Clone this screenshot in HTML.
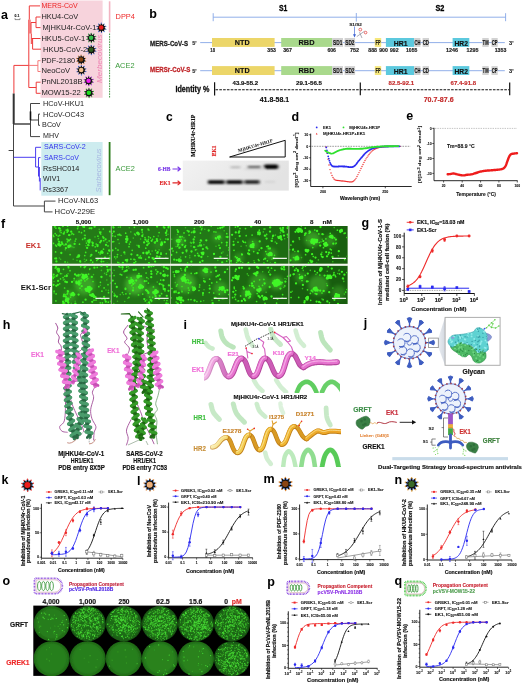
<!DOCTYPE html>
<html><head><meta charset="utf-8"><title>Figure</title>
<style>html,body{margin:0;padding:0;background:#fff}svg{display:block}text{font-family:"Liberation Sans",sans-serif}</style>
</head><body>
<svg width="523" height="685" viewBox="0 0 523 685" fill="none">
<rect width="523" height="685" fill="#fff"/>
<g fill="#000">
<g><rect x="40.5" y="0.5" width="62.1" height="97.3" fill="#f7d3dc"/>
<rect x="41.3" y="142" width="61.3" height="53.7" fill="#cdecef"/>
<text x="1" y="19.2" font-size="12.5" font-weight="700">a</text>
<text x="14.6" y="17.2" font-size="3.4" font-weight="700" stroke="#000" stroke-width="0.08">0.1</text>
<path d="M15 18.2v1.4h5v-1.4" stroke="#222" stroke-width="0.5" fill="none"/>
<text x="41.4" y="8.25" font-size="7.4" fill="#ee2222" textLength="36.3" lengthAdjust="spacingAndGlyphs">MERS-CoV</text>
<text x="41.4" y="19.45" font-size="7.4" fill="#222" textLength="36.8" lengthAdjust="spacingAndGlyphs">HKU4-CoV</text>
<text x="42.6" y="30.25" font-size="7.4" fill="#222" textLength="53.9" lengthAdjust="spacingAndGlyphs">MjHKU4r-CoV-1</text>
<text x="41.4" y="41.05" font-size="7.4" fill="#222" textLength="43.8" lengthAdjust="spacingAndGlyphs">HKU5-CoV-1</text>
<text x="43.1" y="51.85" font-size="7.4" fill="#222" textLength="44.1" lengthAdjust="spacingAndGlyphs">HKU5-CoV-2</text>
<text x="41.4" y="62.65" font-size="7.4" fill="#222" textLength="33.8" lengthAdjust="spacingAndGlyphs">PDF-2180</text>
<text x="41.4" y="73.35" font-size="7.4" fill="#222" textLength="28.8" lengthAdjust="spacingAndGlyphs">NeoCoV</text>
<text x="41.4" y="84.15" font-size="7.4" fill="#222" textLength="41.3" lengthAdjust="spacingAndGlyphs">PnNL2018B</text>
<text x="41.4" y="95.05" font-size="7.4" fill="#222" textLength="39.3" lengthAdjust="spacingAndGlyphs">MOW15-22</text>
<text x="43.1" y="106.25" font-size="7.4" fill="#222" textLength="40.9" lengthAdjust="spacingAndGlyphs">HCoV-HKU1</text>
<text x="43.1" y="116.65" font-size="7.4" fill="#222" textLength="40.9" lengthAdjust="spacingAndGlyphs">HCoV-OC43</text>
<text x="42.1" y="127.25" font-size="7.4" fill="#222" textLength="18.8" lengthAdjust="spacingAndGlyphs">BCoV</text>
<text x="43.1" y="138.25" font-size="7.4" fill="#222" textLength="15.8" lengthAdjust="spacingAndGlyphs">MHV</text>
<text x="43.9" y="149.05" font-size="7.4" fill="#3333ee" textLength="41.8" lengthAdjust="spacingAndGlyphs">SARS-CoV-2</text>
<text x="43.9" y="159.85" font-size="7.4" fill="#3333ee" textLength="35" lengthAdjust="spacingAndGlyphs">SARS-CoV</text>
<text x="43.1" y="170.65" font-size="7.4" fill="#222" textLength="36.3" lengthAdjust="spacingAndGlyphs">RsSHC014</text>
<text x="43.1" y="181.45" font-size="7.4" fill="#222" textLength="17.1" lengthAdjust="spacingAndGlyphs">WIV1</text>
<text x="43.1" y="192.15" font-size="7.4" fill="#222" textLength="25.1" lengthAdjust="spacingAndGlyphs">Rs3367</text>
<text x="58.1" y="203.25" font-size="7.4" fill="#222" textLength="40.1" lengthAdjust="spacingAndGlyphs">HCoV-NL63</text>
<text x="54.6" y="213.85" font-size="7.4" fill="#222" textLength="40.6" lengthAdjust="spacingAndGlyphs">HCoV-229E</text>
<path d="M40 5.9H29.3V19.6M28.8 19.6V87.5H36.2M36.2 82.2V93.3M36.2 82.2H40.5M36.2 93.3H40.5M40.5 17H36V27.6H40.5M36 22.5H31V33.5M30 19.6V33.5M31.3 33.5V44M31.5 38.5H40.5M32.6 38.5V49.2H41M13.9 93.5V65.4H28.8" stroke="#ee3a3a" stroke-width="1" fill="none"/>
<path d="M28.8 65.4H37.9M37.9 60.7V71.5M37.9 60.7H40.5M37.9 71.5H40.5" stroke="#f47a7a" stroke-width="1" fill="none"/>
<path d="M13.7 93.5V124" stroke="#333" stroke-width="2" fill="none"/>
<path d="M13.5 124V206H44.4M44.4 201.1V211.9M44.4 201.1H55.5M44.4 211.9H52.5M8.6 150.5H13.5" stroke="#444" stroke-width="1" fill="none"/>
<path d="M13.6 124H30.5" stroke="#444" stroke-width="1.5" fill="none"/>
<path d="M30.5 103.5V136.6M30.5 103.5H40M30.5 136.6H40M30.5 120H38.5M38.5 114.1V125.3M38.5 114.1H40M38.5 125.3H40" stroke="#444" stroke-width="1" fill="none"/>
<path d="M30.5 111.4V120.2" stroke="#111" stroke-width="1.6" fill="none"/>
<path d="M13.6 157.3H35.6M35.6 147.3V167M35.6 147.3H41M35.6 167H38.5M38.5 157.6V176.5M38.5 157.6H40.5M39.4 167V181.5M40.2 178V190.4" stroke="#4a3cf0" stroke-width="1" fill="none"/>
<path d="M103.31 28.39L105.51 29.07M102.6 29.4L103.98 31.24M101.43 29.8L101.46 32.1M100.25 29.43L98.92 31.31M99.51 28.44L97.33 29.19M99.49 27.21L97.29 26.53M100.2 26.2L98.82 24.36M101.37 25.8L101.34 23.5M102.55 26.17L103.88 24.29M103.29 27.16L105.47 26.41" stroke="#111" stroke-width="1.22" fill="none"/><path d="M105.9 29.2h.01M104.2 31.6h.01M101.5 32.5h.01M98.7 31.6h.01M97.0 29.3h.01M96.9 26.4h.01M98.6 24.0h.01M101.3 23.1h.01M104.1 24.0h.01M105.8 26.3h.01" stroke="#2a5fd0" stroke-width="1.13" stroke-linecap="round" fill="none"/><circle cx="101.4" cy="27.8" r="3.25" fill="#111"/><circle cx="101.2" cy="27.6" r="2.25" fill="#ee1c1c"/>
<path d="M93.21 38.49L95.41 39.17M92.5 39.5L93.88 41.34M91.33 39.9L91.36 42.2M90.15 39.53L88.82 41.41M89.41 38.54L87.23 39.29M89.39 37.31L87.19 36.63M90.1 36.3L88.72 34.46M91.27 35.9L91.24 33.6M92.45 36.27L93.78 34.39M93.19 37.26L95.37 36.51" stroke="#111" stroke-width="1.22" fill="none"/><path d="M95.8 39.3h.01M94.1 41.7h.01M91.4 42.6h.01M88.6 41.7h.01M86.9 39.4h.01M86.8 36.5h.01M88.5 34.1h.01M91.2 33.2h.01M94.0 34.1h.01M95.7 36.4h.01" stroke="#2a9a40" stroke-width="1.13" stroke-linecap="round" fill="none"/><circle cx="91.3" cy="37.9" r="3.25" fill="#111"/><circle cx="91.1" cy="37.7" r="2.25" fill="#35c24a"/>
<path d="M93.21 50.49L95.41 51.17M92.5 51.5L93.88 53.34M91.33 51.9L91.36 54.2M90.15 51.53L88.82 53.41M89.41 50.54L87.23 51.29M89.39 49.31L87.19 48.63M90.1 48.3L88.72 46.46M91.27 47.9L91.24 45.6M92.45 48.27L93.78 46.39M93.19 49.26L95.37 48.51" stroke="#111" stroke-width="1.22" fill="none"/><path d="M95.8 51.3h.01M94.1 53.7h.01M91.4 54.6h.01M88.6 53.7h.01M86.9 51.4h.01M86.8 48.5h.01M88.5 46.1h.01M91.2 45.2h.01M94.0 46.1h.01M95.7 48.4h.01" stroke="#2a5fd0" stroke-width="1.13" stroke-linecap="round" fill="none"/><circle cx="91.3" cy="49.9" r="3.25" fill="#111"/><circle cx="91.1" cy="49.7" r="2.25" fill="#2d5a1e"/>
<path d="M83.11 60.39L85.31 61.07M82.4 61.4L83.78 63.24M81.23 61.8L81.26 64.1M80.05 61.43L78.72 63.31M79.31 60.44L77.13 61.19M79.29 59.21L77.09 58.53M80 58.2L78.62 56.36M81.17 57.8L81.14 55.5M82.35 58.17L83.68 56.29M83.09 59.16L85.27 58.41" stroke="#111" stroke-width="1.22" fill="none"/><path d="M85.7 61.2h.01M84.0 63.6h.01M81.3 64.5h.01M78.5 63.6h.01M76.8 61.3h.01M76.7 58.4h.01M78.4 56.0h.01M81.1 55.1h.01M83.9 56.0h.01M85.6 58.3h.01" stroke="#d08030" stroke-width="1.13" stroke-linecap="round" fill="none"/><circle cx="81.2" cy="59.8" r="3.25" fill="#111"/><circle cx="81" cy="59.6" r="2.25" fill="#8a4513"/>
<path d="M83.31 70.79L85.51 71.47M82.6 71.8L83.98 73.64M81.43 72.2L81.46 74.5M80.25 71.83L78.92 73.71M79.51 70.84L77.33 71.59M79.49 69.61L77.29 68.93M80.2 68.6L78.82 66.76M81.37 68.2L81.34 65.9M82.55 68.57L83.88 66.69M83.29 69.56L85.47 68.81" stroke="#111" stroke-width="1.22" fill="none"/><path d="M85.9 71.6h.01M84.2 74.0h.01M81.5 74.9h.01M78.7 74.0h.01M77.0 71.7h.01M76.9 68.8h.01M78.6 66.4h.01M81.3 65.5h.01M84.1 66.4h.01M85.8 68.7h.01" stroke="#2a5fd0" stroke-width="1.13" stroke-linecap="round" fill="none"/><circle cx="81.4" cy="70.2" r="3.25" fill="#111"/><circle cx="81.2" cy="70" r="2.25" fill="#f2bf8a"/>
<path d="M90.61 81.49L92.81 82.17M89.9 82.5L91.28 84.34M88.73 82.9L88.76 85.2M87.55 82.53L86.22 84.41M86.81 81.54L84.63 82.29M86.79 80.31L84.59 79.63M87.5 79.3L86.12 77.46M88.67 78.9L88.64 76.6M89.85 79.27L91.18 77.39M90.59 80.26L92.77 79.51" stroke="#111" stroke-width="1.22" fill="none"/><path d="M93.2 82.3h.01M91.5 84.7h.01M88.8 85.6h.01M86.0 84.7h.01M84.3 82.4h.01M84.2 79.5h.01M85.9 77.1h.01M88.6 76.2h.01M91.4 77.1h.01M93.1 79.4h.01" stroke="#a020e0" stroke-width="1.13" stroke-linecap="round" fill="none"/><circle cx="88.7" cy="80.9" r="3.25" fill="#111"/><circle cx="88.5" cy="80.7" r="2.25" fill="#f020f0"/>
<path d="M90.91 93.49L93.11 94.17M90.2 94.5L91.58 96.34M89.03 94.9L89.06 97.2M87.85 94.53L86.52 96.41M87.11 93.54L84.93 94.29M87.09 92.31L84.89 91.63M87.8 91.3L86.42 89.46M88.97 90.9L88.94 88.6M90.15 91.27L91.48 89.39M90.89 92.26L93.07 91.51" stroke="#111" stroke-width="1.22" fill="none"/><path d="M93.5 94.3h.01M91.8 96.7h.01M89.1 97.6h.01M86.3 96.7h.01M84.6 94.4h.01M84.5 91.5h.01M86.2 89.1h.01M88.9 88.2h.01M91.7 89.1h.01M93.4 91.4h.01" stroke="#30b030" stroke-width="1.13" stroke-linecap="round" fill="none"/><circle cx="89" cy="92.9" r="3.25" fill="#111"/><circle cx="88.8" cy="92.7" r="2.25" fill="#22e022"/>
<text font-size="8.08" font-style="italic" fill="#ee86b4" transform="translate(102.49 83) rotate(-90)">Merbecovirus</text>
<text font-size="7.57" font-style="italic" fill="#a9b9e2" transform="translate(100.51 192.5) rotate(-90)">Sarbecovirus</text>
<path d="M109.6 1.3V32.4" stroke="#f2b4c2" stroke-width="1.6" fill="none"/>
<path d="M109.6 33.5V98" stroke="#2e8b2e" stroke-width="0.9" fill="none" stroke-dasharray="1.6 1"/>
<path d="M109.6 142V195.2" stroke="#2a7a1a" stroke-width="1.8" fill="none"/>
<text x="115.6" y="19.05" font-size="7.4" fill="#ee2a2a">DPP4</text>
<text x="115.2" y="68.05" font-size="7.4" fill="#3a9a3a">ACE2</text>
<text x="115.6" y="170.55" font-size="7.4" fill="#3a9a3a">ACE2</text></g>
<g><text x="149.3" y="18.1" font-size="12.5" font-weight="700">b</text>
<path d="M213.2 17.2H505.6M213.2 13.2V21.2M505.6 13.2V21.2M356.3 13V21.6" stroke="#86a6e6" stroke-width="0.9" fill="none"/>
<text x="279" y="11.33" font-size="9.3" font-weight="700" textLength="8.4" lengthAdjust="spacingAndGlyphs" stroke="#000" stroke-width="0.3">S1</text>
<text x="435.4" y="11.33" font-size="9.3" font-weight="700" textLength="9" lengthAdjust="spacingAndGlyphs" stroke="#000" stroke-width="0.3">S2</text>
<text x="349.2" y="25.5" font-size="4.2" font-weight="700" fill="#222" stroke="#222" stroke-width="0.08" textLength="12.8" lengthAdjust="spacingAndGlyphs">S1/S2</text>
<path d="M354.5 26.5V35" stroke="#4a6fd8" stroke-width="0.7" fill="none"/>
<path d="M353 34.2L354.5 37.6L356 34.2Z" stroke="none" stroke-width="0" fill="#3a5fd0"/>
<path d="M356.8 36.6L364.5 31.2M359.5 32.2L362 38" stroke="#8a8a9a" stroke-width="0.7" fill="none"/>
<circle cx="360.3" cy="29.6" r="1.4" fill="none" stroke="#e03030" stroke-width="0.7"/><circle cx="365.6" cy="32.6" r="1.3" fill="none" stroke="#e03030" stroke-width="0.7"/>
<path d="M200.2 42.6 H504.8" stroke="#86a6e6" stroke-width="0.9" fill="none"/>
<rect x="212" y="38" width="62.6" height="8.9" fill="#ecd669"/>
<rect x="281.2" y="38" width="50.9" height="8.9" fill="#a9d98c"/>
<rect x="332.1" y="38" width="10.9" height="8.9" fill="#d2d2d2"/>
<rect x="344.6" y="38" width="10.5" height="8.9" fill="#d2d2d2"/>
<rect x="374.8" y="38" width="6.4" height="8.9" fill="#f6e77c"/>
<rect x="385.9" y="38" width="28.3" height="8.9" fill="#5cc9de"/>
<rect x="414.2" y="38" width="6.2" height="8.9" fill="#d2d2d2"/>
<rect x="422.6" y="38" width="6.4" height="8.9" fill="#d2d2d2"/>
<rect x="452.6" y="38" width="16.7" height="8.9" fill="#5cc9de"/>
<rect x="482.3" y="38" width="6.4" height="8.9" fill="#d2d2d2"/>
<rect x="491.5" y="38" width="6.2" height="8.9" fill="#d2d2d2"/>
<text x="234.8" y="45.28" font-size="7.2" font-weight="700" fill="#111" stroke="#111" stroke-width="0.15" textLength="14.8" lengthAdjust="spacingAndGlyphs">NTD</text>
<text x="298.5" y="45.35" font-size="7.4" font-weight="700" fill="#111" stroke="#111" stroke-width="0.15" textLength="16" lengthAdjust="spacingAndGlyphs">RBD</text>
<text x="333" y="44.87" font-size="6.9" font-weight="700" fill="#111" stroke="#111" stroke-width="0.15" textLength="9.3" lengthAdjust="spacingAndGlyphs">SD1</text>
<text x="345.3" y="44.87" font-size="6.9" font-weight="700" fill="#111" stroke="#111" stroke-width="0.15" textLength="9.2" lengthAdjust="spacingAndGlyphs">SD2</text>
<text x="375.6" y="44.97" font-size="6.9" font-weight="700" fill="#111" stroke="#111" stroke-width="0.15" textLength="5" lengthAdjust="spacingAndGlyphs">FP</text>
<text x="393.7" y="45.59" font-size="7.8" font-weight="700" fill="#111" textLength="13.8" lengthAdjust="spacingAndGlyphs" stroke="#111" stroke-width="0.2">HR1</text>
<text x="414.5" y="44.97" font-size="6.9" font-weight="700" fill="#111" stroke="#111" stroke-width="0.15" textLength="5.9" lengthAdjust="spacingAndGlyphs">CH</text>
<text x="422.7" y="44.97" font-size="6.9" font-weight="700" fill="#111" stroke="#111" stroke-width="0.15" textLength="6.2" lengthAdjust="spacingAndGlyphs">CD</text>
<text x="454.5" y="45.59" font-size="7.8" font-weight="700" fill="#111" textLength="13.5" lengthAdjust="spacingAndGlyphs" stroke="#111" stroke-width="0.2">HR2</text>
<text x="482.6" y="44.97" font-size="6.9" font-weight="700" fill="#111" stroke="#111" stroke-width="0.15" textLength="6" lengthAdjust="spacingAndGlyphs">TM</text>
<text x="491.8" y="44.97" font-size="6.9" font-weight="700" fill="#111" stroke="#111" stroke-width="0.15" textLength="5.8" lengthAdjust="spacingAndGlyphs">CP</text>
<text x="150.1" y="45.79" font-size="7.8" font-weight="700" fill="#222" textLength="37.9" lengthAdjust="spacingAndGlyphs" stroke="#222" stroke-width="0.3">MERS-CoV-S</text>
<text x="192.2" y="44.92" font-size="4.8" font-weight="700" fill="#222" stroke="#222" stroke-width="0.08" textLength="4.4" lengthAdjust="spacingAndGlyphs">5'</text>
<text x="509" y="45.12" font-size="4.8" font-weight="700" fill="#222" stroke="#222" stroke-width="0.08" textLength="4.5" lengthAdjust="spacingAndGlyphs">3'</text>
<path d="M200.2 70.7 H504.8" stroke="#86a6e6" stroke-width="0.9" fill="none"/>
<rect x="212" y="66.1" width="62.6" height="8.9" fill="#ecd669"/>
<rect x="281.2" y="66.1" width="50.9" height="8.9" fill="#a9d98c"/>
<rect x="332.1" y="66.1" width="10.9" height="8.9" fill="#d2d2d2"/>
<rect x="344.6" y="66.1" width="10.5" height="8.9" fill="#d2d2d2"/>
<rect x="374.8" y="66.1" width="6.4" height="8.9" fill="#f6e77c"/>
<rect x="385.9" y="66.1" width="28.3" height="8.9" fill="#5cc9de"/>
<rect x="414.2" y="66.1" width="6.2" height="8.9" fill="#d2d2d2"/>
<rect x="422.6" y="66.1" width="6.4" height="8.9" fill="#d2d2d2"/>
<rect x="452.6" y="66.1" width="16.7" height="8.9" fill="#5cc9de"/>
<rect x="482.3" y="66.1" width="6.4" height="8.9" fill="#d2d2d2"/>
<rect x="491.5" y="66.1" width="6.2" height="8.9" fill="#d2d2d2"/>
<text x="234.8" y="73.38" font-size="7.2" font-weight="700" fill="#111" stroke="#111" stroke-width="0.15" textLength="14.8" lengthAdjust="spacingAndGlyphs">NTD</text>
<text x="298.5" y="73.45" font-size="7.4" font-weight="700" fill="#111" stroke="#111" stroke-width="0.15" textLength="16" lengthAdjust="spacingAndGlyphs">RBD</text>
<text x="333" y="72.97" font-size="6.9" font-weight="700" fill="#111" stroke="#111" stroke-width="0.15" textLength="9.3" lengthAdjust="spacingAndGlyphs">SD1</text>
<text x="345.3" y="72.97" font-size="6.9" font-weight="700" fill="#111" stroke="#111" stroke-width="0.15" textLength="9.2" lengthAdjust="spacingAndGlyphs">SD2</text>
<text x="375.6" y="73.07" font-size="6.9" font-weight="700" fill="#111" stroke="#111" stroke-width="0.15" textLength="5" lengthAdjust="spacingAndGlyphs">FP</text>
<text x="393.7" y="73.69" font-size="7.8" font-weight="700" fill="#111" textLength="13.8" lengthAdjust="spacingAndGlyphs" stroke="#111" stroke-width="0.2">HR1</text>
<text x="414.5" y="73.07" font-size="6.9" font-weight="700" fill="#111" stroke="#111" stroke-width="0.15" textLength="5.9" lengthAdjust="spacingAndGlyphs">CH</text>
<text x="422.7" y="73.07" font-size="6.9" font-weight="700" fill="#111" stroke="#111" stroke-width="0.15" textLength="6.2" lengthAdjust="spacingAndGlyphs">CD</text>
<text x="454.5" y="73.69" font-size="7.8" font-weight="700" fill="#111" textLength="13.5" lengthAdjust="spacingAndGlyphs" stroke="#111" stroke-width="0.2">HR2</text>
<text x="482.6" y="73.07" font-size="6.9" font-weight="700" fill="#111" stroke="#111" stroke-width="0.15" textLength="6" lengthAdjust="spacingAndGlyphs">TM</text>
<text x="491.8" y="73.07" font-size="6.9" font-weight="700" fill="#111" stroke="#111" stroke-width="0.15" textLength="5.8" lengthAdjust="spacingAndGlyphs">CP</text>
<text x="150.1" y="72.09" font-size="7.8" font-weight="700" fill="#c0262a" textLength="40.2" lengthAdjust="spacingAndGlyphs" stroke="#c0262a" stroke-width="0.3">MERSr-CoV-S</text>
<text x="192.2" y="73.02" font-size="4.8" font-weight="700" fill="#222" stroke="#222" stroke-width="0.08" textLength="4.4" lengthAdjust="spacingAndGlyphs">5'</text>
<text x="509" y="73.22" font-size="4.8" font-weight="700" fill="#222" stroke="#222" stroke-width="0.08" textLength="4.5" lengthAdjust="spacingAndGlyphs">3'</text>
<text x="210.3" y="52.39" font-size="5" font-weight="700" fill="#222" stroke="#222" stroke-width="0.15" textLength="4.7" lengthAdjust="spacingAndGlyphs">18</text>
<text x="267.3" y="52.39" font-size="5" font-weight="700" fill="#222" stroke="#222" stroke-width="0.15" textLength="8.7" lengthAdjust="spacingAndGlyphs">353</text>
<text x="283.2" y="52.39" font-size="5" font-weight="700" fill="#222" stroke="#222" stroke-width="0.15" textLength="8.8" lengthAdjust="spacingAndGlyphs">367</text>
<text x="327.4" y="52.39" font-size="5" font-weight="700" fill="#222" stroke="#222" stroke-width="0.15" textLength="8.6" lengthAdjust="spacingAndGlyphs">606</text>
<text x="350" y="52.39" font-size="5" font-weight="700" fill="#222" stroke="#222" stroke-width="0.15" textLength="9" lengthAdjust="spacingAndGlyphs">752</text>
<text x="368.3" y="52.39" font-size="5" font-weight="700" fill="#222" stroke="#222" stroke-width="0.15" textLength="8.7" lengthAdjust="spacingAndGlyphs">888</text>
<text x="379.2" y="52.39" font-size="5" font-weight="700" fill="#222" stroke="#222" stroke-width="0.15" textLength="8.6" lengthAdjust="spacingAndGlyphs">900</text>
<text x="390" y="52.39" font-size="5" font-weight="700" fill="#222" stroke="#222" stroke-width="0.15" textLength="8.5" lengthAdjust="spacingAndGlyphs">992</text>
<text x="406" y="52.39" font-size="5" font-weight="700" fill="#222" stroke="#222" stroke-width="0.15" textLength="11.3" lengthAdjust="spacingAndGlyphs">1055</text>
<text x="446" y="52.39" font-size="5" font-weight="700" fill="#222" stroke="#222" stroke-width="0.15" textLength="12" lengthAdjust="spacingAndGlyphs">1246</text>
<text x="466.6" y="52.39" font-size="5" font-weight="700" fill="#222" stroke="#222" stroke-width="0.15" textLength="11.9" lengthAdjust="spacingAndGlyphs">1295</text>
<text x="494.7" y="52.39" font-size="5" font-weight="700" fill="#222" stroke="#222" stroke-width="0.15" textLength="11.6" lengthAdjust="spacingAndGlyphs">1353</text>
<text x="175.4" y="91.94" font-size="8.2" font-weight="700" fill="#111" textLength="34" lengthAdjust="spacingAndGlyphs" stroke="#111" stroke-width="0.3">Identity %</text>
<path d="M214.6 82.3V95.5M360.3 82.4V95.2M509.7 82.4V95.2" stroke="#111" stroke-width="1.2" fill="none"/>
<path d="M215.5 89.8H509" stroke="#111" stroke-width="1.1" fill="none" stroke-dasharray="2.6 1.2"/>
<text x="232.5" y="84.92" font-size="6.2" font-weight="700" fill="#111" stroke="#111" stroke-width="0.15" textLength="25.7" lengthAdjust="spacingAndGlyphs">43.9-55.2</text>
<text x="296" y="84.92" font-size="6.2" font-weight="700" fill="#111" stroke="#111" stroke-width="0.15" textLength="26" lengthAdjust="spacingAndGlyphs">29.1-56.5</text>
<text x="388.5" y="85.32" font-size="6.2" font-weight="700" fill="#c42a2a" stroke="#c42a2a" stroke-width="0.15" textLength="25.7" lengthAdjust="spacingAndGlyphs">82.5-92.1</text>
<text x="450.6" y="85.32" font-size="6.2" font-weight="700" fill="#c42a2a" stroke="#c42a2a" stroke-width="0.15" textLength="25.4" lengthAdjust="spacingAndGlyphs">67.4-91.8</text>
<text x="259.7" y="102.01" font-size="7.3" font-weight="700" fill="#111" stroke="#111" stroke-width="0.15" textLength="29.5" lengthAdjust="spacingAndGlyphs">41.8-58.1</text>
<text x="423.7" y="102.01" font-size="7.3" font-weight="700" fill="#c42a2a" stroke="#c42a2a" stroke-width="0.15" textLength="29.9" lengthAdjust="spacingAndGlyphs">70.7-87.6</text></g>
<g><defs><filter id="bl" x="-20%" y="-100%" width="140%" height="300%"><feGaussianBlur stdDeviation="1.4 0.9"/></filter></defs>
<text x="166" y="120.7" font-size="12" font-weight="700">c</text>
<text font-size="5.6" font-weight="700" style="font-family:Liberation Serif,serif" fill="#111" stroke="#111" stroke-width="0.15" textLength="42" lengthAdjust="spacingAndGlyphs" transform="translate(194.9 156.7) rotate(-90)">MjHKU4r-HR1P</text>
<text font-size="5.6" font-weight="700" style="font-family:Liberation Serif,serif" fill="#e02a2a" stroke="#e02a2a" stroke-width="0.15" textLength="10.7" lengthAdjust="spacingAndGlyphs" transform="translate(215.8 156.2) rotate(-90)">EK1</text>
<path d="M229.6 157H285.2V140.3Z" stroke="#111" stroke-width="1" fill="#fff"/>
<text font-size="4.8" font-weight="700" style="font-family:Liberation Serif,serif" fill="#111" transform="translate(238.5 152.2) rotate(-16.5)" textLength="36" lengthAdjust="spacingAndGlyphs">MjHKU4r-HR1P</text>
<defs><linearGradient id="gg" x1="0" y1="0" x2="1" y2="0.3"><stop offset="0" stop-color="#f2f2f2"/><stop offset="1" stop-color="#e3e3e3"/></linearGradient></defs>
<rect x="182.8" y="160.6" width="106" height="30" fill="url(#gg)"/>
<g filter="url(#bl)">
<rect x="208" y="180.3" width="16.5" height="3.6" fill="#050505"/>
<rect x="226.5" y="180.3" width="16" height="3.6" fill="#050505"/>
<rect x="244.5" y="180.4" width="15" height="3.3" fill="#0a0a0a"/>
<rect x="265" y="181" width="10" height="1.6" fill="#cfcfcf"/>
<rect x="230.5" y="166.5" width="10" height="1.6" fill="#a8a8a8"/>
<rect x="247.7" y="166" width="13" height="2.2" fill="#4a4a4a"/>
<rect x="263.8" y="164.4" width="14.6" height="4.6" fill="#060606" rx="2"/>
<rect x="244" y="168.5" width="20" height="1.2" fill="#cfcfcf"/>
</g>
<text x="158" y="171.08" font-size="5.8" font-weight="700" style="font-family:Liberation Serif,serif" fill="#7a38e8" stroke="#7a38e8" stroke-width="0.15" textLength="12.5" lengthAdjust="spacingAndGlyphs">6-HB</text>
<path d="M172.5 169H180M177.6 166.8L180.4 169L177.6 171.2" stroke="#7a38e8" stroke-width="1.1" fill="none"/>
<text x="159.4" y="184.98" font-size="5.8" font-weight="700" style="font-family:Liberation Serif,serif" fill="#e0282a" stroke="#e0282a" stroke-width="0.15" textLength="11.1" lengthAdjust="spacingAndGlyphs">EK1</text>
<path d="M172.5 182.9H180M177.6 180.7L180.4 182.9L177.6 185.1" stroke="#e0282a" stroke-width="1.1" fill="none"/></g>
<g><text x="291.6" y="120.6" font-size="12.5" font-weight="700">d</text>
<circle cx="316.7" cy="127.4" r="0.9" fill="#2a2af0"/>
<text x="322.9" y="128.9" font-size="4.2" font-weight="700" fill="#111" stroke="#111" stroke-width="0.08" textLength="8.1" lengthAdjust="spacingAndGlyphs">EK1</text>
<circle cx="343.5" cy="127.4" r="0.9" fill="#2ee02e"/>
<text x="349.2" y="128.9" font-size="4.2" font-weight="700" fill="#111" stroke="#111" stroke-width="0.08" textLength="31" lengthAdjust="spacingAndGlyphs">MjHKU4r-HR1P</text>
<path d="M316.7 132.8l.9 1.6h-1.8z" stroke="none" stroke-width="0" fill="#ee2222"/>
<text x="322.9" y="135.3" font-size="4.2" font-weight="700" fill="#111" stroke="#111" stroke-width="0.08" textLength="42.4" lengthAdjust="spacingAndGlyphs">MjHKU4r-HR1P+EK1</text>
<path d="M310.7 133.6V186.5H411.7" stroke="#111" stroke-width="0.9" fill="none"/>
<path d="M309 134.8H310.7M309 146.3H310.7M309 157.8H310.7M309 169.2H310.7M309 180.7H310.7M322.9 186.5V188.3M385.3 186.5V188.3" stroke="#111" stroke-width="0.7" fill="none"/>
<text x="308.3" y="136.09" font-size="3.6" font-weight="700" text-anchor="end" fill="#111" stroke="#111" stroke-width="0.08">10</text>
<text x="308.3" y="147.59" font-size="3.6" font-weight="700" text-anchor="end" fill="#111" stroke="#111" stroke-width="0.08">0</text>
<text x="308.3" y="159.09" font-size="3.6" font-weight="700" text-anchor="end" fill="#111" stroke="#111" stroke-width="0.08">-10</text>
<text x="308.3" y="170.49" font-size="3.6" font-weight="700" text-anchor="end" fill="#111" stroke="#111" stroke-width="0.08">-20</text>
<text x="308.3" y="181.99" font-size="3.6" font-weight="700" text-anchor="end" fill="#111" stroke="#111" stroke-width="0.08">-30</text>
<text x="322.9" y="193" font-size="3.6" font-weight="700" text-anchor="middle" fill="#111" stroke="#111" stroke-width="0.08">200</text>
<text x="385.3" y="193" font-size="3.6" font-weight="700" text-anchor="middle" fill="#111" stroke="#111" stroke-width="0.08">250</text>
<path d="M311.5 146.3H410.5" stroke="#555" stroke-width="0.6" fill="none" stroke-dasharray="1.6 1"/>
<text font-size="4.3" font-weight="700" fill="#111" stroke="#111" stroke-width="0.08" textLength="55.1" lengthAdjust="spacingAndGlyphs" transform="translate(297.74 187.6) rotate(-90)">[θ]10<tspan font-size="2.6" dy="-1.4">-3</tspan><tspan dy="1.4"> deg cm</tspan><tspan font-size="2.6" dy="-1.4">2</tspan><tspan dy="1.4"> dmol</tspan><tspan font-size="2.6" dy="-1.4">-1</tspan><tspan dy="1.4">]</tspan></text>
<text x="340" y="200.39" font-size="5" font-weight="700" fill="#111" stroke="#111" stroke-width="0.15" textLength="40.2" lengthAdjust="spacingAndGlyphs">Wavelength (nm)</text>
<path d="M326.0 147.0h.01M327.0 153.0h.01M328.0 159.2h.01M329.0 165.0h.01M330.0 169.6h.01M331.0 173.0h.01M332.0 175.5h.01M333.0 177.5h.01M334.0 179.0h.01M335.0 179.8h.01M336.0 180.2h.01M337.0 180.4h.01M338.0 180.5h.01M339.0 180.6h.01M340.0 180.7h.01M341.0 180.9h.01M342.0 181.0h.01M343.0 181.0h.01M344.0 181.1h.01M345.0 181.2h.01M346.0 181.4h.01M347.0 181.6h.01M348.0 181.7h.01M349.0 181.8h.01M350.0 181.9h.01M351.0 181.9h.01M352.0 181.8h.01M353.0 181.5h.01M354.0 180.7h.01M355.0 179.7h.01M356.0 178.3h.01M357.0 176.5h.01M358.0 174.6h.01M359.0 172.6h.01M360.0 170.6h.01M361.0 168.5h.01M362.0 166.5h.01M363.0 164.5h.01M364.0 162.4h.01M365.0 160.5h.01M366.0 158.8h.01M367.0 157.3h.01M368.0 155.9h.01M369.0 154.5h.01M370.0 153.2h.01M371.0 152.1h.01M372.0 151.1h.01M373.0 150.3h.01M374.0 149.6h.01M375.0 149.0h.01M376.0 148.6h.01M377.0 148.2h.01M378.0 147.9h.01M379.0 147.6h.01M380.0 147.4h.01M381.0 147.2h.01M382.0 147.1h.01M383.0 146.9h.01M384.0 146.8h.01M385.0 146.7h.01M386.0 146.6h.01M387.0 146.5h.01M388.0 146.5h.01M389.0 146.4h.01M390.0 146.4h.01M391.0 146.4h.01M392.0 146.4h.01M393.0 146.3h.01M394.0 146.3h.01M395.0 146.3h.01M396.0 146.3h.01M397.0 146.3h.01M398.0 146.3h.01M399.0 146.3h.01M400.0 146.3h.01" stroke="#ee2222" stroke-width="1.3" stroke-linecap="round" fill="none"/>
<path d="M326.3 147.4h.01M326.9 150.3h.01M327.5 153.2h.01M328.2 156.3h.01M328.8 158.6h.01M329.4 160.7h.01M330.0 162.6h.01M330.6 164.0h.01M331.3 165.0h.01M331.9 165.7h.01M332.5 166.1h.01M333.1 166.4h.01M333.7 166.5h.01M334.4 166.6h.01M335.0 166.7h.01M335.6 166.7h.01M336.2 166.7h.01M336.8 166.6h.01M337.5 166.6h.01M338.1 166.5h.01M338.7 166.5h.01M339.3 166.4h.01M339.9 166.4h.01M340.6 166.4h.01M341.2 166.4h.01M341.8 166.4h.01M342.4 166.4h.01M343.0 166.5h.01M343.7 166.5h.01M344.3 166.5h.01M344.9 166.5h.01M345.5 166.6h.01M346.1 166.6h.01M346.8 166.7h.01M347.4 166.8h.01M348.0 166.9h.01M348.6 167.0h.01M349.2 167.1h.01M349.9 167.2h.01M350.5 167.2h.01M351.1 167.2h.01M351.7 167.2h.01M352.3 167.0h.01M353.0 166.8h.01M353.6 166.5h.01M354.2 166.1h.01M354.8 165.7h.01M355.4 165.1h.01M356.1 164.3h.01M356.7 163.5h.01M357.3 162.7h.01M357.9 161.8h.01M358.5 161.0h.01M359.2 160.3h.01M359.8 159.6h.01M360.4 158.8h.01M361.0 158.1h.01M361.6 157.4h.01M362.3 156.7h.01M362.9 155.9h.01M363.5 155.2h.01M364.1 154.5h.01M364.7 153.8h.01M365.4 153.1h.01M366.0 152.6h.01M366.6 152.1h.01M367.2 151.6h.01M367.8 151.1h.01M368.5 150.7h.01M369.1 150.2h.01M369.7 149.9h.01M370.3 149.5h.01M370.9 149.2h.01M371.6 148.9h.01M372.2 148.6h.01M372.8 148.4h.01M373.4 148.2h.01M374.0 148.0h.01M374.7 147.8h.01M375.3 147.7h.01M375.9 147.5h.01M376.5 147.4h.01M377.1 147.3h.01M377.8 147.2h.01M378.4 147.1h.01M379.0 147.0h.01M379.6 147.0h.01M380.2 146.9h.01M380.9 146.8h.01M381.5 146.8h.01M382.1 146.7h.01M382.7 146.7h.01M383.3 146.7h.01M384.0 146.6h.01M384.6 146.6h.01M385.2 146.6h.01M385.8 146.5h.01M386.4 146.5h.01M387.1 146.5h.01M387.7 146.5h.01M388.3 146.5h.01M388.9 146.4h.01M389.5 146.4h.01M390.2 146.4h.01M390.8 146.4h.01M391.4 146.4h.01M392.0 146.4h.01M392.6 146.4h.01M393.3 146.3h.01M393.9 146.3h.01M394.5 146.3h.01M395.1 146.3h.01M395.7 146.3h.01M396.4 146.3h.01M397.0 146.3h.01M397.6 146.3h.01M398.2 146.3h.01M398.8 146.3h.01M399.5 146.3h.01" stroke="#2a2af0" stroke-width="1.8" stroke-linecap="round" fill="none"/>
<path d="M325.2 150.6h.01M325.8 151.0h.01M326.4 151.5h.01M327.1 151.9h.01M327.7 152.2h.01M328.3 152.5h.01M328.9 152.8h.01M329.5 153.1h.01M330.2 153.3h.01M330.8 153.5h.01M331.4 153.6h.01M332.0 153.6h.01M332.6 153.4h.01M333.3 153.2h.01M333.9 152.9h.01M334.5 152.6h.01M335.1 152.3h.01M335.7 152.0h.01M336.4 151.6h.01M337.0 151.3h.01M337.6 151.0h.01M338.2 150.7h.01M338.8 150.5h.01M339.5 150.3h.01M340.1 150.1h.01M340.7 149.9h.01M341.3 149.8h.01M341.9 149.6h.01M342.6 149.5h.01M343.2 149.3h.01M343.8 149.2h.01M344.4 149.1h.01M345.0 149.0h.01M345.7 148.9h.01M346.3 148.9h.01M346.9 148.8h.01M347.5 148.8h.01M348.1 148.8h.01M348.8 148.8h.01M349.4 148.8h.01M350.0 148.8h.01M350.6 148.8h.01M351.2 148.8h.01M351.9 148.9h.01M352.5 148.9h.01M353.1 148.9h.01M353.7 148.9h.01M354.3 148.9h.01M355.0 148.9h.01M355.6 148.9h.01M356.2 148.9h.01M356.8 148.9h.01M357.4 148.9h.01M358.1 148.9h.01M358.7 148.9h.01M359.3 148.9h.01M359.9 148.8h.01M360.5 148.8h.01M361.2 148.8h.01M361.8 148.7h.01M362.4 148.7h.01M363.0 148.6h.01M363.6 148.5h.01M364.3 148.4h.01M364.9 148.4h.01M365.5 148.3h.01M366.1 148.2h.01M366.7 148.1h.01M367.4 148.0h.01M368.0 147.9h.01M368.6 147.8h.01M369.2 147.7h.01M369.8 147.6h.01M370.5 147.5h.01M371.1 147.4h.01M371.7 147.3h.01M372.3 147.2h.01M372.9 147.2h.01M373.6 147.1h.01M374.2 147.0h.01M374.8 147.0h.01M375.4 146.9h.01M376.0 146.9h.01M376.7 146.8h.01M377.3 146.8h.01M377.9 146.7h.01M378.5 146.7h.01M379.1 146.6h.01M379.8 146.6h.01M380.4 146.5h.01M381.0 146.5h.01M381.6 146.5h.01M382.2 146.4h.01M382.9 146.4h.01M383.5 146.4h.01M384.1 146.3h.01M384.7 146.3h.01M385.3 146.3h.01M386.0 146.3h.01M386.6 146.3h.01M387.2 146.2h.01M387.8 146.2h.01M388.4 146.2h.01M389.1 146.2h.01M389.7 146.2h.01M390.3 146.2h.01M390.9 146.2h.01M391.5 146.2h.01M392.2 146.2h.01M392.8 146.2h.01M393.4 146.2h.01M394.0 146.1h.01M394.6 146.1h.01M395.3 146.1h.01M395.9 146.1h.01M396.5 146.1h.01M397.1 146.1h.01M397.7 146.1h.01M398.4 146.1h.01" stroke="#2ee02e" stroke-width="1.9" stroke-linecap="round" fill="none"/></g>
<g><text x="406.2" y="120.4" font-size="12.5" font-weight="700">e</text>
<path d="M434 127.8V180.7H517.6" stroke="#111" stroke-width="0.9" fill="none"/>
<path d="M432.3 128.4H434M432.3 143.5H434M432.3 158.5H434M432.3 173.4H434M443.6 180.7V182.5M462.2 180.7V182.5M480.6 180.7V182.5M498.9 180.7V182.5M517.3 180.7V182.5" stroke="#111" stroke-width="0.7" fill="none"/>
<text x="431.6" y="129.62" font-size="3.4" font-weight="700" text-anchor="end" fill="#111" stroke="#111" stroke-width="0.08">0</text>
<text x="431.6" y="144.72" font-size="3.4" font-weight="700" text-anchor="end" fill="#111" stroke="#111" stroke-width="0.08">-10</text>
<text x="431.6" y="159.72" font-size="3.4" font-weight="700" text-anchor="end" fill="#111" stroke="#111" stroke-width="0.08">-20</text>
<text x="431.6" y="174.62" font-size="3.4" font-weight="700" text-anchor="end" fill="#111" stroke="#111" stroke-width="0.08">-30</text>
<text x="443.6" y="187.2" font-size="3.4" font-weight="700" text-anchor="middle" fill="#111" stroke="#111" stroke-width="0.08">20</text>
<text x="462.2" y="187.2" font-size="3.4" font-weight="700" text-anchor="middle" fill="#111" stroke="#111" stroke-width="0.08">40</text>
<text x="480.6" y="187.2" font-size="3.4" font-weight="700" text-anchor="middle" fill="#111" stroke="#111" stroke-width="0.08">60</text>
<text x="498.9" y="187.2" font-size="3.4" font-weight="700" text-anchor="middle" fill="#111" stroke="#111" stroke-width="0.08">80</text>
<text x="517.3" y="187.2" font-size="3.4" font-weight="700" text-anchor="middle" fill="#111" stroke="#111" stroke-width="0.08">100</text>
<path d="M435 128.4H517" stroke="#888" stroke-width="0.5" fill="none" stroke-dasharray="1.4 1"/>
<text font-size="4.2" font-weight="700" fill="#111" stroke="#111" stroke-width="0.08" textLength="57.3" lengthAdjust="spacingAndGlyphs" transform="translate(421.2 183) rotate(-90)">[θ]10<tspan font-size="2.6" dy="-1.4">-3</tspan><tspan dy="1.4"> deg cm</tspan><tspan font-size="2.6" dy="-1.4">2</tspan><tspan dy="1.4"> dmol</tspan><tspan font-size="2.6" dy="-1.4">-1</tspan><tspan dy="1.4">]</tspan></text>
<text x="456.2" y="195.72" font-size="4.8" font-weight="700" fill="#111" stroke="#111" stroke-width="0.08" textLength="39.8" lengthAdjust="spacingAndGlyphs">Temperature (°C)</text>
<text x="447" y="147.95" font-size="4.6" font-weight="700" fill="#111" stroke="#111" stroke-width="0.08" textLength="27.6" lengthAdjust="spacingAndGlyphs">Tm=88.9 °C</text>
<path d="M447.7 174.3L448 174.27L448.42 174.23L448.91 174.18L449.45 174.13L449.99 174.07L450.5 174L450.98 173.91L451.47 173.8L451.96 173.68L452.46 173.58L452.97 173.51L453.5 173.5L454.06 173.56L454.65 173.67L455.25 173.82L455.85 173.99L456.44 174.16L457 174.3L457.52 174.43L458.01 174.55L458.48 174.68L458.96 174.79L459.46 174.9L460 175L460.59 175.1L461.23 175.19L461.89 175.28L462.55 175.35L463.19 175.39L463.8 175.4L464.35 175.36L464.85 175.27L465.34 175.16L465.84 175.03L466.38 174.91L467 174.8L467.71 174.72L468.5 174.66L469.34 174.59L470.19 174.52L471.02 174.43L471.8 174.3L472.53 174.13L473.21 173.93L473.89 173.71L474.56 173.48L475.26 173.24L476 173L476.79 172.75L477.61 172.49L478.45 172.22L479.3 171.96L480.16 171.71L481 171.5L481.84 171.32L482.7 171.16L483.56 171.03L484.41 170.9L485.22 170.8L486 170.7L486.72 170.62L487.38 170.57L488.01 170.52L488.64 170.49L489.3 170.45L490 170.4L490.76 170.34L491.56 170.27L492.39 170.21L493.21 170.14L494.03 170.07L494.8 170L495.55 169.94L496.29 169.87L497.01 169.81L497.71 169.75L498.38 169.68L499 169.6L499.58 169.52L500.13 169.43L500.64 169.34L501.12 169.24L501.57 169.13L502 169L502.39 168.87L502.75 168.75L503.07 168.62L503.39 168.46L503.69 168.26L504 168L504.31 167.69L504.62 167.34L504.93 166.96L505.22 166.52L505.51 166.04L505.8 165.5L506.08 164.89L506.35 164.2L506.61 163.46L506.87 162.69L507.14 161.93L507.4 161.2L507.66 160.48L507.93 159.73L508.19 158.99L508.45 158.28L508.72 157.61L509 157L509.28 156.45L509.57 155.94L509.86 155.48L510.16 155.07L510.47 154.7L510.8 154.4L511.12 154.17L511.44 154.02L511.76 153.92L512.12 153.85L512.52 153.78L513 153.7L513.61 153.6L514.35 153.5L515.14 153.41L515.9 153.32L516.54 153.25L517 153.2" stroke="#ee1c1c" stroke-width="2.4" fill="none" stroke-linecap="round" stroke-linejoin="round"/></g>
<g><defs><filter id="fbl" x="-50%" y="-50%" width="200%" height="200%"><feGaussianBlur stdDeviation="2.2"/></filter><radialGradient id="fv" cx="50%" cy="50%" r="75%"><stop offset="0.55" stop-color="#000" stop-opacity="0"/><stop offset="1" stop-color="#000" stop-opacity="0.35"/></radialGradient></defs>
<text x="0.9" y="227.8" font-size="12.5" font-weight="700">f</text>
<text x="83.5" y="224.42" font-size="6.2" font-weight="700" text-anchor="middle" fill="#111" stroke="#111" stroke-width="0.15">5,000</text>
<text x="140.6" y="224.42" font-size="6.2" font-weight="700" text-anchor="middle" fill="#111" stroke="#111" stroke-width="0.15">1,000</text>
<text x="199.2" y="224.42" font-size="6.2" font-weight="700" text-anchor="middle" fill="#111" stroke="#111" stroke-width="0.15">200</text>
<text x="257.7" y="224.42" font-size="6.2" font-weight="700" text-anchor="middle" fill="#111" stroke="#111" stroke-width="0.15">40</text>
<text x="311.8" y="224.42" font-size="6.2" font-weight="700" text-anchor="middle" fill="#111" stroke="#111" stroke-width="0.15">8</text>
<text x="322.6" y="224.42" font-size="6.2" font-weight="700" fill="#111" stroke="#111" stroke-width="0.15" textLength="9.4" lengthAdjust="spacingAndGlyphs">nM</text>
<text x="25.7" y="247.59" font-size="7.8" font-weight="700" fill="#c8302a" textLength="15.1" lengthAdjust="spacingAndGlyphs">EK1</text>
<text x="20.7" y="289.52" font-size="7.6" font-weight="700" fill="#111" textLength="30.3" lengthAdjust="spacingAndGlyphs">EK1-Scr</text>
<rect x="52.2" y="226" width="295.8" height="78" fill="#86ab78"/>
<rect x="52.2" y="263.7" width="295.8" height="2.1" fill="#f2f6ee"/>
<clipPath id="fc0"><rect x="52.2" y="226" width="58.65" height="37.7"/></clipPath>
<g clip-path="url(#fc0)">
<rect x="52.2" y="226" width="58.65" height="37.7" fill="#247a17"/>
<circle cx="69.8" cy="244.85" r="5" fill="#5fe040" opacity="0.18" filter="url(#fbl)"/>
<path d="M65.3 249.7h.01M86.0 241.0h.01M85.9 245.8h.01M95.0 236.9h.01M90.2 263.4h.01M84.4 259.3h.01M73.2 259.3h.01M73.9 247.4h.01M91.9 228.0h.01M59.4 258.0h.01M71.5 234.4h.01M110.0 258.1h.01M107.2 263.2h.01M98.5 238.5h.01M59.7 231.7h.01M99.5 231.5h.01M107.0 242.4h.01M85.0 261.6h.01M91.5 255.6h.01M60.6 259.3h.01M80.8 263.3h.01M110.0 255.7h.01M77.0 260.4h.01M67.4 231.6h.01M99.2 229.2h.01M72.1 246.9h.01M67.6 262.3h.01M84.3 235.2h.01M89.9 227.7h.01" stroke="#36be20" stroke-width="1.6" stroke-linecap="round" fill="none"/>
<path d="M56.4 246.2h.01M55.6 245.1h.01M77.6 228.6h.01M77.1 257.2h.01M54.9 258.4h.01M60.7 230.4h.01M55.9 228.2h.01M92.1 242.1h.01M86.5 243.1h.01M98.8 252.4h.01M61.1 244.4h.01M53.5 243.4h.01M59.8 235.3h.01M103.3 229.0h.01M102.9 236.5h.01M61.1 232.6h.01M67.6 226.2h.01M75.2 241.0h.01M89.4 228.3h.01M64.4 232.1h.01M55.3 226.0h.01M58.2 239.7h.01M103.5 249.2h.01M67.0 239.1h.01M79.5 244.2h.01M58.2 238.9h.01M100.8 232.1h.01M108.0 245.9h.01M67.5 239.8h.01M100.2 253.9h.01M82.6 239.4h.01M53.8 236.5h.01M92.8 262.1h.01M73.6 234.3h.01M90.5 256.1h.01M96.2 244.0h.01M109.2 240.9h.01M107.7 253.3h.01M109.7 250.8h.01M84.4 230.9h.01M100.7 234.0h.01M67.4 241.8h.01M86.4 260.1h.01M82.9 226.7h.01M84.8 255.6h.01M85.1 235.4h.01M96.8 260.4h.01M103.6 261.5h.01M60.2 230.6h.01M56.5 235.1h.01M65.1 261.9h.01M72.1 233.4h.01M78.0 226.7h.01M88.8 245.3h.01M58.3 236.0h.01M97.9 236.2h.01M85.7 252.4h.01M55.6 251.9h.01M66.2 230.1h.01M55.2 233.6h.01M70.1 254.6h.01M81.5 232.7h.01M53.3 235.4h.01M95.2 246.8h.01M80.0 261.2h.01M92.5 263.0h.01M75.9 239.1h.01M67.2 232.2h.01M68.7 235.1h.01M79.1 231.9h.01M70.4 239.4h.01M64.0 245.0h.01M67.7 229.4h.01M54.6 226.8h.01M103.8 240.7h.01" stroke="#3aec1f" stroke-width="1.7" stroke-linecap="round" fill="none"/>
<path d="M71.2 231.7h.01M100.1 232.8h.01M89.7 240.0h.01M59.1 241.8h.01M91.4 254.8h.01M103.5 237.8h.01M87.1 247.9h.01M101.5 261.6h.01M91.2 228.3h.01M68.9 240.5h.01M59.1 228.2h.01M65.9 244.3h.01M92.7 245.4h.01M97.9 259.0h.01M84.1 227.0h.01M109.6 258.5h.01M97.5 246.1h.01M63.7 233.7h.01M105.0 257.7h.01M90.9 260.3h.01M109.1 250.5h.01M69.4 235.1h.01M105.6 239.3h.01M106.0 244.9h.01M62.9 226.1h.01M62.3 243.9h.01M84.8 238.3h.01M97.5 245.1h.01M88.1 245.1h.01M92.8 243.1h.01M80.2 261.5h.01M61.3 253.0h.01M61.7 242.3h.01M94.6 226.7h.01M56.4 261.4h.01M56.1 258.5h.01M67.9 230.9h.01M100.2 242.3h.01M101.2 240.8h.01M101.0 252.6h.01M59.8 228.7h.01M101.5 258.8h.01M74.6 243.9h.01M65.9 248.1h.01M96.2 250.8h.01M110.0 231.6h.01" stroke="#3cf422" stroke-width="2.3" stroke-linecap="round" fill="none"/>
<path d="M89.2 241.4h.01M88.5 241.0h.01M89.0 242.2h.01M68.7 246.7h.01M70.1 246.0h.01M68.8 246.3h.01M101.7 251.8h.01M102.1 252.4h.01M102.3 252.6h.01M60.0 245.3h.01M58.6 244.6h.01M58.7 244.4h.01M78.6 256.2h.01M78.8 255.6h.01" stroke="#40f626" stroke-width="2.9" stroke-linecap="round" fill="none"/>
<path d="M95.45 258.35H109.45" stroke="#eef2ea" stroke-width="1.15" fill="none"/>
</g>
<clipPath id="fc5"><rect x="52.2" y="265.8" width="58.65" height="38.2"/></clipPath>
<g clip-path="url(#fc5)">
<rect x="52.2" y="265.8" width="58.65" height="38.2" fill="#247917"/>
<circle cx="84.46" cy="284.9" r="10" fill="#5fe040" opacity="0.4" filter="url(#fbl)"/>
<circle cx="69.8" cy="296.36" r="6" fill="#5fe040" opacity="0.3" filter="url(#fbl)"/>
<path d="M64.2 294.1h.01M104.6 273.4h.01M68.0 273.8h.01M100.3 285.2h.01M93.5 274.6h.01M101.4 270.4h.01M74.0 280.8h.01M101.2 276.7h.01M63.3 280.1h.01M69.0 267.7h.01M69.7 294.0h.01M61.7 273.7h.01M81.4 274.2h.01M81.7 289.9h.01M75.6 282.8h.01M54.1 292.9h.01M75.2 301.2h.01M108.4 290.4h.01M81.8 273.6h.01M108.2 270.5h.01M64.4 279.4h.01M80.0 280.0h.01M63.5 279.7h.01M54.0 281.5h.01M106.0 290.0h.01M106.6 272.8h.01M71.3 303.2h.01M100.2 297.9h.01M106.8 280.0h.01" stroke="#36be20" stroke-width="1.6" stroke-linecap="round" fill="none"/>
<path d="M56.1 293.9h.01M89.9 268.8h.01M67.1 294.2h.01M85.5 266.3h.01M79.5 283.6h.01M100.3 302.8h.01M64.6 288.0h.01M82.9 302.2h.01M80.7 266.7h.01M81.0 283.0h.01M60.5 278.9h.01M94.0 300.2h.01M86.8 279.6h.01M68.3 267.6h.01M59.7 283.8h.01M67.5 290.9h.01M84.9 280.9h.01M110.6 283.0h.01M63.5 269.3h.01M57.5 274.9h.01M74.3 278.7h.01M68.5 302.8h.01M64.9 276.2h.01M102.0 299.1h.01M80.0 288.2h.01M102.4 302.9h.01M70.0 270.7h.01M89.5 292.5h.01M80.1 274.8h.01M108.5 292.7h.01M106.5 274.5h.01M70.5 297.1h.01M65.2 294.8h.01M108.0 284.7h.01M107.8 271.4h.01M64.7 303.0h.01M55.2 268.1h.01M110.7 301.4h.01M54.1 291.2h.01M74.1 278.5h.01M52.4 276.5h.01M100.4 282.3h.01M97.2 267.4h.01M55.9 300.9h.01M96.0 300.1h.01M67.6 293.2h.01M108.3 302.2h.01M87.8 278.3h.01M73.4 295.7h.01M63.8 294.6h.01M110.1 275.9h.01M78.4 274.7h.01M101.9 291.2h.01M74.1 294.0h.01M66.7 275.2h.01M104.1 287.9h.01M54.6 277.0h.01M88.6 274.1h.01M60.5 273.6h.01M87.4 290.7h.01M63.1 277.7h.01M98.8 286.7h.01M89.7 269.3h.01M93.0 281.5h.01" stroke="#3aec1f" stroke-width="1.7" stroke-linecap="round" fill="none"/>
<path d="M81.7 286.2h.01M56.6 275.9h.01M81.2 280.4h.01M92.3 295.1h.01M68.0 291.5h.01M91.8 276.9h.01M107.1 266.5h.01M101.5 265.9h.01M66.8 276.0h.01M104.1 296.8h.01M105.8 301.7h.01M94.4 267.7h.01M78.6 294.6h.01M85.6 299.7h.01M76.4 281.6h.01M58.6 271.7h.01M92.2 301.8h.01M90.2 295.0h.01M84.5 267.3h.01M65.8 300.9h.01M56.3 285.8h.01M75.0 274.3h.01M52.8 277.3h.01M53.5 284.8h.01M76.8 275.6h.01M72.0 281.9h.01M63.8 296.2h.01M65.3 281.7h.01M104.9 299.6h.01M63.1 301.6h.01M68.2 302.4h.01M68.4 265.9h.01M53.6 274.7h.01M66.9 282.2h.01M95.5 297.2h.01M56.0 267.1h.01M57.9 284.8h.01M88.6 291.6h.01M101.5 277.0h.01M75.4 303.7h.01M65.8 296.7h.01M110.3 269.7h.01M63.3 303.0h.01M78.5 275.7h.01M107.7 269.8h.01M52.9 278.3h.01M58.1 280.9h.01" stroke="#3cf422" stroke-width="2.3" stroke-linecap="round" fill="none"/>
<path d="M83.7 278.2h.01M83.9 277.5h.01M83.8 277.1h.01M86.0 275.1h.01M84.1 276.8h.01M84.4 276.1h.01M86.6 276.6h.01M82.7 277.2h.01M82.7 277.4h.01M84.1 276.6h.01M85.8 276.6h.01M83.1 275.2h.01M85.7 277.1h.01M87.5 290.3h.01M89.1 290.0h.01M85.9 289.2h.01M89.7 290.2h.01M89.5 287.3h.01M88.7 289.8h.01M91.2 288.7h.01M88.4 289.5h.01M89.6 289.1h.01M90.1 288.7h.01M88.8 289.1h.01M88.7 289.0h.01M86.5 290.6h.01M88.8 289.1h.01M88.8 290.4h.01M87.4 289.4h.01M89.1 289.9h.01M88.1 287.4h.01M90.2 289.8h.01M88.6 289.4h.01M88.7 289.2h.01M71.8 293.9h.01M72.3 294.1h.01M71.7 294.9h.01M71.5 294.9h.01M71.9 294.7h.01M74.0 294.6h.01M72.2 294.5h.01M72.9 293.1h.01M72.4 294.5h.01M72.5 294.5h.01M67.5 300.7h.01M67.6 300.6h.01M66.8 300.2h.01M66.7 300.1h.01M66.7 298.9h.01M66.7 300.2h.01M66.1 300.2h.01M67.1 300.1h.01M68.2 298.9h.01M66.7 298.8h.01M79.2 284.3h.01M76.9 283.1h.01M78.9 282.9h.01M79.0 281.7h.01M79.2 283.2h.01M78.6 282.8h.01M79.0 282.7h.01M78.7 282.8h.01M91.7 295.6h.01M93.4 295.9h.01M92.7 295.6h.01M93.6 295.7h.01M94.1 296.7h.01M92.6 294.5h.01M58.6 270.4h.01M58.6 270.0h.01M57.7 269.3h.01M58.6 269.2h.01" stroke="#40f626" stroke-width="2.9" stroke-linecap="round" fill="none"/>
<path d="M95.45 298.35H109.45" stroke="#eef2ea" stroke-width="1.15" fill="none"/>
</g>
<clipPath id="fc1"><rect x="111.85" y="226" width="58.15" height="37.7"/></clipPath>
<g clip-path="url(#fc1)">
<rect x="111.85" y="226" width="58.15" height="37.7" fill="#237617"/>
<circle cx="158.37" cy="244.85" r="5" fill="#5fe040" opacity="0.15" filter="url(#fbl)"/>
<path d="M158.2 236.0h.01M137.0 245.3h.01M117.4 250.1h.01M129.3 227.8h.01M168.0 234.2h.01M152.1 251.1h.01M148.1 228.9h.01M159.4 256.9h.01M115.7 258.7h.01M118.4 227.3h.01M159.1 249.9h.01M133.3 238.1h.01M143.1 234.2h.01M140.6 239.1h.01M130.8 231.9h.01M119.2 243.4h.01M121.2 255.5h.01M124.9 254.0h.01M142.5 234.3h.01M160.3 239.4h.01" stroke="#36be20" stroke-width="1.6" stroke-linecap="round" fill="none"/>
<path d="M145.6 259.3h.01M169.6 249.7h.01M114.7 256.9h.01M150.4 237.8h.01M113.1 226.1h.01M118.0 239.5h.01M145.8 248.2h.01M148.1 243.9h.01M166.3 235.2h.01M157.3 241.2h.01M132.2 250.3h.01M166.3 253.7h.01M135.5 235.0h.01M166.6 231.4h.01M159.1 232.6h.01M157.4 253.0h.01M155.0 243.1h.01M118.0 234.8h.01M161.0 252.8h.01M112.7 235.8h.01M130.9 259.2h.01M145.0 237.6h.01M120.3 227.0h.01M165.9 239.0h.01M115.7 248.3h.01M166.8 230.0h.01M148.6 236.8h.01M117.5 254.6h.01M130.4 242.0h.01M113.7 241.6h.01M117.1 256.9h.01M140.4 256.0h.01M127.0 261.6h.01M118.2 250.0h.01M148.4 239.4h.01M134.8 259.6h.01M163.5 226.9h.01M133.9 259.3h.01M155.6 250.4h.01M150.4 254.0h.01M125.7 233.2h.01M152.7 257.8h.01M120.9 235.3h.01M142.2 232.1h.01M117.8 262.3h.01M154.5 242.4h.01M148.9 230.0h.01M134.4 227.3h.01M148.6 243.5h.01M155.4 241.9h.01M149.2 243.1h.01M148.4 229.7h.01M135.7 261.7h.01M119.0 263.1h.01M115.1 236.3h.01M112.6 241.8h.01M152.5 239.3h.01M134.6 234.0h.01M139.1 247.2h.01M129.0 246.7h.01M127.4 240.2h.01M136.6 233.0h.01M153.8 236.6h.01M129.4 244.1h.01M148.9 250.9h.01M165.9 258.2h.01" stroke="#3aec1f" stroke-width="1.7" stroke-linecap="round" fill="none"/>
<path d="M145.4 239.6h.01M137.6 232.7h.01M149.0 263.1h.01M113.8 231.6h.01M119.5 234.6h.01M112.5 250.3h.01M164.4 227.7h.01M157.1 226.5h.01M147.2 245.1h.01M161.0 254.1h.01M131.4 254.3h.01M144.1 242.4h.01M142.3 236.0h.01M155.1 261.6h.01M125.8 260.2h.01M139.2 257.7h.01M161.7 242.5h.01M113.5 227.6h.01M148.7 252.3h.01M126.8 236.7h.01M141.1 258.1h.01M156.8 239.1h.01M111.9 233.6h.01M168.7 226.2h.01M124.3 252.4h.01M157.7 252.3h.01M127.2 260.0h.01M138.7 246.0h.01M137.4 255.2h.01M122.9 262.8h.01M134.2 263.1h.01M157.8 252.1h.01M147.0 241.3h.01M164.7 242.2h.01M153.8 259.2h.01M152.6 258.1h.01M157.3 252.9h.01M126.4 242.0h.01M148.0 241.4h.01M165.9 232.9h.01M157.1 240.7h.01M168.5 227.4h.01M142.0 229.8h.01M143.3 253.0h.01M149.0 257.3h.01M151.6 240.8h.01M157.0 256.5h.01M167.9 239.3h.01M159.5 256.8h.01" stroke="#3cf422" stroke-width="2.3" stroke-linecap="round" fill="none"/>
<path d="M161.8 244.0h.01M161.3 244.7h.01M161.7 244.3h.01M126.4 239.2h.01M127.1 239.0h.01M126.4 239.3h.01M146.9 253.3h.01M146.8 252.9h.01M138.5 234.1h.01M138.1 233.4h.01" stroke="#40f626" stroke-width="2.9" stroke-linecap="round" fill="none"/>
<path d="M154.6 258.35H168.6" stroke="#eef2ea" stroke-width="1.15" fill="none"/>
</g>
<clipPath id="fc6"><rect x="111.85" y="265.8" width="58.15" height="38.2"/></clipPath>
<g clip-path="url(#fc6)">
<rect x="111.85" y="265.8" width="58.15" height="38.2" fill="#227417"/>
<circle cx="135.11" cy="284.9" r="10" fill="#5fe040" opacity="0.5" filter="url(#fbl)"/>
<circle cx="152.56" cy="292.54" r="7" fill="#5fe040" opacity="0.35" filter="url(#fbl)"/>
<path d="M162.0 266.1h.01M148.2 278.7h.01M136.4 287.0h.01M114.2 293.4h.01M112.2 273.1h.01M114.1 270.3h.01M168.0 269.2h.01M166.1 275.5h.01M128.9 268.1h.01M147.1 303.1h.01M146.8 300.0h.01M136.4 288.2h.01M163.5 267.4h.01M127.8 298.3h.01M123.5 294.5h.01M125.4 287.9h.01M120.5 267.5h.01M113.8 303.6h.01M157.2 282.1h.01M156.5 297.1h.01M164.3 300.4h.01M120.3 294.6h.01M123.2 267.2h.01M124.7 301.5h.01M117.5 301.3h.01" stroke="#36be20" stroke-width="1.6" stroke-linecap="round" fill="none"/>
<path d="M142.7 294.1h.01M163.2 287.0h.01M115.2 283.6h.01M160.7 280.1h.01M151.5 301.4h.01M156.7 273.8h.01M128.9 297.4h.01M131.1 277.9h.01M143.6 267.7h.01M138.5 294.9h.01M165.0 290.8h.01M126.9 277.3h.01M145.3 300.9h.01M124.2 271.6h.01M112.1 291.9h.01M125.9 293.8h.01M161.6 293.7h.01M153.6 266.2h.01M149.7 297.0h.01M129.9 293.7h.01M161.9 284.4h.01M133.2 287.8h.01M152.7 297.4h.01M146.8 277.6h.01M128.3 265.9h.01M151.7 300.7h.01M138.9 273.7h.01M146.1 273.0h.01M122.4 292.6h.01M131.9 285.6h.01M140.1 287.5h.01M126.6 267.2h.01M122.4 269.0h.01M166.9 300.6h.01M146.6 281.0h.01M134.7 282.9h.01M168.0 303.7h.01M114.1 275.6h.01M149.5 303.4h.01M155.9 269.8h.01M121.7 274.9h.01M163.5 271.1h.01M148.4 283.1h.01M120.2 274.3h.01M153.4 286.9h.01" stroke="#3aec1f" stroke-width="1.7" stroke-linecap="round" fill="none"/>
<path d="M163.7 289.0h.01M150.7 299.9h.01M160.6 273.3h.01M125.5 271.1h.01M140.4 284.8h.01M139.1 287.3h.01M167.7 268.7h.01M148.8 266.9h.01M168.9 285.3h.01M164.0 267.1h.01M133.1 283.9h.01M141.1 276.2h.01M168.5 290.8h.01M146.0 290.1h.01M147.2 290.9h.01M164.8 289.2h.01M148.3 292.4h.01M151.4 273.9h.01M122.4 267.2h.01M159.7 295.8h.01M130.4 282.3h.01M166.2 267.9h.01M112.7 280.6h.01M166.4 303.3h.01M135.8 269.7h.01M119.3 266.5h.01M114.8 295.4h.01M148.4 292.9h.01M151.2 271.3h.01M133.0 290.4h.01M136.2 280.5h.01M166.8 295.8h.01M163.5 280.2h.01M159.1 298.9h.01M116.8 287.0h.01M125.5 289.0h.01M155.5 296.0h.01M116.9 296.6h.01M163.3 285.7h.01M144.7 281.2h.01M133.6 269.9h.01M157.6 271.8h.01M144.3 299.1h.01M167.6 275.6h.01M149.1 302.3h.01M114.6 295.8h.01M151.2 277.2h.01M126.8 270.5h.01M151.3 266.3h.01M159.7 284.0h.01" stroke="#3cf422" stroke-width="2.3" stroke-linecap="round" fill="none"/>
<path d="M130.9 280.7h.01M130.1 281.2h.01M130.2 282.8h.01M130.2 281.4h.01M129.7 281.1h.01M130.7 280.9h.01M130.6 281.1h.01M131.8 280.3h.01M130.7 282.0h.01M130.3 281.6h.01M130.7 281.8h.01M133.0 281.0h.01M130.7 281.0h.01M129.9 282.8h.01M132.2 281.6h.01M154.8 293.6h.01M157.4 291.9h.01M155.3 292.0h.01M157.4 291.8h.01M155.0 291.7h.01M153.5 292.5h.01M155.7 292.8h.01M155.7 292.0h.01M155.7 290.4h.01M155.5 291.9h.01M156.7 292.4h.01M154.8 291.8h.01M155.9 292.9h.01M140.5 285.6h.01M140.6 286.7h.01M142.2 287.3h.01M139.7 287.4h.01M142.4 287.2h.01M140.1 287.9h.01M141.6 286.2h.01M142.7 286.9h.01M139.2 287.0h.01M164.2 275.6h.01M164.5 275.0h.01M164.5 275.7h.01M164.2 275.3h.01M163.5 275.3h.01M137.8 277.2h.01M137.7 276.2h.01M138.4 276.9h.01M137.9 276.8h.01M138.0 277.2h.01M139.1 276.3h.01" stroke="#40f626" stroke-width="2.9" stroke-linecap="round" fill="none"/>
<path d="M154.6 298.35H168.6" stroke="#eef2ea" stroke-width="1.15" fill="none"/>
</g>
<clipPath id="fc2"><rect x="171" y="226" width="58.15" height="37.7"/></clipPath>
<g clip-path="url(#fc2)">
<rect x="171" y="226" width="58.15" height="37.7" fill="#227817"/>
<circle cx="179.72" cy="241.08" r="5" fill="#5fe040" opacity="0.35" filter="url(#fbl)"/>
<circle cx="217.52" cy="237.31" r="5" fill="#5fe040" opacity="0.3" filter="url(#fbl)"/>
<path d="M202.2 226.8h.01M179.0 248.3h.01M180.6 257.1h.01M193.6 241.9h.01M201.6 240.9h.01M190.5 242.4h.01M217.8 260.4h.01M227.4 255.3h.01M207.8 256.5h.01M176.1 246.6h.01M171.7 239.3h.01M177.4 234.5h.01M224.2 230.8h.01M195.3 255.5h.01M189.7 255.7h.01M204.8 229.3h.01M189.8 257.8h.01M203.9 244.7h.01M216.0 246.3h.01M196.6 249.5h.01M191.0 246.0h.01M180.9 238.0h.01M223.0 252.0h.01M185.5 227.7h.01M220.7 237.9h.01M226.8 244.7h.01M183.9 237.7h.01" stroke="#36be20" stroke-width="1.6" stroke-linecap="round" fill="none"/>
<path d="M184.0 232.9h.01M185.6 256.8h.01M176.6 252.4h.01M201.4 252.5h.01M221.6 253.0h.01M187.3 230.6h.01M216.2 238.8h.01M226.7 261.2h.01M195.5 249.9h.01M201.9 228.6h.01M200.4 226.8h.01M186.5 251.6h.01M185.6 245.6h.01M226.3 236.8h.01M226.6 245.4h.01M198.1 246.1h.01M178.2 231.0h.01M194.6 236.9h.01M189.1 235.1h.01M187.6 263.2h.01M215.9 232.0h.01M221.7 242.6h.01M214.0 231.8h.01M197.6 253.3h.01M193.7 246.9h.01M200.0 242.7h.01M226.8 233.7h.01M223.9 226.4h.01M201.5 229.7h.01M219.0 245.3h.01M228.6 259.5h.01M200.4 233.1h.01M207.6 248.7h.01M228.8 250.0h.01M194.9 255.7h.01M211.2 226.1h.01M229.0 247.7h.01M177.2 229.8h.01M217.9 228.3h.01M191.6 232.4h.01M191.3 243.0h.01M199.2 255.9h.01M181.1 239.5h.01M177.7 246.1h.01M194.4 228.5h.01M219.0 239.2h.01M182.1 236.7h.01M173.0 251.0h.01" stroke="#3aec1f" stroke-width="1.7" stroke-linecap="round" fill="none"/>
<path d="M199.8 245.4h.01M172.0 248.6h.01M178.2 244.6h.01M179.6 247.6h.01M220.3 228.0h.01M222.4 227.3h.01M202.5 260.8h.01M208.7 230.5h.01M206.5 247.5h.01M182.7 252.8h.01M202.9 249.1h.01M200.8 240.4h.01M184.9 247.0h.01M193.6 242.6h.01M191.5 251.5h.01M220.4 257.0h.01M214.0 254.0h.01M198.6 255.6h.01M171.3 254.9h.01M200.0 262.3h.01M206.3 240.3h.01M188.7 231.5h.01M201.1 245.5h.01M193.7 239.5h.01M191.4 261.7h.01M194.3 247.2h.01M222.2 262.4h.01M180.1 236.9h.01M220.0 248.1h.01M182.4 244.8h.01M186.5 250.4h.01M178.1 231.9h.01M201.4 257.0h.01M215.8 238.2h.01M176.8 260.1h.01M174.2 259.6h.01M226.8 242.6h.01M218.4 237.4h.01M185.1 240.7h.01M227.5 237.0h.01" stroke="#3cf422" stroke-width="2.3" stroke-linecap="round" fill="none"/>
<path d="M179.3 241.2h.01M179.0 240.5h.01M178.7 240.2h.01M177.1 240.8h.01M178.7 240.1h.01M177.8 241.2h.01M177.3 241.3h.01M179.0 241.7h.01M218.3 237.3h.01M218.5 237.4h.01M218.6 237.0h.01M219.5 236.8h.01M218.4 237.6h.01M218.4 237.1h.01M203.1 253.0h.01M202.2 253.1h.01M202.8 254.0h.01M202.3 253.6h.01M179.3 259.8h.01M179.6 260.0h.01M180.3 260.9h.01M179.3 260.7h.01M180.4 260.4h.01M193.9 232.0h.01M194.2 231.7h.01M194.2 231.9h.01" stroke="#40f626" stroke-width="2.9" stroke-linecap="round" fill="none"/>
<path d="M213.75 258.35H227.75" stroke="#eef2ea" stroke-width="1.15" fill="none"/>
</g>
<clipPath id="fc7"><rect x="171" y="265.8" width="58.15" height="38.2"/></clipPath>
<g clip-path="url(#fc7)">
<rect x="171" y="265.8" width="58.15" height="38.2" fill="#207115"/>
<circle cx="185.54" cy="282.99" r="10" fill="#5fe040" opacity="0.45" filter="url(#fbl)"/>
<circle cx="220.43" cy="288.72" r="7" fill="#5fe040" opacity="0.35" filter="url(#fbl)"/>
<circle cx="205.89" cy="271.53" r="6" fill="#5fe040" opacity="0.3" filter="url(#fbl)"/>
<path d="M181.6 270.2h.01M191.3 265.8h.01M203.8 278.5h.01M181.8 290.2h.01M204.0 289.8h.01M212.0 300.4h.01M171.2 297.9h.01M189.8 283.4h.01M223.8 298.9h.01M226.9 289.5h.01M188.3 287.6h.01M175.3 282.6h.01M222.7 289.5h.01M203.7 300.8h.01" stroke="#36be20" stroke-width="1.6" stroke-linecap="round" fill="none"/>
<path d="M178.3 293.2h.01M222.3 298.7h.01M209.6 279.2h.01M209.3 292.5h.01M213.7 293.0h.01M173.3 272.0h.01M188.6 280.3h.01M189.1 290.2h.01M216.2 276.7h.01M220.7 289.0h.01M176.0 292.3h.01M214.5 297.5h.01M176.2 302.0h.01M174.2 292.5h.01M200.8 301.3h.01M185.5 268.1h.01M194.9 273.5h.01M196.9 301.5h.01M188.4 299.6h.01M202.9 294.9h.01M215.6 297.6h.01M187.8 279.6h.01M174.5 276.5h.01M211.8 282.9h.01M189.9 283.7h.01M180.8 268.5h.01M228.7 294.5h.01M177.3 284.5h.01M182.0 286.5h.01M225.4 290.7h.01M185.3 271.1h.01M216.0 297.9h.01M219.3 294.2h.01M181.7 297.3h.01M192.4 286.9h.01M219.3 274.9h.01M199.7 284.9h.01M188.4 288.0h.01M211.0 272.1h.01M227.4 269.2h.01M216.8 282.1h.01M209.5 285.5h.01M219.0 300.3h.01M191.2 273.3h.01M199.0 290.5h.01M191.0 299.6h.01M182.0 291.7h.01M176.0 291.0h.01M203.8 280.9h.01M177.5 298.7h.01M176.5 286.1h.01M199.5 287.0h.01M205.2 268.9h.01M176.9 297.5h.01M174.3 274.8h.01M171.9 288.5h.01M188.4 292.8h.01" stroke="#3aec1f" stroke-width="1.7" stroke-linecap="round" fill="none"/>
<path d="M194.5 300.5h.01M187.1 266.9h.01M220.2 279.3h.01M219.8 287.6h.01M185.8 282.4h.01M185.2 270.0h.01M183.2 300.7h.01M225.1 292.2h.01M219.3 289.8h.01M215.3 267.5h.01M217.9 275.8h.01M227.4 290.2h.01M178.9 292.8h.01M184.8 275.0h.01M209.8 288.7h.01M212.7 303.2h.01M224.5 290.4h.01M224.9 272.2h.01M196.6 273.1h.01M190.7 282.6h.01M188.2 282.7h.01M174.5 291.6h.01M204.8 281.7h.01M181.5 299.8h.01M204.3 270.1h.01M203.0 293.1h.01M177.7 303.6h.01M181.0 302.5h.01M216.1 271.0h.01" stroke="#3cf422" stroke-width="2.3" stroke-linecap="round" fill="none"/>
<path d="M184.7 280.5h.01M182.7 280.5h.01M182.9 277.7h.01M184.5 279.7h.01M183.6 277.3h.01M183.8 279.1h.01M183.6 279.0h.01M181.9 278.7h.01M185.6 280.4h.01M183.5 278.7h.01M184.2 280.0h.01M184.6 278.2h.01M183.8 279.2h.01M185.3 280.2h.01M184.3 280.2h.01M205.5 271.7h.01M205.6 270.6h.01M206.8 269.7h.01M205.2 269.0h.01M205.9 270.4h.01M205.7 270.6h.01M203.8 270.4h.01M205.9 270.3h.01M206.7 271.8h.01M205.5 269.7h.01M205.5 270.4h.01M206.4 269.8h.01M206.9 269.6h.01M180.4 298.5h.01M180.1 299.8h.01M179.6 298.2h.01M180.1 298.8h.01M178.5 298.5h.01M179.1 298.7h.01M181.0 298.3h.01M179.7 298.3h.01M177.6 298.7h.01M180.0 298.3h.01M179.4 297.8h.01M179.6 299.2h.01M222.1 289.6h.01M220.3 288.5h.01M222.2 288.7h.01M220.8 288.3h.01M223.2 287.8h.01M221.3 288.0h.01M221.8 289.1h.01M222.7 287.4h.01M223.4 288.3h.01M193.8 289.7h.01M194.2 288.0h.01M193.9 288.4h.01M193.6 288.5h.01M194.8 288.9h.01M193.5 289.9h.01M176.2 271.6h.01M176.8 271.8h.01M176.7 271.7h.01M178.3 271.6h.01M176.1 271.7h.01M176.4 271.4h.01" stroke="#40f626" stroke-width="2.9" stroke-linecap="round" fill="none"/>
<path d="M213.75 298.35H227.75" stroke="#eef2ea" stroke-width="1.15" fill="none"/>
</g>
<clipPath id="fc3"><rect x="230.15" y="226" width="58.15" height="37.7"/></clipPath>
<g clip-path="url(#fc3)">
<rect x="230.15" y="226" width="58.15" height="37.7" fill="#1d6c12"/>
<circle cx="253.41" cy="244.85" r="6" fill="#5fe040" opacity="0.3" filter="url(#fbl)"/>
<circle cx="270.85" cy="254.28" r="6" fill="#5fe040" opacity="0.35" filter="url(#fbl)"/>
<circle cx="238.87" cy="258.05" r="5" fill="#5fe040" opacity="0.3" filter="url(#fbl)"/>
<path d="M284.7 238.8h.01M275.2 242.1h.01M234.1 244.3h.01M241.6 253.7h.01M265.1 229.0h.01M241.1 246.2h.01M246.3 245.7h.01M275.4 235.1h.01M254.0 260.7h.01M263.3 231.9h.01M280.4 232.9h.01M235.4 238.8h.01M271.8 259.2h.01M242.7 262.5h.01M270.3 263.0h.01M265.8 236.0h.01" stroke="#36be20" stroke-width="1.6" stroke-linecap="round" fill="none"/>
<path d="M240.0 228.5h.01M264.1 229.0h.01M263.9 263.2h.01M246.2 235.7h.01M242.8 241.1h.01M281.1 238.9h.01M267.4 260.8h.01M253.7 251.6h.01M233.5 241.6h.01M272.3 238.4h.01M235.4 256.7h.01M268.4 248.7h.01M274.5 255.3h.01M268.3 255.2h.01M235.4 227.1h.01M240.7 261.4h.01M283.7 232.1h.01M259.2 250.0h.01M276.7 243.3h.01M234.0 250.3h.01M266.6 234.4h.01M245.4 242.4h.01M247.5 263.5h.01M278.0 236.7h.01M258.4 259.6h.01M263.8 259.3h.01M288.0 237.2h.01M236.6 262.7h.01M243.6 242.2h.01M231.3 263.4h.01M238.0 242.2h.01M259.3 230.2h.01M259.0 260.6h.01M272.7 236.3h.01M245.5 228.6h.01M271.9 241.1h.01M254.5 262.7h.01M252.6 241.5h.01M252.1 235.1h.01M248.5 262.6h.01M264.6 263.5h.01M266.8 254.0h.01M265.8 251.5h.01M266.7 246.5h.01M257.9 234.3h.01" stroke="#3aec1f" stroke-width="1.7" stroke-linecap="round" fill="none"/>
<path d="M248.1 253.4h.01M239.7 236.1h.01M265.2 258.6h.01M249.2 254.2h.01M266.6 238.6h.01M264.9 235.7h.01M230.9 260.9h.01M287.6 228.1h.01M239.2 231.4h.01M261.5 248.2h.01M273.2 235.7h.01M275.1 262.8h.01M237.8 226.3h.01M287.7 234.6h.01M233.6 244.9h.01M238.8 232.7h.01M282.7 230.1h.01M280.4 228.3h.01M242.0 254.6h.01M280.7 236.1h.01M269.9 248.5h.01M281.5 239.6h.01M283.2 231.7h.01M235.8 232.4h.01M232.1 234.8h.01M270.2 227.4h.01M281.2 230.5h.01M270.0 231.6h.01M259.7 241.4h.01M251.2 226.4h.01M268.1 246.5h.01M288.2 226.2h.01M284.0 235.6h.01M236.9 257.8h.01M283.0 227.9h.01M249.0 250.4h.01M273.5 258.2h.01M271.6 240.8h.01M257.7 253.2h.01" stroke="#3cf422" stroke-width="2.3" stroke-linecap="round" fill="none"/>
<path d="M253.3 245.2h.01M251.1 245.5h.01M252.5 245.2h.01M253.1 246.9h.01M250.9 245.9h.01M253.2 244.2h.01M252.3 245.5h.01M250.9 246.6h.01M252.4 245.4h.01M252.6 246.0h.01M252.9 246.0h.01M252.6 244.7h.01M270.7 253.9h.01M269.0 255.1h.01M270.5 253.1h.01M269.0 254.1h.01M270.9 253.6h.01M270.5 253.3h.01M270.3 253.8h.01M270.3 254.4h.01M270.8 253.9h.01M271.3 254.9h.01M271.3 254.0h.01M270.7 253.4h.01M270.6 254.3h.01M259.3 233.5h.01M258.4 232.8h.01M259.4 234.0h.01M259.5 232.9h.01M238.8 260.0h.01M238.3 260.1h.01M238.8 259.5h.01M238.0 260.4h.01M239.1 259.5h.01M238.1 260.4h.01M279.8 237.2h.01M280.5 237.2h.01M279.0 237.8h.01" stroke="#40f626" stroke-width="2.9" stroke-linecap="round" fill="none"/>
<path d="M272.9 258.35H286.9" stroke="#eef2ea" stroke-width="1.15" fill="none"/>
</g>
<clipPath id="fc8"><rect x="230.15" y="265.8" width="58.15" height="38.2"/></clipPath>
<g clip-path="url(#fc8)">
<rect x="230.15" y="265.8" width="58.15" height="38.2" fill="#1c6911"/>
<circle cx="259.22" cy="282.99" r="10" fill="#5fe040" opacity="0.35" filter="url(#fbl)"/>
<circle cx="276.67" cy="282.99" r="7" fill="#5fe040" opacity="0.45" filter="url(#fbl)"/>
<circle cx="247.59" cy="293.3" r="6" fill="#5fe040" opacity="0.35" filter="url(#fbl)"/>
<path d="M254.5 288.1h.01M248.4 275.5h.01M233.1 277.4h.01M264.1 279.8h.01M267.3 267.7h.01M283.8 287.2h.01M247.3 273.9h.01M262.7 271.7h.01M269.6 270.2h.01M237.3 301.1h.01M286.4 279.0h.01M284.9 278.5h.01M281.9 266.4h.01M266.1 292.2h.01M283.7 266.2h.01" stroke="#36be20" stroke-width="1.6" stroke-linecap="round" fill="none"/>
<path d="M282.6 294.7h.01M273.2 281.1h.01M274.9 270.3h.01M234.6 297.0h.01M277.6 299.1h.01M249.6 285.6h.01M287.6 276.3h.01M262.5 285.3h.01M276.8 298.5h.01M253.9 287.4h.01M246.1 296.2h.01M256.6 301.5h.01M281.2 268.0h.01M234.3 288.6h.01M238.6 300.9h.01M232.6 297.7h.01M243.7 288.0h.01M249.0 297.9h.01M276.6 303.2h.01M243.1 286.6h.01M257.2 293.6h.01M284.8 285.9h.01M235.3 271.1h.01M282.1 298.1h.01M268.3 267.7h.01M240.6 295.9h.01M234.2 287.2h.01M235.8 290.5h.01M263.8 279.3h.01M268.7 272.1h.01M280.9 284.1h.01M235.6 299.4h.01M259.0 286.3h.01M259.6 279.8h.01M253.6 273.6h.01M239.1 275.9h.01M253.0 285.6h.01M271.5 268.2h.01M265.0 303.3h.01M254.1 281.4h.01" stroke="#3aec1f" stroke-width="1.7" stroke-linecap="round" fill="none"/>
<path d="M249.3 268.5h.01M252.2 285.9h.01M264.6 283.5h.01M279.0 281.6h.01M281.9 282.6h.01M259.9 297.3h.01M269.7 287.0h.01M235.3 294.6h.01M233.3 291.8h.01M258.2 267.9h.01M241.9 267.8h.01M251.9 283.5h.01M241.8 300.9h.01M233.1 277.8h.01M271.5 296.5h.01M259.1 291.5h.01M236.0 269.4h.01M285.4 281.6h.01M245.1 300.4h.01M239.2 268.0h.01M232.1 280.3h.01M250.4 294.5h.01M284.2 269.4h.01M280.4 288.6h.01M283.9 267.0h.01M256.3 275.3h.01M262.2 295.9h.01M257.0 267.1h.01M257.4 272.1h.01M244.1 299.1h.01M258.6 296.0h.01M270.2 274.6h.01M281.9 269.0h.01M243.8 288.5h.01M250.0 296.8h.01" stroke="#3cf422" stroke-width="2.3" stroke-linecap="round" fill="none"/>
<path d="M276.8 285.2h.01M276.4 282.6h.01M276.4 283.3h.01M276.9 283.6h.01M274.9 285.6h.01M279.7 282.9h.01M274.8 283.2h.01M277.3 280.3h.01M276.7 281.1h.01M277.4 284.8h.01M278.4 281.0h.01M278.9 284.2h.01M276.3 283.4h.01M279.2 282.6h.01M276.7 282.6h.01M278.3 280.5h.01M279.0 281.7h.01M278.2 280.9h.01M275.3 282.3h.01M278.0 280.9h.01M277.4 282.3h.01M278.6 282.6h.01M277.1 282.9h.01M279.6 282.5h.01M276.6 285.5h.01M276.8 283.6h.01M275.8 283.2h.01M273.2 283.1h.01M275.6 281.0h.01M274.4 284.5h.01M277.4 281.0h.01M279.6 282.1h.01M276.4 283.1h.01M274.9 280.9h.01M246.8 294.3h.01M248.6 291.9h.01M248.8 293.3h.01M247.9 293.3h.01M248.0 292.5h.01M246.7 292.7h.01M247.3 293.7h.01M246.3 294.7h.01M247.1 292.9h.01M248.2 293.6h.01M247.3 292.5h.01M246.5 291.9h.01M248.8 294.3h.01M249.6 293.7h.01M247.9 293.8h.01M237.9 277.1h.01M237.4 278.7h.01M235.7 276.3h.01M236.3 277.8h.01M238.2 277.0h.01M237.5 277.2h.01M237.3 277.0h.01M237.1 277.3h.01M238.0 278.7h.01M235.5 277.6h.01M259.2 290.0h.01M260.0 290.0h.01M259.8 288.9h.01M258.0 290.4h.01M260.2 288.9h.01M260.2 289.9h.01M257.6 290.0h.01M258.4 290.2h.01M264.6 297.9h.01M263.9 298.1h.01M265.7 297.9h.01M264.0 299.3h.01M266.4 298.7h.01M264.7 297.6h.01M255.3 273.7h.01M257.1 272.9h.01M256.3 273.4h.01M256.2 273.6h.01" stroke="#40f626" stroke-width="2.9" stroke-linecap="round" fill="none"/>
<path d="M272.9 298.35H286.9" stroke="#eef2ea" stroke-width="1.15" fill="none"/>
</g>
<clipPath id="fc4"><rect x="289.3" y="226" width="58.15" height="37.7"/></clipPath>
<g clip-path="url(#fc4)">
<rect x="289.3" y="226" width="58.15" height="37.7" fill="#19600f"/>
<circle cx="312.56" cy="239.19" r="8" fill="#5fe040" opacity="0.45" filter="url(#fbl)"/>
<circle cx="295.12" cy="258.05" r="6" fill="#5fe040" opacity="0.35" filter="url(#fbl)"/>
<circle cx="330" cy="241.08" r="6" fill="#5fe040" opacity="0.35" filter="url(#fbl)"/>
<path d="M321.0 241.9h.01M306.6 240.4h.01M312.2 240.5h.01M304.8 233.7h.01M334.2 227.6h.01M322.2 239.3h.01M307.1 250.3h.01M309.2 240.8h.01M309.6 233.0h.01M338.4 255.7h.01M318.4 259.9h.01M293.2 248.7h.01M294.8 251.5h.01M301.5 257.6h.01M323.5 234.5h.01M347.2 256.3h.01M321.9 252.4h.01M332.8 261.8h.01M301.3 226.5h.01M299.5 239.4h.01M316.7 263.3h.01M335.5 244.0h.01" stroke="#36be20" stroke-width="1.6" stroke-linecap="round" fill="none"/>
<path d="M344.7 259.6h.01M323.5 247.7h.01M305.6 254.7h.01M329.5 236.5h.01M299.2 237.8h.01M345.2 233.1h.01M344.2 233.4h.01M314.8 230.1h.01M334.6 237.9h.01M328.3 254.4h.01M306.1 249.8h.01M304.7 235.2h.01M313.3 256.5h.01M341.7 231.0h.01M312.8 247.6h.01M330.2 249.1h.01M305.2 234.0h.01M293.5 257.6h.01M289.5 249.7h.01M305.3 228.2h.01M321.6 256.4h.01M337.4 230.2h.01M325.9 238.8h.01M290.9 245.0h.01M308.5 263.2h.01M309.2 233.2h.01M319.3 242.5h.01M330.2 233.4h.01M331.3 253.1h.01M331.3 249.8h.01M347.0 237.5h.01M336.1 243.2h.01M318.8 233.9h.01" stroke="#3aec1f" stroke-width="1.7" stroke-linecap="round" fill="none"/>
<path d="M312.1 254.2h.01M327.0 256.3h.01M311.4 262.3h.01M322.7 257.1h.01M309.5 231.3h.01M340.3 232.1h.01M315.5 257.6h.01M333.3 243.7h.01M310.4 260.6h.01M321.2 254.4h.01M326.2 252.1h.01M312.2 261.5h.01M320.2 245.6h.01M293.1 241.6h.01M338.8 251.2h.01M298.1 251.3h.01M332.5 257.0h.01M340.4 230.9h.01M335.9 239.6h.01M322.4 234.2h.01M320.5 227.1h.01M293.0 249.8h.01M323.3 241.1h.01M317.1 231.0h.01M329.0 252.7h.01M305.7 233.3h.01M310.0 232.2h.01M295.5 231.8h.01M296.8 230.1h.01M290.5 260.3h.01" stroke="#3cf422" stroke-width="2.3" stroke-linecap="round" fill="none"/>
<path d="M316.8 240.2h.01M311.5 241.8h.01M311.7 242.5h.01M314.0 240.8h.01M314.4 241.1h.01M312.6 240.6h.01M316.5 241.2h.01M314.1 239.9h.01M316.6 241.7h.01M313.5 241.0h.01M312.8 242.6h.01M314.9 240.2h.01M313.3 240.7h.01M313.8 243.5h.01M313.5 241.3h.01M313.4 240.9h.01M314.2 242.2h.01M311.9 240.2h.01M313.3 239.9h.01M315.9 241.9h.01M315.2 241.5h.01M311.9 242.1h.01M313.5 240.5h.01M312.4 239.6h.01M313.3 241.1h.01M315.4 240.2h.01M314.5 241.3h.01M300.3 230.5h.01M298.3 231.5h.01M300.4 229.4h.01M299.8 230.5h.01M301.7 231.6h.01M299.8 230.5h.01M300.3 230.7h.01M300.2 230.3h.01M298.7 229.0h.01M298.4 229.2h.01M299.7 230.8h.01M301.6 230.7h.01M301.6 231.6h.01M325.2 244.5h.01M325.5 244.6h.01M325.1 244.8h.01M325.8 243.3h.01M325.4 244.8h.01M326.1 244.0h.01M325.8 244.0h.01M324.4 244.1h.01M325.4 244.7h.01M326.5 245.2h.01M325.1 245.5h.01M327.0 244.9h.01M298.0 258.3h.01M296.6 257.3h.01M297.3 258.8h.01M296.5 258.7h.01M297.9 259.1h.01M295.6 257.9h.01M297.6 258.7h.01M297.3 256.9h.01M296.9 258.4h.01M295.8 259.3h.01M307.4 251.2h.01M308.0 250.4h.01M306.9 250.5h.01M307.6 251.1h.01M306.0 250.1h.01M306.1 250.7h.01M330.3 236.7h.01M332.3 236.8h.01M331.6 236.0h.01M331.8 236.4h.01M332.4 237.5h.01M331.6 236.8h.01M331.4 237.1h.01M331.9 237.1h.01M341.5 230.3h.01M341.5 230.9h.01M341.6 230.6h.01M340.3 230.9h.01" stroke="#40f626" stroke-width="2.9" stroke-linecap="round" fill="none"/>
<path d="M332.05 258.35H346.05" stroke="#eef2ea" stroke-width="1.15" fill="none"/>
</g>
<clipPath id="fc9"><rect x="289.3" y="265.8" width="58.15" height="38.2"/></clipPath>
<g clip-path="url(#fc9)">
<rect x="289.3" y="265.8" width="58.15" height="38.2" fill="#185d0f"/>
<circle cx="318.38" cy="284.9" r="10" fill="#5fe040" opacity="0.4" filter="url(#fbl)"/>
<circle cx="338.73" cy="292.54" r="7" fill="#5fe040" opacity="0.3" filter="url(#fbl)"/>
<circle cx="300.93" cy="277.26" r="6" fill="#5fe040" opacity="0.3" filter="url(#fbl)"/>
<path d="M290.5 274.6h.01M320.2 269.8h.01M343.8 281.4h.01M301.6 276.8h.01M343.5 278.9h.01M297.7 269.5h.01M338.9 270.8h.01M326.6 283.8h.01M292.2 291.2h.01M322.0 299.0h.01M339.2 270.0h.01M310.3 270.4h.01M327.2 271.3h.01M344.3 294.1h.01M302.5 288.6h.01M332.9 288.1h.01M337.8 273.5h.01M315.9 274.4h.01M303.3 270.4h.01" stroke="#36be20" stroke-width="1.6" stroke-linecap="round" fill="none"/>
<path d="M305.2 275.3h.01M307.5 289.8h.01M320.5 302.7h.01M329.4 302.8h.01M346.9 272.5h.01M333.1 275.3h.01M290.9 292.2h.01M329.7 277.4h.01M293.2 266.4h.01M345.7 292.1h.01M334.0 272.6h.01M315.2 293.6h.01M291.1 297.5h.01M305.4 266.2h.01M323.4 291.1h.01M302.3 268.3h.01M310.4 293.4h.01M335.1 275.4h.01M319.7 270.1h.01M335.6 276.7h.01M333.8 274.4h.01M302.0 280.5h.01M303.0 266.9h.01M299.4 274.6h.01M296.2 268.4h.01M319.8 275.0h.01M339.6 273.9h.01M317.3 272.7h.01M327.3 285.5h.01M310.7 300.3h.01M294.1 274.1h.01M314.8 271.2h.01M312.7 291.7h.01M347.0 289.5h.01M308.0 281.3h.01M328.2 266.7h.01M298.7 297.4h.01M322.0 293.0h.01M323.1 299.7h.01" stroke="#3aec1f" stroke-width="1.7" stroke-linecap="round" fill="none"/>
<path d="M327.3 301.4h.01M338.0 303.8h.01M342.9 278.4h.01M334.4 299.8h.01M320.2 290.6h.01M290.1 275.7h.01M329.2 292.2h.01M304.4 302.6h.01M323.7 290.9h.01M297.6 270.1h.01M306.9 281.4h.01M339.0 296.5h.01M341.9 271.8h.01M311.6 290.7h.01M296.0 283.4h.01M294.8 270.3h.01M316.6 301.6h.01M293.5 274.3h.01M304.7 301.1h.01M331.8 268.6h.01M307.8 273.6h.01M316.6 294.1h.01M302.9 284.9h.01M344.4 274.7h.01M319.1 302.0h.01M324.6 275.6h.01M298.0 271.0h.01" stroke="#3cf422" stroke-width="2.3" stroke-linecap="round" fill="none"/>
<path d="M328.9 277.6h.01M327.9 276.8h.01M327.1 278.2h.01M327.8 275.9h.01M329.5 277.1h.01M329.7 277.0h.01M330.9 277.8h.01M328.9 277.3h.01M328.7 277.8h.01M330.9 276.9h.01M327.7 277.7h.01M330.0 276.0h.01M328.1 276.5h.01M315.9 289.8h.01M314.7 288.5h.01M316.1 287.9h.01M315.9 289.4h.01M317.4 290.3h.01M315.1 289.3h.01M315.3 289.0h.01M315.5 290.2h.01M313.9 289.3h.01M317.0 290.1h.01M314.7 288.9h.01M314.6 288.1h.01M316.6 289.5h.01M336.3 294.5h.01M336.8 295.4h.01M338.6 295.3h.01M337.1 296.3h.01M337.4 295.5h.01M335.3 296.5h.01M337.4 295.4h.01M336.9 295.0h.01M336.1 294.5h.01M337.3 295.9h.01M301.0 277.6h.01M301.2 277.3h.01M300.3 277.6h.01M301.9 277.7h.01M301.9 277.0h.01M300.1 278.1h.01M300.6 277.4h.01M300.9 277.3h.01M321.2 269.4h.01M320.3 270.5h.01M321.4 268.6h.01M320.7 269.0h.01M320.9 268.5h.01M307.2 299.2h.01M306.6 298.6h.01M307.2 297.5h.01M307.6 297.3h.01M306.5 298.1h.01M307.6 298.3h.01" stroke="#40f626" stroke-width="2.9" stroke-linecap="round" fill="none"/>
<path d="M332.05 298.35H346.05" stroke="#eef2ea" stroke-width="1.15" fill="none"/>
</g></g>
<g><text x="361.4" y="227.4" font-size="12.5" font-weight="700">g</text>
<path d="M406.7 222.3H413.7" stroke="#ee2a2a" stroke-width="0.9" fill="none"/>
<circle cx="410.2" cy="222.3" r="1.3" fill="#ee2a2a"/>
<text x="417" y="224.13" font-size="5.1" font-weight="700" fill="#111" stroke="#111" stroke-width="0.15" textLength="47.5" lengthAdjust="spacingAndGlyphs">EK1, IC<tspan font-size="3.4" dy="1">50</tspan><tspan dy="-1">=18.03 nM</tspan></text>
<path d="M406.7 229.9H413.7" stroke="#2a2af0" stroke-width="0.9" fill="none"/>
<rect x="408.9" y="228.6" width="2.6" height="2.6" fill="#2a2af0"/>
<text x="417" y="231.73" font-size="5.1" font-weight="700" fill="#111" stroke="#111" stroke-width="0.15" textLength="19.5" lengthAdjust="spacingAndGlyphs">EK1-Scr</text>
<path d="M404.2 232.7V293.5H474.6" stroke="#111" stroke-width="1" fill="none"/>
<path d="M402 290.4H404.2M402 279.52H404.2M402 268.64H404.2M402 257.76H404.2M402 246.88H404.2M402 236H404.2M404.2 293.5V296M421.75 293.5V296M439.3 293.5V296M456.85 293.5V296M474.4 293.5V296" stroke="#111" stroke-width="0.7" fill="none"/>
<text x="401.2" y="292.05" font-size="4.6" font-weight="700" text-anchor="end" fill="#111" stroke="#111" stroke-width="0.08">0</text>
<text x="401.2" y="281.17" font-size="4.6" font-weight="700" text-anchor="end" fill="#111" stroke="#111" stroke-width="0.08">20</text>
<text x="401.2" y="270.29" font-size="4.6" font-weight="700" text-anchor="end" fill="#111" stroke="#111" stroke-width="0.08">40</text>
<text x="401.2" y="259.41" font-size="4.6" font-weight="700" text-anchor="end" fill="#111" stroke="#111" stroke-width="0.08">60</text>
<text x="401.2" y="248.53" font-size="4.6" font-weight="700" text-anchor="end" fill="#111" stroke="#111" stroke-width="0.08">80</text>
<text x="401.2" y="237.65" font-size="4.6" font-weight="700" text-anchor="end" fill="#111" stroke="#111" stroke-width="0.08">100</text>
<text x="403.6" y="301.8" font-size="5.6" font-weight="700" text-anchor="middle" fill="#111" stroke="#111" stroke-width="0.15">10<tspan font-size="3.4" dy="-2">0</tspan></text>
<text x="421.15" y="301.8" font-size="5.6" font-weight="700" text-anchor="middle" fill="#111" stroke="#111" stroke-width="0.15">10<tspan font-size="3.4" dy="-2">1</tspan></text>
<text x="438.7" y="301.8" font-size="5.6" font-weight="700" text-anchor="middle" fill="#111" stroke="#111" stroke-width="0.15">10<tspan font-size="3.4" dy="-2">2</tspan></text>
<text x="456.25" y="301.8" font-size="5.6" font-weight="700" text-anchor="middle" fill="#111" stroke="#111" stroke-width="0.15">10<tspan font-size="3.4" dy="-2">3</tspan></text>
<text x="473.8" y="301.8" font-size="5.6" font-weight="700" text-anchor="middle" fill="#111" stroke="#111" stroke-width="0.15">10<tspan font-size="3.4" dy="-2">4</tspan></text>
<path d="M405 290.4H462" stroke="#444" stroke-width="0.6" fill="none" stroke-dasharray="0.8 0.9"/>
<path d="M407.71 285.81L408.59 285.51L409.46 285.16L410.34 284.76L411.22 284.3L412.1 283.78L412.97 283.18L413.85 282.5L414.73 281.73L415.61 280.86L416.49 279.89L417.36 278.8L418.24 277.6L419.12 276.28L420 274.84L420.87 273.28L421.75 271.61L422.63 269.84L423.5 267.99L424.38 266.06L425.26 264.08L426.14 262.08L427.01 260.08L427.89 258.09L428.77 256.15L429.65 254.28L430.52 252.48L431.4 250.79L432.28 249.21L433.16 247.74L434.03 246.39L434.91 245.16L435.79 244.04L436.67 243.04L437.54 242.15L438.42 241.36L439.3 240.66L440.18 240.04L441.06 239.5L441.93 239.02L442.81 238.61L443.69 238.25L444.56 237.94L445.44 237.67L446.32 237.43L447.2 237.23L448.07 237.06L448.95 236.91L449.83 236.78L450.71 236.67L451.58 236.57L452.46 236.49L453.34 236.42L454.22 236.36L455.09 236.31L455.97 236.27L456.85 236.23L457.73 236.19L458.61 236.17L459.48 236.14L460.36 236.12L461.24 236.1L462.12 236.09L462.99 236.08L463.87 236.07L464.75 236.06L465.62 236.05L466.5 236.04L467.38 236.04L468.26 236.03L469.13 236.03" stroke="#ee2a2a" stroke-width="1.1" fill="none"/>
<path d="M407.78 288.22V284.96M406.78 288.22h2M406.78 284.96h2M420.05 277.62V275.98M419.05 277.62h2M419.05 275.98h2M432.32 252.32V249.06M431.32 252.32h2M431.32 249.06h2M444.58 241.44V238.18M443.58 241.44h2M443.58 238.18h2M456.85 236.54V235.46M455.85 236.54h2M455.85 235.46h2M469.12 236.54V235.46M468.12 236.54h2M468.12 235.46h2" stroke="#ee2a2a" stroke-width="0.6" fill="none"/>
<circle cx="407.78" cy="286.59" r="1.45" fill="#ee2a2a"/>
<circle cx="420.05" cy="276.8" r="1.45" fill="#ee2a2a"/>
<circle cx="432.32" cy="250.69" r="1.45" fill="#ee2a2a"/>
<circle cx="444.58" cy="239.81" r="1.45" fill="#ee2a2a"/>
<circle cx="456.85" cy="236" r="1.45" fill="#ee2a2a"/>
<circle cx="469.12" cy="236" r="1.45" fill="#ee2a2a"/>
<path d="M407.78 288.22H469.12" stroke="#2a2af0" stroke-width="1" fill="none"/>
<path d="M407.78 290.13V288.5M406.78 290.13h2M406.78 288.5h2M420.05 287.95V285.23M419.05 287.95h2M419.05 285.23h2M432.32 288.22V286.05M431.32 288.22h2M431.32 286.05h2M444.58 290.94V286.59M443.58 290.94h2M443.58 286.59h2M456.85 288.5V286.86M455.85 288.5h2M455.85 286.86h2M469.12 292.03V290.94M468.12 292.03h2M468.12 290.94h2" stroke="#2a2af0" stroke-width="0.6" fill="none"/>
<rect x="406.43" y="287.96" width="2.7" height="2.7" fill="#2a2af0"/>
<rect x="418.7" y="285.24" width="2.7" height="2.7" fill="#2a2af0"/>
<rect x="430.97" y="285.79" width="2.7" height="2.7" fill="#2a2af0"/>
<rect x="443.23" y="287.42" width="2.7" height="2.7" fill="#2a2af0"/>
<rect x="455.5" y="286.33" width="2.7" height="2.7" fill="#2a2af0"/>
<rect x="467.77" y="290.14" width="2.7" height="2.7" fill="#2a2af0"/>
<text font-size="5.7" font-weight="700" fill="#111" stroke="#111" stroke-width="0.15" textLength="86.1" lengthAdjust="spacingAndGlyphs" transform="translate(382.44 305) rotate(-90)">Inhibition of MjHKU4r-CoV-1-S</text>
<text font-size="5.7" font-weight="700" fill="#111" stroke="#111" stroke-width="0.15" textLength="77.5" lengthAdjust="spacingAndGlyphs" transform="translate(388.84 301) rotate(-90)">mediated cell-cell fusion (%)</text>
<text x="411.3" y="311.22" font-size="6.2" font-weight="700" fill="#111" stroke="#111" stroke-width="0.15" textLength="55.1" lengthAdjust="spacingAndGlyphs">Concentration (nM)</text></g>
<g><text x="2.8" y="329" font-size="12.5" font-weight="700">h</text>
<text x="31" y="357.06" font-size="6.6" font-weight="700" fill="#f070d8" stroke="#f070d8" stroke-width="0.15" textLength="13" lengthAdjust="spacingAndGlyphs">EK1</text>
<text x="107.2" y="353.36" font-size="6.6" font-weight="700" fill="#f070d8" stroke="#f070d8" stroke-width="0.15" textLength="12.2" lengthAdjust="spacingAndGlyphs">EK1</text>
<path d="M55.7 323.3L56.04 323.94L56.55 324.85L57.1 325.91L57.56 327L57.8 328L57.71 328.91L57.38 329.81L56.96 330.71L56.65 331.6L56.6 332.5L56.93 333.39L57.53 334.28L58.22 335.16L58.84 336.07L59.2 337L59.2 337.98L58.96 339.01L58.64 340.05L58.4 341.06L58.4 342L58.74 342.86L59.3 343.67L59.95 344.45L60.56 345.22L61 346L61.24 346.86L61.38 347.79L61.44 348.69L61.47 349.46L61.5 350" stroke="#a24e98" stroke-width="1" fill="none" stroke-linecap="round" stroke-linejoin="round"/>
<path d="M84.8 331L84.14 331.46L83.15 332.09L82.08 332.86L81.15 333.71L80.6 334.6L80.52 335.53L80.76 336.53L81.18 337.61L81.64 338.76L82 340L82.36 341.4L82.82 342.95L83.22 344.55L83.43 346.07L83.3 347.4L82.65 348.57L81.59 349.66L80.37 350.63L79.25 351.42L78.5 352" stroke="#a24e98" stroke-width="1" fill="none" stroke-linecap="round" stroke-linejoin="round"/>
<path d="M68.3 387.6L68.67 389.52L69.17 392.24L69.78 395.39L70.46 398.57L71.2 401.4L72 403.85L72.89 406.18L73.84 408.43L74.81 410.62L75.8 412.8L76.84 414.98L77.95 417.15L79.06 419.26L80.1 421.29L81 423.2L81.76 425.08L82.43 426.96L83 428.69L83.46 430.15L83.8 431.2" stroke="#a24e98" stroke-width="0.9" fill="none" stroke-linecap="round" stroke-linejoin="round"/>
<path d="M64.9 388.8L65.01 391.01L65.18 394.13L65.36 397.76L65.49 401.52L65.5 405L65.43 408.36L65.31 411.87L65.11 415.29L64.79 418.38L64.3 420.9L63.49 422.71L62.37 423.97L61.21 424.89L60.23 425.69L59.7 426.6L59.67 427.65L59.98 428.69L60.54 429.66L61.24 430.52L62 431.2L62.94 431.66L64.12 431.94L65.36 432.11L66.45 432.21L67.2 432.3" stroke="#a24e98" stroke-width="0.9" fill="none" stroke-linecap="round" stroke-linejoin="round"/>
<path d="M95.3 386.5L94.84 387.27L94.15 388.36L93.4 389.64L92.76 390.96L92.4 392.2L92.44 393.26L92.78 394.24L93.22 395.27L93.56 396.48L93.6 398L93.22 399.96L92.54 402.26L91.76 404.73L91.08 407.17L90.7 409.4L90.63 411.4L90.75 413.3L91.02 415.11L91.42 416.87L91.9 418.6L92.61 420.31L93.57 422L94.58 423.62L95.42 425.17L95.9 426.6L95.91 427.86L95.58 428.95L95.07 429.99L94.56 431.07L94.2 432.3L94 433.84L93.85 435.61L93.74 437.38L93.66 438.92L93.6 440" stroke="#a24e98" stroke-width="0.9" fill="none" stroke-linecap="round" stroke-linejoin="round"/>
<path d="M83.8 431.2L77.5 439.2M89.2 437.5V443" stroke="#555" stroke-width="0.5" fill="none" stroke-dasharray="1 0.7"/>
<path d="M84.4 313.5L84.61 316.44L84.93 320.54L85.3 325.38L85.64 330.52L85.9 335.54L86 340L85.91 343.97L85.67 347.81L85.34 351.53L84.98 355.13L84.65 358.62L84.4 362L84.24 365.21L84.11 368.22L84.02 371.12L83.94 374L83.87 376.93L83.8 380L83.75 383.28L83.72 386.7L83.71 390.19L83.68 393.63L83.62 396.93L83.5 400L83.35 402.81L83.18 405.44L82.98 407.94L82.73 410.33L82.41 412.67L82 415L81.44 417.33L80.74 419.63L79.97 421.88L79.2 424.04L78.52 426.09L78 428L77.65 429.84L77.41 431.63L77.25 433.31L77.15 434.81L77.07 436.07L77 437" stroke="#347d54" stroke-width="3.7" fill="none" stroke-linecap="round" stroke-linejoin="round"/>
<path d="M87.37 315.78C87.49 317.49 81.92 317.91 82.05 319.63M87.83 321.68C87.96 323.39 82.37 323.81 82.5 325.53M88.26 327.61C88.37 329.32 82.8 329.65 82.88 331.37M88.6 333.57C88.69 335.28 83.1 335.49 83.14 337.21M88.79 339.57C88.83 341.28 83.17 341.28 83.13 343M88.6 345.72C88.5 347.44 82.93 347.02 82.77 348.73M88.13 351.7C87.98 353.41 82.39 352.89 82.22 354.59M87.55 357.61C87.39 359.33 81.82 358.86 81.7 360.57M87.13 363.4C87.05 365.11 81.45 364.86 81.38 366.57M86.88 369.27C86.82 370.98 81.23 370.82 81.18 372.53M86.71 375.16C86.67 376.88 81.07 376.75 81.03 378.47M86.58 381.06C86.55 382.78 80.95 382.72 80.94 384.43M86.52 386.95C86.51 388.67 80.92 388.64 80.9 390.35M86.48 392.89C86.47 394.61 80.86 394.53 80.83 396.25M86.34 398.89C86.28 400.61 80.68 400.35 80.58 402.07M86.02 404.88C85.91 406.59 80.36 406.13 80.18 407.84M85.47 410.98C85.23 412.68 79.72 411.82 79.42 413.51M84.38 417.08C83.98 418.75 78.62 417.19 78.06 418.82M82.54 423.02C81.96 424.63 76.66 422.82 76.12 424.45M80.78 428.45C80.33 430.11 74.93 429.02 74.7 430.72M80.03 433.76C79.91 435.48 74.34 435.07 74.21 436.78" stroke="#2a6a45" stroke-width="2.56" fill="none" stroke-linecap="round"/>
<path d="M81.61 313.7C81.7 314.94 87.28 314.54 87.37 315.78M82.05 319.63C82.15 320.87 87.73 320.44 87.83 321.68M82.5 325.53C82.6 326.77 88.17 326.37 88.26 327.61M82.88 331.37C82.95 332.61 88.54 332.32 88.6 333.57M83.14 337.21C83.16 338.45 88.76 338.32 88.79 339.57M83.13 343C83.1 344.24 88.68 344.48 88.6 345.72M82.77 348.73C82.66 349.97 88.24 350.46 88.13 351.7M82.22 354.59C82.09 355.83 87.67 356.38 87.55 357.61M81.7 360.57C81.61 361.81 87.2 362.16 87.13 363.4M81.38 366.57C81.33 367.82 86.92 368.02 86.88 369.27M81.18 372.53C81.15 373.78 86.74 373.92 86.71 375.16M81.03 378.47C81.01 379.71 86.6 379.82 86.58 381.06M80.94 384.43C80.93 385.68 86.53 385.71 86.52 386.95M80.9 390.35C80.89 391.6 86.49 391.64 86.48 392.89M80.83 396.25C80.81 397.49 86.39 397.65 86.34 398.89M80.58 402.07C80.52 403.31 86.1 403.64 86.02 404.88M80.18 407.84C80.05 409.07 85.64 409.75 85.47 410.98M79.42 413.51C79.2 414.74 84.67 415.87 84.38 417.08M78.06 418.82C77.65 420 82.95 421.84 82.54 423.02M76.12 424.45C75.72 425.63 81.11 427.25 80.78 428.45M74.7 430.72C74.54 431.96 80.11 432.52 80.03 433.76" stroke="#4a9c6c" stroke-width="3.2" fill="none" stroke-linecap="round"/>
<path d="M67.2 314.5L67.18 321.39L67.14 331.17L67.09 342.62L67.07 354.56L67.1 365.75L67.2 375L67.34 382.25L67.5 388.46L67.7 393.94L67.98 398.98L68.37 403.9L68.9 409L69.67 414.52L70.69 420.26L71.81 425.88L72.9 431.02L73.85 435.34L74.5 438.5" stroke="#347d54" stroke-width="3.7" fill="none" stroke-linecap="round" stroke-linejoin="round"/>
<path d="M64.39 316.98C64.39 318.7 69.99 318.72 69.98 320.44M64.37 322.91C64.37 324.63 69.97 324.66 69.96 326.38M64.35 328.85C64.34 330.57 69.94 330.59 69.93 332.31M64.32 334.78C64.32 336.5 69.92 336.52 69.91 338.24M64.3 340.71C64.29 342.43 69.89 342.45 69.89 344.17M64.29 346.65C64.28 348.37 69.88 348.38 69.88 350.1M64.28 352.59C64.27 354.31 69.87 354.3 69.88 356.02M64.28 358.53C64.29 360.25 69.89 360.24 69.89 361.96M64.3 364.46C64.3 366.18 69.91 366.15 69.92 367.87M64.35 370.42C64.37 372.14 69.97 372.08 69.99 373.8M64.43 376.38C64.46 378.1 70.06 377.99 70.09 379.71M64.54 382.32C64.58 384.04 70.18 383.9 70.23 385.62M64.69 388.26C64.73 389.98 70.35 389.8 70.41 391.52M64.91 394.27C65.01 395.99 70.6 395.68 70.7 397.39M65.27 400.26C65.41 401.97 70.99 401.53 71.13 403.25M65.8 406.24C65.98 407.95 71.49 407.28 71.72 408.98M66.52 412.22C66.76 413.93 72.26 413.06 72.56 414.75M67.48 418.18C67.77 419.87 73.26 418.84 73.59 420.53M68.59 424.07C68.93 425.76 74.4 424.63 74.76 426.31M69.81 429.92C70.16 431.6 75.64 430.42 76 432.1M71.06 435.73C71.43 437.41 76.89 436.25 77.24 437.93" stroke="#2a6a45" stroke-width="2.56" fill="none" stroke-linecap="round"/>
<path d="M70 314.51C70 315.75 64.4 315.74 64.39 316.98M69.98 320.44C69.98 321.69 64.38 321.67 64.37 322.91M69.96 326.38C69.95 327.62 64.35 327.6 64.35 328.85M69.93 332.31C69.93 333.56 64.33 333.53 64.32 334.78M69.91 338.24C69.91 339.49 64.31 339.47 64.3 340.71M69.89 344.17C69.89 345.42 64.29 345.41 64.29 346.65M69.88 350.1C69.88 351.35 64.28 351.34 64.28 352.59M69.88 356.02C69.88 357.27 64.28 357.28 64.28 358.53M69.89 361.96C69.9 363.2 64.3 363.22 64.3 364.46M69.92 367.87C69.94 369.11 64.34 369.17 64.35 370.42M69.99 373.8C70 375.05 64.4 375.13 64.43 376.38M70.09 379.71C70.12 380.95 64.51 381.08 64.54 382.32M70.23 385.62C70.26 386.87 64.66 387.01 64.69 388.26M70.41 391.52C70.46 392.77 64.84 393.03 64.91 394.27M70.7 397.39C70.77 398.64 65.18 399.02 65.27 400.26M71.13 403.25C71.23 404.49 65.67 405 65.8 406.24M71.72 408.98C71.9 410.21 66.35 410.99 66.52 412.22M72.56 414.75C72.77 415.98 67.26 416.95 67.48 418.18M73.59 420.53C73.84 421.75 68.35 422.85 68.59 424.07M74.76 426.31C75.02 427.53 69.55 428.7 69.81 429.92M76 432.1C76.27 433.32 70.8 434.51 71.06 435.73" stroke="#4a9c6c" stroke-width="3.2" fill="none" stroke-linecap="round"/>
<path d="M73.5 314.5L73.61 318.54L73.75 324.28L73.93 331L74.14 338L74.39 344.57L74.7 350L75.06 354.29L75.47 358L75.93 361.28L76.42 364.28L76.95 367.14L77.5 370L78.11 372.79L78.8 375.37L79.52 377.81L80.23 380.19L80.91 382.56L81.5 385L82.02 387.5L82.48 390L82.91 392.5L83.3 395L83.66 397.5L84 400L84.3 402.52L84.54 405.07L84.75 407.62L84.96 410.15L85.2 412.62L85.5 415L85.86 417.33L86.28 419.63L86.72 421.88L87.17 424.04L87.6 426.09L88 428L88.39 429.84L88.78 431.63L89.16 433.31L89.5 434.81L89.79 436.07L90 437" stroke="#347d54" stroke-width="3.7" fill="none" stroke-linecap="round" stroke-linejoin="round"/>
<path d="M76.37 316.9C76.42 318.61 70.82 318.76 70.86 320.47M76.52 322.81C76.56 324.53 70.96 324.67 71.01 326.38M76.67 328.71C76.71 330.43 71.11 330.58 71.16 332.29M76.84 334.6C76.89 336.32 71.28 336.51 71.34 338.22M77.04 340.48C77.1 342.19 71.51 342.41 71.57 344.12M77.3 346.33C77.39 348.04 71.8 348.36 71.9 350.07M77.69 352.15C77.83 353.85 72.26 354.4 72.44 356.1M78.28 357.87C78.51 359.57 72.94 360.41 73.22 362.1M79.15 363.64C79.43 365.33 73.93 366.31 74.26 367.99M80.23 369.36C80.55 371.05 75.09 372.3 75.53 373.96M81.56 374.84C82.05 376.48 76.68 378.08 77.17 379.72M83.24 380.53C83.71 382.18 78.28 383.61 78.68 385.27M84.66 386.47C85.01 388.15 79.5 389.18 79.79 390.87M85.73 392.42C85.99 394.11 80.46 394.94 80.7 396.64M86.6 398.31C86.83 400.01 81.26 400.72 81.46 402.42M87.28 404.3C87.44 406 81.85 406.5 81.99 408.21M87.78 410.17C87.94 411.88 82.37 412.49 82.58 414.19M88.47 415.87C88.74 417.56 83.21 418.54 83.54 420.22M89.51 421.54C89.86 423.22 84.37 424.37 84.73 426.04M90.72 427.32C91.07 429 85.59 430.17 85.96 431.84M91.97 433.04C92.35 434.71 86.89 435.95 87.27 437.62" stroke="#2a6a45" stroke-width="2.56" fill="none" stroke-linecap="round"/>
<path d="M70.7 314.58C70.74 315.82 76.33 315.66 76.37 316.9M70.86 320.47C70.89 321.71 76.49 321.57 76.52 322.81M71.01 326.38C71.04 327.62 76.64 327.47 76.67 328.71M71.16 332.29C71.2 333.53 76.8 333.36 76.84 334.6M71.34 338.22C71.39 339.46 76.99 339.24 77.04 340.48M71.57 344.12C71.62 345.36 77.23 345.09 77.3 346.33M71.9 350.07C71.97 351.31 77.59 350.91 77.69 352.15M72.44 356.1C72.58 357.33 78.11 356.64 78.28 357.87M73.22 362.1C73.42 363.32 78.95 362.41 79.15 363.64M74.26 367.99C74.5 369.21 79.99 368.15 80.23 369.36M75.53 373.96C75.85 375.15 81.21 373.65 81.56 374.84M77.17 379.72C77.53 380.91 82.9 379.34 83.24 380.53M78.68 385.27C78.98 386.48 84.41 385.26 84.66 386.47M79.79 390.87C80 392.1 85.54 391.19 85.73 392.42M80.7 396.64C80.88 397.87 86.43 397.08 86.6 398.31M81.46 402.42C81.61 403.65 87.16 403.06 87.28 404.3M81.99 408.21C82.09 409.44 87.66 408.94 87.78 410.17M82.58 414.19C82.73 415.42 88.28 414.65 88.47 415.87M83.54 420.22C83.78 421.43 89.26 420.33 89.51 421.54M84.73 426.04C84.99 427.26 90.46 426.11 90.72 427.32M85.96 431.84C86.22 433.05 91.69 431.83 91.97 433.04" stroke="#4a9c6c" stroke-width="3.2" fill="none" stroke-linecap="round"/>
<path d="M78.9 354L78.65 355.51L78.31 357.59L77.91 360.06L77.46 362.74L76.98 365.45L76.5 368L75.96 370.62L75.34 373.48L74.7 376.38L74.09 379.07L73.57 381.36L73.2 383" stroke="#dc66c8" stroke-width="3.11" fill="none" stroke-linecap="round" stroke-linejoin="round"/>
<path d="M80.67 356.8C80.39 358.5 76.05 357.79 75.77 359.48M79.7 362.65C79.42 364.34 75.09 363.57 74.78 365.26M78.63 368.54C78.29 370.22 73.99 369.32 73.63 370.99M77.4 374.36C77.03 376.04 72.74 375.07 72.36 376.75M76.1 380.14C75.72 381.82 71.43 380.84 71.05 382.52" stroke="#c650b4" stroke-width="2.4" fill="none" stroke-linecap="round"/>
<path d="M76.73 353.64C76.53 354.86 80.87 355.58 80.67 356.8M75.77 359.48C75.57 360.7 79.91 361.42 79.7 362.65M74.78 365.26C74.55 366.48 78.88 367.33 78.63 368.54M73.63 370.99C73.37 372.21 77.67 373.15 77.4 374.36M72.36 376.75C72.09 377.96 76.38 378.93 76.1 380.14" stroke="#ef7cdc" stroke-width="3" fill="none" stroke-linecap="round"/>
<path d="M59.7 351L59.97 352.83L60.33 355.33L60.76 358.31L61.26 361.56L61.84 364.85L62.5 368L63.32 371.27L64.34 374.89L65.42 378.56L66.47 382L67.37 384.91L68 387" stroke="#dc66c8" stroke-width="3.86" fill="none" stroke-linecap="round" stroke-linejoin="round"/>
<path d="M62.95 353.16C63.2 354.93 57.46 355.75 57.71 357.52M63.83 359.22C64.11 360.99 58.39 361.94 58.7 363.7M64.87 365.15C65.23 366.91 59.56 368.21 60 369.94M66.25 370.96C66.73 372.69 61.14 374.3 61.65 376.01M67.94 376.85C68.45 378.57 62.9 380.23 63.43 381.95M69.73 382.72C70.26 384.43 64.71 386.12 65.22 387.84" stroke="#c650b4" stroke-width="2.72" fill="none" stroke-linecap="round"/>
<path d="M56.83 351.43C57.02 352.71 62.77 351.88 62.95 353.16M57.71 357.52C57.9 358.8 63.63 357.94 63.83 359.22M58.7 363.7C58.92 364.98 64.61 363.89 64.87 365.15M60 369.94C60.32 371.2 65.9 369.72 66.25 370.96M61.65 376.01C62.01 377.26 67.57 375.61 67.94 376.85M63.43 381.95C63.8 383.18 69.35 381.48 69.73 382.72" stroke="#ef7cdc" stroke-width="3.4" fill="none" stroke-linecap="round"/>
<path d="M89.6 350.5L89.9 352.4L90.33 355.02L90.82 358.12L91.36 361.48L91.9 364.85L92.4 368L92.9 371.18L93.44 374.63L93.98 378.09L94.47 381.31L94.9 384.04L95.2 386" stroke="#dc66c8" stroke-width="3.86" fill="none" stroke-linecap="round" stroke-linejoin="round"/>
<path d="M87.14 353.44C87.41 355.16 93.14 354.24 93.41 355.95M88.09 359.36C88.36 361.07 94.09 360.16 94.36 361.87M89.03 365.27C89.3 366.99 95.03 366.08 95.3 367.79M89.96 371.18C90.23 372.9 95.96 372 96.23 373.72M90.88 377.09C91.15 378.81 96.88 377.92 97.15 379.64M91.8 383.01C92.07 384.73 97.8 383.84 98.07 385.56" stroke="#c650b4" stroke-width="2.72" fill="none" stroke-linecap="round"/>
<path d="M92.46 350.04C92.66 351.28 86.94 352.2 87.14 353.44M93.41 355.95C93.61 357.2 87.89 358.11 88.09 359.36M94.36 361.87C94.56 363.11 88.83 364.03 89.03 365.27M95.3 367.79C95.5 369.04 89.77 369.94 89.96 371.18M96.23 373.72C96.42 374.96 90.69 375.85 90.88 377.09M97.15 379.64C97.34 380.88 91.61 381.77 91.8 383.01" stroke="#ef7cdc" stroke-width="3.4" fill="none" stroke-linecap="round"/>
<path d="M85.5 329.5L84.2 333" stroke="#dc66c8" stroke-width="2.1" fill="none" stroke-linecap="round" stroke-linejoin="round"/>
<path d="M86.17 331.42C85.8 332.44 83.36 331.53 82.98 332.55" stroke="#c650b4" stroke-width="1.92" fill="none" stroke-linecap="round"/>
<path d="M84.28 329.05C84.01 329.78 86.45 330.69 86.17 331.42" stroke="#ef7cdc" stroke-width="2.4" fill="none" stroke-linecap="round"/>
<path d="M62.3 313.6L67.5 314.6M74.5 313.4L80.6 311.8L84 314.5" stroke="#2a6a45" stroke-width="1.1" fill="none" stroke-linecap="round"/>
<path d="M67.2 442.7Q71 444.5 76.4 439.2M89 443.8Q93.5 444 95.3 439.2" stroke="#b87464" stroke-width="0.8" fill="none"/>
<path d="M127.8 325.4L127.11 326.3L126.06 327.58L124.93 329.06L124.02 330.59L123.6 332L123.88 333.32L124.69 334.65L125.69 335.96L126.56 337.19L127 338.3L126.79 339.22L126.16 339.98L125.4 340.69L124.81 341.43L124.7 342.3L125.27 343.34L126.32 344.48L127.54 345.67L128.63 346.86L129.3 348L129.43 349.16L129.22 350.37L128.83 351.52L128.44 352.5L128.2 353.2" stroke="#a24e98" stroke-width="1" fill="none" stroke-linecap="round" stroke-linejoin="round"/>
<path d="M144.2 326.2L144.84 326.45L145.74 326.8L146.79 327.2L147.91 327.62L149 328L150.16 328.37L151.45 328.77L152.72 329.15L153.83 329.47L154.6 329.7" stroke="#a24e98" stroke-width="0.9" fill="none" stroke-linecap="round" stroke-linejoin="round"/>
<path d="M147.7 331.4L147.57 333L147.36 335.3L147.16 337.93L147.04 340.55L147.1 342.8L147.5 344.71L148.2 346.5L148.92 348.16L149.41 349.63L149.4 350.9L148.68 351.94L147.42 352.76L145.95 353.41L144.6 353.91L143.7 354.3" stroke="#a24e98" stroke-width="1" fill="none" stroke-linecap="round" stroke-linejoin="round"/>
<path d="M132.2 388.8L132.72 390.51L133.45 392.93L134.32 395.76L135.26 398.68L136.2 401.4L137.21 403.97L138.33 406.6L139.47 409.2L140.53 411.7L141.4 414L142.01 416.08L142.42 417.98L142.75 419.77L143.14 421.49L143.7 423.2L144.46 424.8L145.32 426.27L146.27 427.73L147.27 429.32L148.3 431.2L149.46 433.63L150.77 436.51L152.08 439.45L153.21 442.01L154 443.8" stroke="#a24e98" stroke-width="0.9" fill="none" stroke-linecap="round" stroke-linejoin="round"/>
<path d="M131 419.7L130.29 421.14L129.23 423.18L128.07 425.54L127.08 427.92L126.5 430L126.5 431.78L126.9 433.46L127.47 435.05L127.98 436.59L128.2 438.1L128.05 439.67L127.68 441.28L127.22 442.79L126.79 444.08L126.5 445" stroke="#a24e98" stroke-width="0.9" fill="none" stroke-linecap="round" stroke-linejoin="round"/>
<path d="M159.7 388L159.48 389.03L159.17 390.47L158.8 392.16L158.41 393.93L158 395.6L157.51 397.23L156.93 398.92L156.36 400.61L155.91 402.23L155.7 403.7L155.86 405.01L156.31 406.21L156.85 407.31L157.28 408.37L157.4 409.4L157.05 410.35L156.36 411.21L155.57 412.05L154.91 412.95L154.6 414L154.78 415.17L155.31 416.39L155.97 417.73L156.56 419.21L156.9 420.9L156.89 422.84L156.66 425L156.35 427.31L156.08 429.67L156 432L156.16 434.5L156.46 437.24L156.83 439.9L157.17 442.18L157.4 443.8" stroke="#6f9f6f" stroke-width="0.8" fill="none" stroke-linecap="round" stroke-linejoin="round"/>
<path d="M148.3 311L148.48 312.78L148.74 315.19L149.04 318.06L149.37 321.26L149.7 324.62L150 328L150.31 331.47L150.66 335.19L151 339.06L151.31 343.04L151.56 347.04L151.7 351L151.75 354.95L151.73 358.96L151.64 363L151.49 367.04L151.28 371.05L151 375L150.59 379.03L150.04 383.19L149.43 387.31L148.83 391.26L148.32 394.87L148 398L147.85 400.47L147.8 402.37L147.84 403.94L147.98 405.41L148.2 407.02L148.5 409L148.93 411.42L149.52 414.11L150.19 416.94L150.87 419.78L151.5 422.51L152 425L152.38 427.37L152.7 429.74L152.97 432L153.19 434.04L153.36 435.74L153.5 437" stroke="#257a1a" stroke-width="3.7" fill="none" stroke-linecap="round" stroke-linejoin="round"/>
<path d="M151.35 313.23C151.53 314.97 145.96 315.56 146.15 317.3M151.98 319.25C152.16 320.99 146.59 321.55 146.75 323.29M152.57 325.3C152.73 327.04 147.15 327.54 147.3 329.29M153.11 331.31C153.27 333.05 147.69 333.57 147.86 335.32M153.66 337.34C153.81 339.08 148.23 339.55 148.37 341.3M154.14 343.44C154.25 345.19 148.7 345.46 148.76 347.21M154.45 349.54C154.51 351.29 148.91 351.43 148.93 353.18M154.55 355.7C154.54 357.45 148.96 357.38 148.93 359.13M154.47 361.79C154.43 363.54 148.83 363.37 148.76 365.13M154.25 367.92C154.16 369.67 148.59 369.32 148.47 371.07M153.88 373.99C153.75 375.74 148.16 375.26 147.98 377.01M153.26 380.18C153.03 381.92 147.52 381.14 147.26 382.87M152.42 386.21C152.16 387.94 146.62 387.11 146.36 388.84M151.53 392.15C151.29 393.89 145.68 393.21 145.5 394.95M150.81 398.06C150.63 399.8 145.07 399.44 145.03 401.19M150.64 403.72C150.69 405.47 145.21 405.97 145.47 407.7M151.4 409.3C151.71 411.02 146.22 412.11 146.59 413.82M152.62 415.05C153.02 416.76 147.58 418.06 147.99 419.76M154.01 420.95C154.41 422.66 148.96 423.73 149.24 425.46M155.18 427.14C155.41 428.88 149.87 429.58 150.07 431.32M155.91 433.22C156.1 434.96 150.52 435.57 150.72 437.31" stroke="#1f6614" stroke-width="2.56" fill="none" stroke-linecap="round"/>
<path d="M145.51 311.29C145.65 312.55 151.21 311.97 151.35 313.23M146.15 317.3C146.28 318.56 151.85 317.99 151.98 319.25M146.75 323.29C146.88 324.56 152.46 324.03 152.57 325.3M147.3 329.29C147.42 330.55 152.99 330.04 153.11 331.31M147.86 335.32C147.97 336.58 153.55 336.07 153.66 337.34M148.37 341.3C148.47 342.56 154.06 342.17 154.14 343.44M148.76 347.21C148.81 348.48 154.4 348.27 154.45 349.54M148.93 353.18C148.94 354.45 154.55 354.43 154.55 355.7M148.93 359.13C148.9 360.4 154.5 360.52 154.47 361.79M148.76 365.13C148.71 366.39 154.32 366.65 154.25 367.92M148.47 371.07C148.38 372.34 153.97 372.73 153.88 373.99M147.98 377.01C147.86 378.27 153.43 378.92 153.26 380.18M147.26 382.87C147.07 384.13 152.61 384.95 152.42 386.21M146.36 388.84C146.17 390.09 151.7 390.9 151.53 392.15M145.5 394.95C145.37 396.22 150.94 396.79 150.81 398.06M145.03 401.19C144.99 402.46 150.6 402.45 150.64 403.72M145.47 407.7C145.66 408.95 151.17 408.05 151.4 409.3M146.59 413.82C146.86 415.06 152.33 413.82 152.62 415.05M147.99 419.76C148.28 421 153.73 419.72 154.01 420.95M149.24 425.46C149.44 426.71 155.01 425.88 155.18 427.14M150.07 431.32C150.22 432.58 155.78 431.96 155.91 433.22" stroke="#359a28" stroke-width="3.2" fill="none" stroke-linecap="round"/>
<path d="M132.2 317.6L132.45 319.96L132.8 323.21L133.21 327.07L133.65 331.24L134.09 335.45L134.5 339.4L134.95 343.14L135.47 346.9L135.99 350.7L136.44 354.53L136.73 358.4L136.8 362.3L136.54 366.27L135.99 370.32L135.29 374.4L134.57 378.48L133.96 382.53L133.6 386.5L133.48 390.39L133.48 394.23L133.6 398.03L133.82 401.81L134.12 405.6L134.5 409.4L135.01 413.4L135.67 417.63L136.41 421.85L137.18 425.85L137.9 429.41L138.5 432.3L139.01 434.46L139.48 436.04L139.9 437.18L140.27 438L140.57 438.63L140.8 439.2" stroke="#257a1a" stroke-width="3.7" fill="none" stroke-linecap="round" stroke-linejoin="round"/>
<path d="M129.69 320.46C129.88 322.23 135.45 321.64 135.63 323.41M130.34 326.57C130.53 328.34 136.09 327.75 136.28 329.52M130.98 332.68C131.17 334.45 136.74 333.87 136.92 335.64M131.62 338.79C131.81 340.56 137.38 339.93 137.6 341.7M132.38 344.98C132.62 346.74 138.17 345.98 138.41 347.74M133.22 351.06C133.46 352.83 138.98 352.13 139.19 353.9M133.82 357C133.96 358.78 139.54 358.52 139.57 360.3M133.96 362.74C133.85 364.52 139.52 365.09 139.28 366.86M133.39 368.66C133.15 370.43 138.67 371.28 138.36 373.03M132.41 374.62C132.1 376.37 137.58 377.27 137.32 379.03M131.4 380.75C131.13 382.51 136.71 383.18 136.55 384.96M130.78 387.19C130.72 388.97 136.28 389.05 136.28 390.83M130.68 393.42C130.68 395.2 136.31 395.11 136.37 396.89M130.89 399.72C131 401.5 136.57 401.11 136.71 402.89M131.35 405.96C131.52 407.73 137.09 407.18 137.27 408.96M132.03 412.14C132.25 413.91 137.8 413.13 138.07 414.89M132.95 418.35C133.26 420.11 138.78 419.14 139.09 420.89M134.06 424.44C134.39 426.19 139.88 425.11 140.24 426.86M135.27 430.51C135.63 432.26 141.08 431.04 141.49 432.78M136.75 436.71C137.26 438.41 142.72 436.49 143.39 438.14" stroke="#1f6614" stroke-width="2.56" fill="none" stroke-linecap="round"/>
<path d="M134.98 317.3C135.12 318.59 129.55 319.18 129.69 320.46M135.63 323.41C135.77 324.7 130.2 325.29 130.34 326.57M136.28 329.52C136.42 330.81 130.85 331.39 130.98 332.68M136.92 335.64C137.06 336.92 131.49 337.5 131.62 338.79M137.6 341.7C137.75 342.98 132.2 343.7 132.38 344.98M138.41 347.74C138.59 349.02 133.04 349.78 133.22 351.06M139.19 353.9C139.34 355.18 133.72 355.72 133.82 357M139.57 360.3C139.59 361.59 134.05 361.46 133.96 362.74M139.28 366.86C139.11 368.14 133.56 367.39 133.39 368.66M138.36 373.03C138.14 374.31 132.63 373.34 132.41 374.62M137.32 379.03C137.12 380.3 131.59 379.47 131.4 380.75M136.55 384.96C136.43 386.24 130.82 385.9 130.78 387.19M136.28 390.83C136.28 392.12 130.68 392.13 130.68 393.42M136.37 396.89C136.41 398.18 130.82 398.43 130.89 399.72M136.71 402.89C136.82 404.17 131.22 404.68 131.35 405.96M137.27 408.96C137.4 410.24 131.86 410.86 132.03 412.14M138.07 414.89C138.27 416.16 132.73 417.08 132.95 418.35M139.09 420.89C139.31 422.16 133.81 423.17 134.06 424.44M140.24 426.86C140.49 428.12 135 429.25 135.27 430.51M141.49 432.78C141.79 434.03 136.39 435.47 136.75 436.71" stroke="#359a28" stroke-width="3.2" fill="none" stroke-linecap="round"/>
<path d="M140.8 318.5L140.64 320.31L140.4 322.83L140.12 325.81L139.85 329L139.63 332.15L139.5 335L139.47 337.47L139.5 339.74L139.57 341.97L139.69 344.31L139.84 346.94L140 350L140.16 353.68L140.33 357.89L140.53 362.38L140.78 366.89L141.09 371.18L141.5 375L142.07 378.49L142.8 381.89L143.59 385.06L144.37 387.89L145.04 390.24L145.5 392" stroke="#257a1a" stroke-width="3.7" fill="none" stroke-linecap="round" stroke-linejoin="round"/>
<path d="M143.35 321.35C143.18 323.13 137.61 322.61 137.44 324.39M142.79 327.47C142.64 329.25 137.05 328.82 136.93 330.61M142.37 333.52C142.29 335.3 136.7 335.14 136.67 336.93M142.29 339.53C142.32 341.32 136.75 341.49 136.84 343.28M142.57 345.58C142.67 347.36 137.07 347.67 137.17 349.46M142.88 351.77C142.96 353.56 137.37 353.8 137.44 355.59M143.14 357.94C143.22 359.73 137.62 359.98 137.7 361.77M143.43 364.08C143.53 365.87 137.92 366.23 138.05 368.02M143.83 370.19C143.96 371.98 138.42 372.48 138.61 374.26M144.51 376.08C144.8 377.85 139.29 378.88 139.66 380.64M145.69 381.9C146.12 383.63 140.69 385.06 141.16 386.79M147.25 387.78C147.74 389.51 142.34 390.98 142.79 392.72" stroke="#1f6614" stroke-width="2.56" fill="none" stroke-linecap="round"/>
<path d="M138.01 318.25C137.9 319.54 143.47 320.06 143.35 321.35M137.44 324.39C137.32 325.68 142.9 326.18 142.79 327.47M136.93 330.61C136.84 331.9 142.43 332.22 142.37 333.52M136.67 336.93C136.66 338.23 142.28 338.23 142.29 339.53M136.84 343.28C136.9 344.58 142.5 344.28 142.57 345.58M137.17 349.46C137.24 350.75 142.82 350.48 142.88 351.77M137.44 355.59C137.49 356.89 143.08 356.65 143.14 357.94M137.7 361.77C137.76 363.06 143.36 362.79 143.43 364.08M138.05 368.02C138.15 369.31 143.73 368.9 143.83 370.19M138.61 374.26C138.74 375.55 144.3 374.8 144.51 376.08M139.66 380.64C139.94 381.9 145.37 380.64 145.69 381.9M141.16 386.79C141.51 388.04 146.9 386.54 147.25 387.78" stroke="#359a28" stroke-width="3.2" fill="none" stroke-linecap="round"/>
<path d="M144.5 419L144.34 419.99L144.11 421.37L143.84 423L143.56 424.74L143.27 426.45L143 428L142.73 429.48L142.44 431.04L142.16 432.56L141.89 433.96L141.66 435.14L141.5 436" stroke="#257a1a" stroke-width="3.19" fill="none" stroke-linecap="round" stroke-linejoin="round"/>
<path d="M146.38 421.76C146.11 423.4 141.57 422.66 141.3 424.3M145.43 427.45C145.14 429.1 140.62 428.29 140.31 429.93M144.39 433.15C144.07 434.79 139.55 433.93 139.24 435.57" stroke="#1f6614" stroke-width="2.4" fill="none" stroke-linecap="round"/>
<path d="M142.23 418.63C142.03 419.82 146.57 420.56 146.38 421.76M141.3 424.3C141.1 425.49 145.63 426.26 145.43 427.45M140.31 429.93C140.09 431.11 144.61 431.97 144.39 433.15" stroke="#359a28" stroke-width="3" fill="none" stroke-linecap="round"/>
<path d="M144 356L143.74 357.76L143.38 360.2L142.96 363.09L142.49 366.19L141.99 369.23L141.5 372L140.96 374.67L140.34 377.48L139.69 380.25L139.09 382.8L138.57 384.94L138.2 386.5" stroke="#dc66c8" stroke-width="3.11" fill="none" stroke-linecap="round" stroke-linejoin="round"/>
<path d="M145.79 358.9C145.54 360.68 141.18 360.04 140.92 361.83M144.88 365.06C144.61 366.84 140.26 366.16 139.97 367.94M143.87 371.24C143.55 373.02 139.22 372.19 138.86 373.96M142.6 377.42C142.21 379.18 137.92 378.19 137.5 379.95M141.18 383.51C140.75 385.26 136.47 384.24 136.06 385.99" stroke="#c650b4" stroke-width="2.4" fill="none" stroke-linecap="round"/>
<path d="M141.82 355.67C141.63 356.97 145.98 357.61 145.79 358.9M140.92 361.83C140.73 363.12 145.08 363.77 144.88 365.06M139.97 367.94C139.77 369.22 144.1 369.96 143.87 371.24M138.86 373.96C138.6 375.24 142.89 376.15 142.6 377.42M137.5 379.95C137.2 381.21 141.48 382.24 141.18 383.51" stroke="#ef7cdc" stroke-width="3" fill="none" stroke-linecap="round"/>
<path d="M126.5 355.5L126.74 357.29L127.06 359.77L127.44 362.7L127.87 365.87L128.33 369.04L128.8 372L129.34 374.98L129.98 378.2L130.64 381.43L131.28 384.43L131.82 386.97L132.2 388.8" stroke="#dc66c8" stroke-width="3.86" fill="none" stroke-linecap="round" stroke-linejoin="round"/>
<path d="M129.75 357.95C130 359.89 124.24 360.63 124.5 362.58M130.63 364.63C130.89 366.57 125.15 367.37 125.44 369.32M131.62 371.25C131.93 373.18 126.23 374.2 126.61 376.12M132.85 377.76C133.24 379.68 127.56 380.87 127.97 382.78M134.23 384.36C134.64 386.28 128.96 387.47 129.36 389.39" stroke="#c650b4" stroke-width="2.72" fill="none" stroke-linecap="round"/>
<path d="M123.63 355.88C123.81 357.29 129.56 356.54 129.75 357.95M124.5 362.58C124.68 363.99 130.43 363.22 130.63 364.63M125.44 369.32C125.64 370.72 131.39 369.84 131.62 371.25M126.61 376.12C126.89 377.51 132.56 376.37 132.85 377.76M127.97 382.78C128.26 384.17 133.93 382.97 134.23 384.36" stroke="#ef7cdc" stroke-width="3.4" fill="none" stroke-linecap="round"/>
<path d="M154 352.6L154.33 354.49L154.79 357.1L155.33 360.2L155.91 363.54L156.48 366.89L157 370L157.5 373.13L158.02 376.5L158.54 379.89L159.01 383.03L159.41 385.68L159.7 387.6" stroke="#dc66c8" stroke-width="3.86" fill="none" stroke-linecap="round" stroke-linejoin="round"/>
<path d="M151.57 355.55C151.87 357.24 157.58 356.23 157.88 357.92M152.59 361.36C152.88 363.05 158.6 362.07 158.89 363.76M153.59 367.18C153.88 368.87 159.61 367.92 159.88 369.62M154.54 372.98C154.81 374.67 160.53 373.77 160.8 375.47M155.44 378.8C155.7 380.5 161.43 379.63 161.69 381.32M156.32 384.64C156.58 386.34 162.31 385.47 162.57 387.17" stroke="#c650b4" stroke-width="2.72" fill="none" stroke-linecap="round"/>
<path d="M156.86 352.1C157.07 353.32 151.36 354.32 151.57 355.55M157.88 357.92C158.09 359.14 152.38 360.14 152.59 361.36M158.89 363.76C159.1 364.98 153.38 365.96 153.59 367.18M159.88 369.62C160.07 370.84 154.34 371.76 154.54 372.98M160.8 375.47C160.99 376.69 155.25 377.58 155.44 378.8M161.69 381.32C161.87 382.55 156.14 383.41 156.32 384.64" stroke="#ef7cdc" stroke-width="3.4" fill="none" stroke-linecap="round"/>
<path d="M121.3 314L129.3 313.6L132 317.5M138.5 311.9L143.1 317M147.1 308.4L149 312" stroke="#1f6614" stroke-width="1.1" fill="none" stroke-linecap="round"/>
<path d="M139 440L128 445M146 441L148 445" stroke="#5a7a5a" stroke-width="0.5" fill="none"/>
<text x="58.2" y="455.56" font-size="6.3" font-weight="700" fill="#111" stroke="#111" stroke-width="0.15" textLength="46" lengthAdjust="spacingAndGlyphs">MjHKU4r-CoV-1</text>
<text x="70.8" y="462.56" font-size="6.3" font-weight="700" fill="#111" stroke="#111" stroke-width="0.15" textLength="22.7" lengthAdjust="spacingAndGlyphs">HR1/EK1</text>
<text x="58.2" y="469.76" font-size="6.3" font-weight="700" fill="#111" stroke="#111" stroke-width="0.15" textLength="46.6" lengthAdjust="spacingAndGlyphs">PDB entry 8X5P</text>
<text x="126.2" y="455.56" font-size="6.3" font-weight="700" fill="#111" stroke="#111" stroke-width="0.15" textLength="36.4" lengthAdjust="spacingAndGlyphs">SARS-CoV-2</text>
<text x="133.3" y="462.56" font-size="6.3" font-weight="700" fill="#111" stroke="#111" stroke-width="0.15" textLength="22.7" lengthAdjust="spacingAndGlyphs">HR1/EK1</text>
<text x="122.4" y="469.76" font-size="6.3" font-weight="700" fill="#111" stroke="#111" stroke-width="0.15" textLength="44.7" lengthAdjust="spacingAndGlyphs">PDB entry 7C53</text></g>
<g><defs><linearGradient id="yg" gradientUnits="userSpaceOnUse" x1="210" y1="0" x2="340" y2="0"><stop offset="0" stop-color="#f7e58a"/><stop offset="0.35" stop-color="#f2c23a"/><stop offset="1" stop-color="#eda324"/></linearGradient><linearGradient id="wf1" gradientUnits="userSpaceOnUse" x1="204" y1="0" x2="234" y2="0"><stop offset="0" stop-color="#fff" stop-opacity="0.5"/><stop offset="1" stop-color="#fff" stop-opacity="0"/></linearGradient><linearGradient id="wf2" gradientUnits="userSpaceOnUse" x1="204" y1="0" x2="230" y2="0"><stop offset="0" stop-color="#fff" stop-opacity="0.45"/><stop offset="1" stop-color="#fff" stop-opacity="0"/></linearGradient><clipPath id="ic1"><rect x="204" y="327" width="136" height="66"/></clipPath><clipPath id="ic2"><rect x="204" y="401" width="137" height="66"/></clipPath></defs>
<text x="183.6" y="328.6" font-size="12.5" font-weight="700">i</text>
<text x="231" y="325.62" font-size="6.2" font-weight="700" fill="#111" stroke="#111" stroke-width="0.15" textLength="72.7" lengthAdjust="spacingAndGlyphs">MjHKU4r-CoV-1 HR1/EK1</text>
<text x="233.6" y="399.32" font-size="6.2" font-weight="700" fill="#111" stroke="#111" stroke-width="0.15" textLength="73.7" lengthAdjust="spacingAndGlyphs">MjHKU4r-CoV-1 HR1/HR2</text>
<text x="191.8" y="344.29" font-size="6.4" font-weight="700" fill="#3fbf3f" stroke="#3fbf3f" stroke-width="0.15" textLength="12.7" lengthAdjust="spacingAndGlyphs">HR1</text>
<text x="191.8" y="372.29" font-size="6.4" font-weight="700" fill="#f070d8" stroke="#f070d8" stroke-width="0.15" textLength="12.7" lengthAdjust="spacingAndGlyphs">EK1</text>
<text x="193.6" y="420.09" font-size="6.4" font-weight="700" fill="#3fbf3f" stroke="#3fbf3f" stroke-width="0.15" textLength="12.2" lengthAdjust="spacingAndGlyphs">HR1</text>
<text x="193.6" y="450.59" font-size="6.4" font-weight="700" fill="#c8903a" stroke="#c8903a" stroke-width="0.15" textLength="12.2" lengthAdjust="spacingAndGlyphs">HR2</text>
<g clip-path="url(#ic1)">
<path d="M205.5 343L205.72 343.28L206.02 343.66L206.36 344.12L206.75 344.62L207.17 345.14L207.61 345.64L208.06 346.11L208.5 346.5L208.98 346.84L209.52 347.17L210.1 347.48L210.69 347.77L211.25 348.03L211.76 348.26L212.18 348.45L212.5 348.6" stroke="#8fd48f" stroke-width="4.6" fill="none" stroke-linecap="round" opacity="0.45"/>
<path d="M220.8 331L220.91 331.55L221.04 332.29L221.19 333.17L221.37 334.14L221.58 335.16L221.84 336.17L222.14 337.13L222.5 338L222.92 338.8L223.39 339.59L223.9 340.37L224.46 341.12L225.06 341.85L225.68 342.55L226.33 343.2L227 343.8L227.74 344.36L228.6 344.9L229.51 345.4L230.43 345.86L231.32 346.28L232.13 346.65L232.8 346.95L233.3 347.2" stroke="#8fd48f" stroke-width="5" fill="none" stroke-linecap="round" opacity="0.6"/>
<path d="M245.7 329.5L245.86 330.16L246.06 331.04L246.29 332.1L246.56 333.26L246.86 334.49L247.2 335.72L247.58 336.91L248 338L248.5 339.06L249.12 340.18L249.79 341.32L250.49 342.43L251.18 343.48L251.8 344.41L252.32 345.2L252.7 345.8" stroke="#8fd48f" stroke-width="4.6" fill="none" stroke-linecap="round" opacity="0.4"/>
<path d="M270.7 329L270.89 329.62L271.11 330.45L271.36 331.44L271.67 332.54L272.03 333.69L272.45 334.85L272.93 335.97L273.5 337L274.21 338L275.1 339.07L276.09 340.14L277.12 341.2L278.14 342.19L279.06 343.08L279.84 343.83L280.4 344.4" stroke="#8fd48f" stroke-width="5" fill="none" stroke-linecap="round" opacity="0.5"/>
<path d="M295.6 330.5L295.81 331.17L296.06 332.07L296.36 333.14L296.71 334.32L297.09 335.56L297.52 336.8L297.99 337.96L298.5 339L299.1 339.98L299.82 340.98L300.61 341.97L301.43 342.93L302.23 343.82L302.95 344.62L303.56 345.29L304 345.8" stroke="#8fd48f" stroke-width="4.6" fill="none" stroke-linecap="round" opacity="0.4"/>
<path d="M320.6 332.5L320.75 333.15L320.92 334.02L321.11 335.04L321.34 336.19L321.64 337.4L322 338.64L322.45 339.86L323 341L323.73 342.16L324.65 343.43L325.7 344.73L326.8 346.03L327.88 347.26L328.87 348.37L329.7 349.3L330.3 350" stroke="#8fd48f" stroke-width="5" fill="none" stroke-linecap="round" opacity="0.6"/>
<path d="M254 380.4L254.26 380.84L254.6 381.42L254.99 382.12L255.44 382.89L255.93 383.7L256.44 384.51L256.97 385.29L257.5 386L258.08 386.69L258.74 387.41L259.45 388.14L260.17 388.85L260.86 389.52L261.49 390.12L262.01 390.62L262.4 391" stroke="#8fd48f" stroke-width="4.6" fill="none" stroke-linecap="round" opacity="0.4"/>
<path d="M276.2 380L276.52 380.51L276.94 381.19L277.44 382.01L278.01 382.91L278.61 383.85L279.24 384.79L279.88 385.69L280.5 386.5L281.17 387.27L281.92 388.07L282.72 388.88L283.52 389.66L284.29 390.38L284.98 391.04L285.57 391.58L286 392" stroke="#8fd48f" stroke-width="4.6" fill="none" stroke-linecap="round" opacity="0.4"/>
<path d="M297 392L297.25 391.43L297.57 390.65L297.94 389.72L298.36 388.7L298.84 387.65L299.35 386.65L299.91 385.74L300.5 385L301.15 384.37L301.87 383.78L302.64 383.24L303.46 382.76L304.29 382.36L305.11 382.06L305.93 381.87L306.7 381.8L307.46 381.87L308.22 382.06L308.99 382.36L309.74 382.76L310.48 383.24L311.19 383.78L311.87 384.37L312.5 385L313.11 385.74L313.7 386.65L314.27 387.65L314.81 388.7L315.31 389.72L315.74 390.65L316.11 391.43L316.4 392" stroke="#4fc84f" stroke-width="4.6" fill="none" stroke-linecap="round" opacity="0.9"/>
<path d="M322 392L322.3 391.43L322.68 390.65L323.13 389.72L323.64 388.7L324.2 387.65L324.79 386.65L325.39 385.74L326 385L326.63 384.37L327.3 383.78L328.01 383.24L328.74 382.76L329.48 382.36L330.23 382.06L330.97 381.87L331.7 381.8L332.43 381.87L333.17 382.08L333.92 382.41L334.67 382.83L335.42 383.31L336.14 383.85L336.84 384.42L337.5 385L338.16 385.66L338.82 386.44L339.48 387.31L340.11 388.2L340.7 389.07L341.22 389.86L341.66 390.52L342 391" stroke="#4fc84f" stroke-width="4.6" fill="none" stroke-linecap="round" opacity="0.85"/>
<path d="M216.6 358.9C222.55 358.9 222.55 376.6 228.5 376.6M241.6 358.5C247.55 358.5 247.55 376.4 253.5 376.4M265.2 358.3C271.85 358.3 271.85 376 278.5 376M291.5 353.6C297.5 353.6 297.5 367.4 303.5 367.4" stroke="#b4469c" stroke-width="5.22" fill="none" stroke-linecap="round" stroke-linejoin="round"/>
<path d="M216.6 358.9C222.55 358.9 222.55 376.6 228.5 376.6M241.6 358.5C247.55 358.5 247.55 376.4 253.5 376.4M265.2 358.3C271.85 358.3 271.85 376 278.5 376M291.5 353.6C297.5 353.6 297.5 367.4 303.5 367.4" stroke="#cc5cb6" stroke-width="3.6" fill="none" stroke-linecap="round" stroke-linejoin="round" transform="translate(0 -0.3)"/>
<path d="M203 378C209.8 378 209.8 358.9 216.6 358.9M228.5 376.6C235.05 376.6 235.05 358.5 241.6 358.5M253.5 376.4C259.35 376.4 259.35 358.3 265.2 358.3M278.5 376C285 376 285 353.6 291.5 353.6M303.5 367.4L303.98 367.08L304.65 366.64L305.44 366.11L306.3 365.56L307.17 365.04L308 364.6L308.78 364.23L309.56 363.89L310.34 363.58L311.17 363.29L312.05 363.03L313 362.8L314.04 362.59L315.15 362.41L316.31 362.25L317.52 362.13L318.75 362.04L320 362L321.26 362.03L322.56 362.13L323.88 362.27L325.22 362.42L326.6 362.54L328 362.6L329.55 362.59L331.26 362.53L333 362.44L334.63 362.34L336.01 362.26L337 362.2" stroke="#b4469c" stroke-width="5.8" fill="none" stroke-linecap="round" stroke-linejoin="round"/>
<path d="M203 378C209.8 378 209.8 358.9 216.6 358.9M228.5 376.6C235.05 376.6 235.05 358.5 241.6 358.5M253.5 376.4C259.35 376.4 259.35 358.3 265.2 358.3M278.5 376C285 376 285 353.6 291.5 353.6M303.5 367.4L303.98 367.08L304.65 366.64L305.44 366.11L306.3 365.56L307.17 365.04L308 364.6L308.78 364.23L309.56 363.89L310.34 363.58L311.17 363.29L312.05 363.03L313 362.8L314.04 362.59L315.15 362.41L316.31 362.25L317.52 362.13L318.75 362.04L320 362L321.26 362.03L322.56 362.13L323.88 362.27L325.22 362.42L326.6 362.54L328 362.6L329.55 362.59L331.26 362.53L333 362.44L334.63 362.34L336.01 362.26L337 362.2" stroke="#e673cf" stroke-width="4.29" fill="none" stroke-linecap="round" stroke-linejoin="round" transform="translate(-0.15 -0.4)"/>
<path d="M203 378C209.8 378 209.8 358.9 216.6 358.9M228.5 376.6C235.05 376.6 235.05 358.5 241.6 358.5M253.5 376.4C259.35 376.4 259.35 358.3 265.2 358.3M278.5 376C285 376 285 353.6 291.5 353.6M303.5 367.4L303.98 367.08L304.65 366.64L305.44 366.11L306.3 365.56L307.17 365.04L308 364.6L308.78 364.23L309.56 363.89L310.34 363.58L311.17 363.29L312.05 363.03L313 362.8L314.04 362.59L315.15 362.41L316.31 362.25L317.52 362.13L318.75 362.04L320 362L321.26 362.03L322.56 362.13L323.88 362.27L325.22 362.42L326.6 362.54L328 362.6L329.55 362.59L331.26 362.53L333 362.44L334.63 362.34L336.01 362.26L337 362.2" stroke="#f9bdec" stroke-width="1.16" fill="none" stroke-linecap="round" stroke-linejoin="round" transform="translate(-0.5 -1)" opacity="0.75"/>
<rect x="204" y="352" width="30" height="40" fill="url(#wf1)"/>
<path d="M247.8 358L246.9 351.5L246.2 348.3M246.9 351.5L251.6 353.4" stroke="#d660c0" stroke-width="1.1" fill="none" stroke-linecap="round"/>
<path d="M265.4 356L264.6 349L262.6 346L263.8 342.2L259.2 338.9" stroke="#d660c0" stroke-width="1.1" fill="none" stroke-linecap="round" stroke-linejoin="round"/>
<path d="M293.4 352.5L291.5 347L287.5 342L283 337.5L275.2 332.8M287.5 342L290.5 341L286.4 336.5L283 337.5" stroke="#d660c0" stroke-width="1.1" fill="none" stroke-linecap="round" stroke-linejoin="round"/>
<path d="M246.2 348.1h.01M252.0 353.5h.01M274.6 332.4h.01" stroke="#ee2a2a" stroke-width="1.7" stroke-linecap="round" fill="none"/>
<path d="M258.9 338.7h.01" stroke="#2a3ae0" stroke-width="1.7" stroke-linecap="round" fill="none"/>
<path d="M245 346.3L257.3 338.7M260.5 337.6L273 331.6" stroke="#111" stroke-width="0.8" fill="none" stroke-dasharray="1.6 1"/>
<text x="267.6" y="339.9" font-size="2.9" fill="#222">3.3Å</text>
<text x="252.6" y="348.4" font-size="2.9" fill="#222">3.1Å</text>
</g>
<text x="227.4" y="356.45" font-size="6" font-weight="700" fill="#f070d8" stroke="#f070d8" stroke-width="0.15" textLength="11.6" lengthAdjust="spacingAndGlyphs">E21</text>
<text x="272.8" y="355.05" font-size="6" font-weight="700" fill="#f070d8" stroke="#f070d8" stroke-width="0.15" textLength="11.6" lengthAdjust="spacingAndGlyphs">K18</text>
<text x="304.4" y="360.45" font-size="6" font-weight="700" fill="#f070d8" stroke="#f070d8" stroke-width="0.15" textLength="11.6" lengthAdjust="spacingAndGlyphs">Y14</text>
<g clip-path="url(#ic2)">
<path d="M211 404.5L211.17 405.12L211.37 405.96L211.6 406.96L211.88 408.07L212.2 409.23L212.58 410.39L213.01 411.5L213.5 412.5L214.12 413.46L214.87 414.46L215.72 415.47L216.61 416.45L217.47 417.37L218.26 418.19L218.92 418.88L219.4 419.4" stroke="#8fd48f" stroke-width="5" fill="none" stroke-linecap="round" opacity="0.5"/>
<path d="M233.3 404L233.51 404.74L233.76 405.73L234.06 406.9L234.41 408.21L234.82 409.58L235.29 410.96L235.85 412.29L236.5 413.5L237.32 414.69L238.33 415.94L239.47 417.2L240.65 418.44L241.81 419.61L242.87 420.66L243.76 421.53L244.4 422.2" stroke="#8fd48f" stroke-width="5" fill="none" stroke-linecap="round" opacity="0.55"/>
<path d="M256.8 404L256.99 404.55L257.21 405.29L257.48 406.17L257.79 407.15L258.15 408.17L258.55 409.18L259 410.14L259.5 411L260.11 411.81L260.85 412.63L261.67 413.45L262.52 414.24L263.35 414.97L264.11 415.63L264.74 416.18L265.2 416.6" stroke="#8fd48f" stroke-width="4.6" fill="none" stroke-linecap="round" opacity="0.45"/>
<path d="M280.4 403.5L280.45 403.89L280.52 404.41L280.59 405.03L280.67 405.72L280.78 406.44L280.9 407.17L281.04 407.86L281.2 408.5L281.41 409.12L281.66 409.77L281.95 410.42L282.25 411.06L282.54 411.66L282.81 412.2L283.04 412.66L283.2 413" stroke="#8fd48f" stroke-width="4.4" fill="none" stroke-linecap="round" opacity="0.3"/>
<path d="M326.1 408L326.15 408.79L326.21 409.87L326.27 411.15L326.34 412.56L326.45 414.03L326.59 415.48L326.77 416.83L327 418L327.32 419.07L327.73 420.12L328.21 421.15L328.71 422.12L329.2 423.02L329.65 423.81L330.03 424.48L330.3 425" stroke="#8fd48f" stroke-width="4.8" fill="none" stroke-linecap="round" opacity="0.5"/>
<path d="M265.2 452.7L265.33 453.15L265.48 453.75L265.66 454.47L265.87 455.27L266.11 456.11L266.37 456.95L266.67 457.76L267 458.5L267.4 459.22L267.88 459.98L268.41 460.76L268.96 461.51L269.5 462.22L269.99 462.86L270.4 463.39L270.7 463.8" stroke="#8fd48f" stroke-width="4.6" fill="none" stroke-linecap="round" opacity="0.4"/>
<path d="M283.2 467L283.31 466.15L283.43 464.99L283.58 463.6L283.76 462.07L283.96 460.51L284.2 459L284.48 457.63L284.8 456.5L285.17 455.53L285.6 454.58L286.08 453.7L286.58 452.92L287.11 452.26L287.64 451.74L288.18 451.42L288.7 451.3L289.23 451.42L289.79 451.74L290.36 452.26L290.93 452.92L291.49 453.7L292.04 454.58L292.54 455.53L293 456.5L293.42 457.63L293.83 459L294.21 460.51L294.57 462.07L294.89 463.6L295.17 464.99L295.41 466.15L295.6 467" stroke="#8fdc8f" stroke-width="4.4" fill="none" stroke-linecap="round" opacity="0.6"/>
<path d="M301.2 467L301.36 466.07L301.56 464.8L301.79 463.27L302.06 461.6L302.37 459.89L302.71 458.23L303.09 456.73L303.5 455.5L303.96 454.44L304.49 453.42L305.05 452.48L305.65 451.63L306.27 450.92L306.89 450.37L307.5 450.02L308.1 449.9L308.7 450.02L309.33 450.37L309.97 450.92L310.6 451.63L311.22 452.48L311.8 453.42L312.33 454.44L312.8 455.5L313.21 456.73L313.58 458.23L313.9 459.89L314.19 461.6L314.45 463.27L314.66 464.8L314.85 466.07L315 467" stroke="#74d474" stroke-width="4.6" fill="none" stroke-linecap="round" opacity="0.8"/>
<path d="M322 467L322.22 466.07L322.49 464.8L322.8 463.27L323.17 461.6L323.57 459.89L324.02 458.23L324.49 456.73L325 455.5L325.55 454.44L326.16 453.42L326.82 452.48L327.51 451.63L328.21 450.92L328.92 450.37L329.62 450.02L330.3 449.9L330.98 450.02L331.68 450.37L332.39 450.92L333.09 451.63L333.78 452.48L334.44 453.42L335.05 454.44L335.6 455.5L336.11 456.73L336.58 458.23L337.03 459.89L337.43 461.6L337.8 463.27L338.11 464.8L338.38 466.07L338.6 467" stroke="#4fc84f" stroke-width="4.8" fill="none" stroke-linecap="round" opacity="0.95"/>
<path d="M226.3 437.6C231.85 437.6 231.85 452.8 237.4 452.8M249.3 434.9C254.45 434.9 254.45 450.1 259.6 450.1M270.7 429.3C276.25 429.3 276.25 444.5 281.8 444.5M294.3 426.6C300.5 426.6 300.5 438.9 306.7 438.9" stroke="#c07f18" stroke-width="4.5" fill="none" stroke-linecap="round" stroke-linejoin="round"/>
<path d="M226.3 437.6C231.85 437.6 231.85 452.8 237.4 452.8M249.3 434.9C254.45 434.9 254.45 450.1 259.6 450.1M270.7 429.3C276.25 429.3 276.25 444.5 281.8 444.5M294.3 426.6C300.5 426.6 300.5 438.9 306.7 438.9" stroke="#d89a24" stroke-width="3.1" fill="none" stroke-linecap="round" stroke-linejoin="round" transform="translate(0 -0.3)"/>
<path d="M212.5 447.2C219.4 447.2 219.4 437.6 226.3 437.6M237.4 452.8C243.35 452.8 243.35 434.9 249.3 434.9M259.6 450.1C265.15 450.1 265.15 429.3 270.7 429.3M281.8 444.5C288.05 444.5 288.05 426.6 294.3 426.6M306.7 438.9L307.27 438.41L308.06 437.73L308.99 436.92L310 436.06L311.03 435.23L312 434.5L312.93 433.81L313.88 433.08L314.84 432.37L315.82 431.76L316.8 431.28L317.8 431L318.8 431.01L319.81 431.27L320.83 431.67L321.86 432.1L322.92 432.45L324 432.6L325.05 432.51L326.05 432.27L327.07 431.95L328.19 431.61L329.48 431.34L331 431.2L332.97 431.22L335.37 431.33L337.94 431.51L340.41 431.71L342.52 431.89L344 432" stroke="#c07f18" stroke-width="5" fill="none" stroke-linecap="round" stroke-linejoin="round"/>
<path d="M212.5 447.2C219.4 447.2 219.4 437.6 226.3 437.6M237.4 452.8C243.35 452.8 243.35 434.9 249.3 434.9M259.6 450.1C265.15 450.1 265.15 429.3 270.7 429.3M281.8 444.5C288.05 444.5 288.05 426.6 294.3 426.6M306.7 438.9L307.27 438.41L308.06 437.73L308.99 436.92L310 436.06L311.03 435.23L312 434.5L312.93 433.81L313.88 433.08L314.84 432.37L315.82 431.76L316.8 431.28L317.8 431L318.8 431.01L319.81 431.27L320.83 431.67L321.86 432.1L322.92 432.45L324 432.6L325.05 432.51L326.05 432.27L327.07 431.95L328.19 431.61L329.48 431.34L331 431.2L332.97 431.22L335.37 431.33L337.94 431.51L340.41 431.71L342.52 431.89L344 432" stroke="url(#yg)" stroke-width="3.7" fill="none" stroke-linecap="round" stroke-linejoin="round" transform="translate(-0.15 -0.4)"/>
<path d="M212.5 447.2C219.4 447.2 219.4 437.6 226.3 437.6M237.4 452.8C243.35 452.8 243.35 434.9 249.3 434.9M259.6 450.1C265.15 450.1 265.15 429.3 270.7 429.3M281.8 444.5C288.05 444.5 288.05 426.6 294.3 426.6M306.7 438.9L307.27 438.41L308.06 437.73L308.99 436.92L310 436.06L311.03 435.23L312 434.5L312.93 433.81L313.88 433.08L314.84 432.37L315.82 431.76L316.8 431.28L317.8 431L318.8 431.01L319.81 431.27L320.83 431.67L321.86 432.1L322.92 432.45L324 432.6L325.05 432.51L326.05 432.27L327.07 431.95L328.19 431.61L329.48 431.34L331 431.2L332.97 431.22L335.37 431.33L337.94 431.51L340.41 431.71L342.52 431.89L344 432" stroke="#fbe9a8" stroke-width="1" fill="none" stroke-linecap="round" stroke-linejoin="round" transform="translate(-0.5 -1)" opacity="0.75"/>
<rect x="207" y="425" width="23" height="36" fill="url(#wf2)"/>
<path d="M249.4 436.5L250 431L247.8 429.4M250 431L254.1 428.5" stroke="#e0a030" stroke-width="1.1" fill="none" stroke-linecap="round"/>
<path d="M271.6 429L273 424.5L272.2 420.8M273 424.5L276.5 422" stroke="#e0a030" stroke-width="1.1" fill="none" stroke-linecap="round"/>
<path d="M296.7 427.5L299.5 424L301.5 421.5M299.5 424L299 426" stroke="#e0a030" stroke-width="1.1" fill="none" stroke-linecap="round"/>
<path d="M247.6 429.2h.01M254.3 428.4h.01M301.6 421.3h.01M299.2 425.6h.01" stroke="#ee2a2a" stroke-width="1.6" stroke-linecap="round" fill="none"/>
</g>
<text x="222.6" y="433.15" font-size="6" font-weight="700" fill="#c8842e" stroke="#c8842e" stroke-width="0.15" textLength="18.9" lengthAdjust="spacingAndGlyphs">E1278</text>
<text x="269" y="418.95" font-size="6" font-weight="700" fill="#c8842e" stroke="#c8842e" stroke-width="0.15" textLength="15.1" lengthAdjust="spacingAndGlyphs">I1275</text>
<text x="295.8" y="415.85" font-size="6" font-weight="700" fill="#c8842e" stroke="#c8842e" stroke-width="0.15" textLength="18.3" lengthAdjust="spacingAndGlyphs">D1271</text></g>
<g><text x="363.8" y="327" font-size="12.5" font-weight="700">j</text>
<path d="M425.5 342.6L430.42 342.6M423.36 350.6L427.62 353.06M417.5 356.46L419.96 360.72M409.5 358.6L409.5 363.52M401.5 356.46L399.04 360.72M395.64 350.6L391.38 353.06M393.5 342.6L388.58 342.6M395.64 334.6L391.38 332.14M401.5 328.74L399.04 324.48M409.5 326.6L409.5 321.68M417.5 328.74L419.96 324.48M423.36 334.6L427.62 332.14" stroke="#3d5cc0" stroke-width="1.3" fill="none"/>
<path d="M428.62 342.6L433.7 344.9L434.6 342.6L433.7 340.3ZM426.05 352.16L429.31 356.69L431.24 355.15L431.61 352.71ZM419.06 359.15L419.61 364.71L422.05 364.34L423.59 362.41ZM409.5 361.72L407.2 366.8L409.5 367.7L411.8 366.8ZM399.94 359.15L395.41 362.41L396.95 364.34L399.39 364.71ZM392.95 352.16L387.39 352.71L387.76 355.15L389.69 356.69ZM390.38 342.6L385.3 340.3L384.4 342.6L385.3 344.9ZM392.95 333.04L389.69 328.51L387.76 330.05L387.39 332.49ZM399.94 326.05L399.39 320.49L396.95 320.86L395.41 322.79ZM409.5 323.48L411.8 318.4L409.5 317.5L407.2 318.4ZM419.06 326.05L423.59 322.79L422.05 320.86L419.61 320.49ZM426.05 333.04L431.61 332.49L431.24 330.05L429.31 328.51Z" stroke="#3d5cc0" stroke-width="1" fill="#3d5cc0" stroke-linejoin="round"/>
<circle cx="409.5" cy="342.6" r="16" fill="#edf2fb" stroke="#6f86d0" stroke-width="1.1"/>
<circle cx="409.5" cy="342.6" r="16.3" fill="none" stroke="#a03a44" stroke-width="1.5" stroke-dasharray="1.5 2.7"/>
<path d="M413.14 344.96a4 4 0 1 1 1.2 6q3.6 2.4 5.6 -0.8M407.28 350.4a4 4 0 1 1 1.2 6q3.6 2.4 5.6 -0.8M399.63 348.04a4 4 0 1 1 1.2 6q3.6 2.4 5.6 -0.8M397.86 340.24a4 4 0 1 1 1.2 6q3.6 2.4 5.6 -0.8M403.72 334.8a4 4 0 1 1 1.2 6q3.6 2.4 5.6 -0.8M411.36 337.16a4 4 0 1 1 1.2 6q3.6 2.4 5.6 -0.8M406.94 342.6a2.56 2.56 0 1 0 5.12 0" stroke="#3d5cc0" stroke-width="0.8" fill="none" stroke-linecap="round" stroke-dasharray="2.2 0.5"/>
<defs><linearGradient id="zg" x1="0" y1="0" x2="1" y2="0"><stop offset="0" stop-color="#e9edf2"/><stop offset="1" stop-color="#d3d8e0"/></linearGradient></defs>
<path d="M438.4 338.1L445 317.4V365.3L438.4 347.6Z" stroke="none" stroke-width="0" fill="url(#zg)"/>
<rect x="428.6" y="338.1" width="9.7" height="9.5" fill="none" stroke="#8a8a8a" stroke-width="0.8"/>
<rect x="445.1" y="317.4" width="55" height="47.9" fill="#fff" stroke="#adadad" stroke-width="1"/>
<path d="M450.7 346.4L451.13 345.65L451.94 344.94L452.96 344.3L454 343.8L455 343.47L456.05 343.28L457.25 343.14L458.7 343L460.55 342.71L462.72 342.36L464.9 342.18L466.8 342.4L468.29 343.25L469.53 344.54L470.71 345.91L472 347L473.44 347.7L474.94 348.2L476.47 348.6L478 349L479.64 349.32L481.36 349.54L482.95 349.84L484.2 350.4L485.02 351.33L485.55 352.51L485.85 353.78L486 355L486.05 356.16L485.96 357.32L485.63 358.45L485 359.5L483.94 360.56L482.53 361.63L480.98 362.51L479.5 363L478.05 363.02L476.54 362.69L475.14 362.12L474 361.4L473.23 360.45L472.73 359.26L472.31 358.04L471.8 357L471.15 356.11L470.45 355.27L469.73 354.66L469 354.4L468.3 354.72L467.61 355.49L466.86 356.31L466 356.8L464.99 356.89L463.88 356.78L462.7 356.47L461.5 356L460.26 355.27L458.97 354.31L457.69 353.3L456.5 352.4L455.38 351.7L454.3 351.09L453.32 350.48L452.5 349.8L451.78 348.99L451.14 348.1L450.74 347.21Z" stroke="#2f8a48" stroke-width="0.6" fill="#4db864"/>
<path d="M479.5 336L480.07 335.41L480.94 334.93L481.96 334.53L483 334.2L484.07 333.89L485.22 333.61L486.39 333.48L487.5 333.6L488.66 334.05L489.88 334.76L490.9 335.59L491.5 336.4L491.55 337.2L491.19 338.05L490.61 338.88L490 339.6L489.39 340.24L488.69 340.81L487.89 341.28L487 341.6L485.93 341.75L484.72 341.75L483.52 341.63L482.5 341.4L481.69 341.06L481 340.6L480.44 340.04L480 339.4L479.64 338.61L479.38 337.69L479.3 336.77Z" stroke="#6677b8" stroke-width="0.5" fill="#8b9bd6"/>
<path d="M448 341.5L448.21 340.48L448.69 339.41L449.32 338.39L450 337.5L450.68 336.77L451.41 336.14L452.29 335.62L453.4 335.2L454.82 334.92L456.47 334.77L458.25 334.66L460 334.5L461.73 334.29L463.51 334.07L465.28 333.82L467 333.5L468.75 333.12L470.53 332.68L472.17 332.18L473.5 331.6L474.38 330.85L474.94 329.98L475.4 329.13L476 328.5L476.79 328.09L477.66 327.82L478.57 327.71L479.5 327.8L480.48 328.09L481.51 328.56L482.53 329.2L483.5 330L484.47 330.98L485.44 332.15L486.3 333.44L486.9 334.8L487.13 336.23L487.07 337.76L486.96 339.36L487 341L487.35 342.78L487.86 344.67L488.29 346.48L488.4 348L488.18 349.18L487.74 350.13L487.03 350.89L486 351.5L484.47 352L482.52 352.35L480.51 352.5L478.8 352.4L477.48 351.96L476.36 351.24L475.38 350.37L474.5 349.5L473.83 348.59L473.36 347.58L472.83 346.61L472 345.8L470.75 345.2L469.22 344.73L467.58 344.35L466 344L464.46 343.62L462.91 343.26L461.39 343.02L460 343L458.73 343.29L457.56 343.81L456.48 344.43L455.5 345L454.64 345.59L453.9 346.24L453.21 346.77L452.5 347L451.74 346.86L450.96 346.46L450.23 345.87L449.6 345.2L449.02 344.42L448.49 343.49L448.12 342.49Z" stroke="#3aa3aa" stroke-width="0.6" fill="#5fd2d2"/>
<path d="M450.6 337.4l2.6-.9l1.6 1.2l-2 1.4z" stroke="none" stroke-width="0" fill="#8b9bd6"/>
<path d="M458.8 354.0h.01M459.6 347.2h.01M478.1 355.0h.01M482.0 352.4h.01M476.4 362.3h.01M473.2 348.6h.01M463.0 354.9h.01M480.8 354.6h.01M465.2 345.3h.01M461.5 343.7h.01M483.2 350.3h.01M473.8 355.1h.01M458.8 348.6h.01M473.2 352.3h.01M476.2 358.2h.01M471.9 349.0h.01M463.7 355.1h.01M461.5 346.9h.01M461.9 349.3h.01M462.5 356.3h.01M458.3 344.7h.01M479.9 360.4h.01M479.9 356.1h.01M454.8 348.4h.01M465.5 351.0h.01M474.5 353.4h.01M458.4 343.5h.01M483.4 357.3h.01M456.4 348.6h.01M472.7 349.5h.01" stroke="#6fd584" stroke-width="1.9" stroke-linecap="round" fill="none"/>
<path d="M463.7 355.3h.01M480.9 352.5h.01M461.1 342.7h.01M476.6 361.3h.01M455.0 346.8h.01M468.8 350.5h.01M483.5 354.5h.01M460.5 343.4h.01M476.6 349.3h.01M457.3 351.0h.01M467.0 353.4h.01M484.8 353.2h.01M465.4 354.8h.01M475.1 349.8h.01M459.3 352.0h.01M463.5 348.9h.01M461.1 350.3h.01M456.9 351.6h.01M480.8 351.6h.01M482.7 351.9h.01M469.6 346.2h.01M456.8 348.1h.01M479.8 349.6h.01M462.8 351.2h.01M477.6 360.4h.01M460.7 349.5h.01M471.8 348.3h.01M483.3 354.7h.01M474.5 353.5h.01" stroke="#2e8f47" stroke-width="1.4" stroke-linecap="round" fill="none"/>
<path d="M485.7 348.0h.01M464.8 339.3h.01M450.6 340.1h.01M471.6 336.4h.01M452.2 341.4h.01M462.7 342.7h.01M480.6 343.2h.01M450.0 338.0h.01M484.7 347.6h.01M480.3 344.4h.01M451.3 342.3h.01M484.0 331.7h.01M487.0 342.1h.01M477.0 329.8h.01M457.5 343.0h.01M462.4 337.3h.01M450.5 340.0h.01M476.0 346.7h.01M467.3 343.7h.01M485.5 340.4h.01M471.6 333.9h.01M454.2 336.4h.01M481.5 341.5h.01M477.8 352.0h.01M454.9 345.3h.01M460.2 338.0h.01M459.3 336.3h.01M465.3 339.6h.01M486.5 336.7h.01M474.5 348.0h.01M467.7 336.2h.01M474.1 343.4h.01M474.2 338.9h.01M478.1 336.3h.01M468.2 333.4h.01M461.0 337.5h.01" stroke="#93ecea" stroke-width="1.9" stroke-linecap="round" fill="none"/>
<path d="M458.3 340.7h.01M487.9 349.2h.01M460.3 335.2h.01M455.0 335.5h.01M477.1 336.9h.01M479.9 336.9h.01M465.1 336.7h.01M486.3 336.7h.01M458.0 339.1h.01M477.8 341.7h.01M479.5 328.2h.01M475.3 348.7h.01M479.2 340.3h.01M478.5 351.3h.01M478.6 337.2h.01M461.7 337.9h.01M478.4 331.2h.01M475.3 340.4h.01M451.0 346.5h.01M455.4 342.2h.01M467.1 337.0h.01M467.1 342.6h.01M483.0 337.4h.01M482.9 333.3h.01M483.1 350.4h.01M477.6 329.2h.01M471.4 344.6h.01M455.8 342.2h.01M479.4 346.7h.01M487.4 344.5h.01M477.2 344.6h.01M472.1 341.4h.01M478.7 341.1h.01M458.2 337.0h.01M479.3 336.2h.01M479.7 345.9h.01" stroke="#37a0a8" stroke-width="1.4" stroke-linecap="round" fill="none"/>
<path d="M486.2 328L494.9 319.8M488.9 325.4L491.5 327.4L495.6 328L498.9 326M491.5 327.4L492.9 323.8" stroke="#5fcf4a" stroke-width="0.6" fill="none"/>
<path d="M486.6 327.8h.01M488.9 325.4h.01M491.5 322.7h.01M494.9 319.8h.01M491.5 327.4h.01M495.6 328.0h.01M498.9 326.0h.01M492.9 323.8h.01" stroke="#5fcf4a" stroke-width="1.6" stroke-linecap="round" fill="none"/>
<path d="M483.6 329.4l1.8-1.3" stroke="#2a55e0" stroke-width="1.2" fill="none"/>
<text x="462.5" y="374.26" font-size="6.6" font-weight="700" fill="#111" stroke="#111" stroke-width="0.15" textLength="22.5" lengthAdjust="spacingAndGlyphs">Glycan</text>
<path d="M465.5 398.8L469.64 398.8M463.49 406.3L467.08 408.37M458 411.79L460.07 415.38M443 411.79L440.93 415.38M437.51 406.3L433.92 408.37M435.5 398.8L431.36 398.8M437.51 391.3L433.92 389.23M443 385.81L440.93 382.22M450.5 383.8L450.5 379.66M458 385.81L460.07 382.22M463.49 391.3L467.08 389.23" stroke="#3d5cc0" stroke-width="1.3" fill="none"/>
<path d="M468.12 398.8L472.4 401.1L473.3 398.8L472.4 396.5ZM465.76 407.61L468.32 411.74L470.25 410.2L470.62 407.76ZM459.31 414.06L459.46 418.92L461.9 418.55L463.44 416.62ZM441.69 414.06L437.56 416.62L439.1 418.55L441.54 418.92ZM435.24 407.61L430.38 407.76L430.75 410.2L432.68 411.74ZM432.88 398.8L428.6 396.5L427.7 398.8L428.6 401.1ZM435.24 389.99L432.68 385.86L430.75 387.4L430.38 389.84ZM441.69 383.54L441.54 378.68L439.1 379.05L437.56 380.98ZM450.5 381.18L452.8 376.9L450.5 376L448.2 376.9ZM459.31 383.54L463.44 380.98L461.9 379.05L459.46 378.68ZM465.76 389.99L470.62 389.84L470.25 387.4L468.32 385.86Z" stroke="#3d5cc0" stroke-width="1" fill="#3d5cc0" stroke-linejoin="round"/>
<circle cx="450.5" cy="398.8" r="15" fill="#edf2fb" stroke="#6f86d0" stroke-width="1.1"/>
<circle cx="450.5" cy="398.8" r="15.3" fill="none" stroke="#a03a44" stroke-width="1.5" stroke-dasharray="1.5 2.7"/>
<path d="M453.92 401.02a3.75 3.75 0 1 1 1.12 5.62q3.38 2.25 5.25 -0.75M448.41 406.11a3.75 3.75 0 1 1 1.12 5.62q3.38 2.25 5.25 -0.75M441.25 403.9a3.75 3.75 0 1 1 1.12 5.62q3.38 2.25 5.25 -0.75M439.58 396.59a3.75 3.75 0 1 1 1.12 5.62q3.38 2.25 5.25 -0.75M445.08 391.49a3.75 3.75 0 1 1 1.12 5.62q3.38 2.25 5.25 -0.75M452.25 393.7a3.75 3.75 0 1 1 1.12 5.62q3.38 2.25 5.25 -0.75M448.1 398.8a2.4 2.4 0 1 0 4.8 0" stroke="#3d5cc0" stroke-width="0.8" fill="none" stroke-linecap="round" stroke-dasharray="2.2 0.5"/>
<rect x="448.1" y="413.6" width="4.8" height="10.8" fill="#9a55c8"/>
<rect x="448.1" y="424.2" width="4.8" height="4.3" fill="#e49732"/>
<rect x="448.1" y="425.6" width="4.8" height="0.9" fill="#f2d24a"/>
<rect x="448.1" y="428.3" width="4.8" height="6.8" fill="#43a843"/>
<path d="M450.5 435V448" stroke="#3d5cc0" stroke-width="2.8" fill="none" stroke-linecap="round"/>
<path d="M438.2 445.2Q440.5 441.4 446 441.6Q450.5 441.8 450.5 444Q450.5 441.8 455 441.6Q460.5 441.4 462.8 445.2" stroke="#3d5cc0" stroke-width="2.6" fill="none" stroke-linecap="round"/>
<path d="M448 418H443.5V437H448M441.6 427.6H443.5" stroke="#333" stroke-width="0.6" fill="none"/>
<path d="M435.7 439H431.9V445.2H435.7M430.2 442.1H431.9" stroke="#333" stroke-width="0.6" fill="none"/>
<text x="428.6" y="429.88" font-size="4.4" font-weight="700" fill="#222" stroke="#222" stroke-width="0.08" textLength="5.4" lengthAdjust="spacingAndGlyphs">S2</text>
<text x="422.8" y="443.38" font-size="4.4" font-weight="700" fill="#222" stroke="#222" stroke-width="0.08" textLength="5.2" lengthAdjust="spacingAndGlyphs">S1</text>
<path d="M453 428.6C455 430 452.8 431.6 454.6 433S453 435 454.4 436.4" stroke="#d42a2a" stroke-width="0.9" fill="none"/>
<path d="M454.4 436.4q1.6-.4 1.8 1t1.8 1t1.8 1t1.8 1t1.8 1t1.8 1t1.6 .8" stroke="#d9a050" stroke-width="0.8" fill="none"/>
<path d="M478.42 447.4L478.27 447.9L478.05 448.62L477.77 449.43L477.43 450.2L477.04 450.98L476.6 451.82L476.07 452.54L475.43 452.98L474.63 453.02L473.68 452.78L472.72 452.42L471.85 452.09L471.11 451.84L470.43 451.59L469.79 451.29L469.2 450.93L468.63 450.49L468.1 449.99L467.62 449.44L467.22 448.82L466.88 448.12L466.59 447.35L466.41 446.54L466.42 445.77L466.64 444.97L467.03 444.15L467.56 443.4L468.19 442.82L468.97 442.46L469.89 442.25L470.86 442.15L471.76 442.14L472.57 442.23L473.35 442.42L474.11 442.69L474.84 442.98L475.59 443.29L476.33 443.63L477.01 444.04L477.55 444.54L477.91 445.23L478.15 446.07L478.31 446.86L478.42 447.4Z" stroke="#2f6a3a" stroke-width="0.5" fill="#3a7f45"/>
<path d="M470.8 446.2h.01M474.4 448.9h.01M472.6 449.8h.01M473.8 444.7h.01" stroke="#2f6e3a" stroke-width="2.52" stroke-linecap="round" fill="none"/>
<text x="459.4" y="433.56" font-size="6.6" font-weight="700" fill="#cc2e2e" stroke="#cc2e2e" stroke-width="0.15" textLength="11.4" lengthAdjust="spacingAndGlyphs">EK1</text>
<text x="482.8" y="443.46" font-size="6.6" font-weight="700" fill="#3a7f3a" stroke="#3a7f3a" stroke-width="0.15" textLength="16.9" lengthAdjust="spacingAndGlyphs">GRFT</text>
<path d="M439.5 446L437 449.5L434 451.5M437 449.5L437.8 453.5M436 447.5L433 448M461.8 446L463.6 449.6L463 454M463.6 449.6L466 451" stroke="#7ad65e" stroke-width="0.6" fill="none" stroke-dasharray="1.1 0.7"/>
<path d="M437.0 449.6h.01M434.0 451.6h.01M437.8 453.6h.01M433.0 448.0h.01M435.5 454.5h.01M463.6 449.6h.01M463.0 454.0h.01M466.0 451.0h.01M464.8 455.4h.01" stroke="#7ad65e" stroke-width="1.2" stroke-linecap="round" fill="none"/>
<rect x="392.3" y="457.1" width="115.7" height="3.1" fill="#c9dcea"/>
<text x="378.1" y="469.11" font-size="5.9" font-weight="700" fill="#111" stroke="#111" stroke-width="0.15" textLength="143.9" lengthAdjust="spacingAndGlyphs">Dual-Targeting Strategy broad-spectrum antivirals</text>
<text x="353.3" y="412.03" font-size="6.8" font-weight="700" fill="#3f8f4a" stroke="#3f8f4a" stroke-width="0.15" textLength="18.4" lengthAdjust="spacingAndGlyphs">GRFT</text>
<text x="386" y="414.63" font-size="6.8" font-weight="700" fill="#c8303e" stroke="#c8303e" stroke-width="0.15" textLength="12.4" lengthAdjust="spacingAndGlyphs">EK1</text>
<path d="M370.05 422.4L369.84 422.99L369.55 423.85L369.17 424.75L368.67 425.45L368.01 425.84L367.22 426.06L366.37 426.27L365.54 426.62L364.75 427.26L363.97 428.08L363.16 428.81L362.32 429.18L361.39 429.08L360.39 428.65L359.43 428.05L358.58 427.4L357.84 426.73L357.16 425.97L356.61 425.14L356.25 424.29L356.09 423.37L356.1 422.38L356.27 421.43L356.62 420.61L357.21 419.97L358.02 419.46L358.91 419.02L359.73 418.59L360.43 418.17L361.09 417.79L361.78 417.44L362.56 417.14L363.48 416.81L364.5 416.47L365.53 416.26L366.5 416.29L367.43 416.64L368.37 417.22L369.18 417.94L369.77 418.71L370.06 419.63L370.12 420.71L370.07 421.71L370.05 422.4Z" stroke="#2f6a3a" stroke-width="0.5" fill="#3a7f45"/>
<path d="M361.5 421.1h.01M365.3 424.0h.01M363.4 425.0h.01M364.7 419.5h.01" stroke="#2f6e3a" stroke-width="2.69" stroke-linecap="round" fill="none"/>
<path d="M369.8 423.2q1-1.2 2 0t2 0t2 0t2 0" stroke="#e09a40" stroke-width="0.7" fill="none"/>
<path d="M377 423C380 420.8 383.5 425 387 423S393 421.6 396.8 422.4" stroke="#a8202e" stroke-width="0.9" fill="none"/>
<path d="M399.7 422.3H413.5" stroke="#111" stroke-width="0.9" fill="none"/>
<path d="M412 420.1L416.2 422.3L412 424.5Z" stroke="none" stroke-width="0" fill="#111"/>
<text x="359.9" y="436.74" font-size="4.3" font-weight="700" fill="#e3853a" stroke="#e3853a" stroke-width="0.08" textLength="29.1" lengthAdjust="spacingAndGlyphs">Linker: (G4S)5</text>
<text x="362.6" y="449.27" font-size="6.9" font-weight="700" fill="#111" stroke="#111" stroke-width="0.15" textLength="22.1" lengthAdjust="spacingAndGlyphs">GREK1</text></g>
<g><text x="1.6" y="484" font-size="12.5" font-weight="700">k</text>
<path d="M30.12 485.98L32.95 486.85M29.18 487.31L30.96 489.68M27.64 487.84L27.68 490.8M26.08 487.36L24.37 489.78M25.1 486.05L22.3 487.01M25.08 484.42L22.25 483.55M26.02 483.09L24.24 480.72M27.56 482.56L27.52 479.6M29.12 483.04L30.83 480.62M30.1 484.35L32.9 483.39" stroke="#111" stroke-width="1.56" fill="none"/><path d="M33.3 487.0h.01M31.2 490.0h.01M27.7 491.2h.01M24.1 490.1h.01M21.9 487.1h.01M21.9 483.4h.01M24.0 480.4h.01M27.5 479.2h.01M31.1 480.3h.01M33.3 483.3h.01" stroke="#ee3030" stroke-width="1.44" stroke-linecap="round" fill="none"/><path d="M31.4 487.9h.01M29.1 489.6h.01M26.2 489.6h.01M23.9 488.0h.01M23.0 485.3h.01M23.8 482.5h.01M26.1 480.8h.01M29.0 480.8h.01M31.3 482.4h.01M32.2 485.1h.01" stroke="#2a5fd0" stroke-width="1.2" stroke-linecap="round" fill="none"/><circle cx="27.6" cy="485.2" r="4.05" fill="#111"/><circle cx="27.4" cy="485" r="3.05" fill="#ee1c1c"/>
<path d="M41.4 503.8V558.2H122.8" stroke="#111" stroke-width="0.9" fill="none"/>
<path d="M39.6 557.2H41.4M39.6 532.75H41.4M39.6 508.3H41.4M41.4 558.2V560M53.03 558.2V560M64.66 558.2V560M76.29 558.2V560M87.92 558.2V560M99.55 558.2V560M111.18 558.2V560M122.81 558.2V560" stroke="#111" stroke-width="0.6" fill="none"/>
<text x="39" y="558.49" font-size="3.6" font-weight="700" text-anchor="end" fill="#111" stroke="#111" stroke-width="0.08">0</text>
<text x="39" y="534.04" font-size="3.6" font-weight="700" text-anchor="end" fill="#111" stroke="#111" stroke-width="0.08">50</text>
<text x="39" y="509.59" font-size="3.6" font-weight="700" text-anchor="end" fill="#111" stroke="#111" stroke-width="0.08">100</text>
<text x="41.4" y="564.2" font-size="3.3" font-weight="700" text-anchor="middle" fill="#111" stroke="#111" stroke-width="0.08">0.001</text>
<text x="53.03" y="564.2" font-size="3.3" font-weight="700" text-anchor="middle" fill="#111" stroke="#111" stroke-width="0.08">0.01</text>
<text x="64.66" y="564.2" font-size="3.3" font-weight="700" text-anchor="middle" fill="#111" stroke="#111" stroke-width="0.08">0.1</text>
<text x="76.29" y="564.2" font-size="3.3" font-weight="700" text-anchor="middle" fill="#111" stroke="#111" stroke-width="0.08">1</text>
<text x="87.92" y="564.2" font-size="3.3" font-weight="700" text-anchor="middle" fill="#111" stroke="#111" stroke-width="0.08">10</text>
<text x="99.55" y="564.2" font-size="3.3" font-weight="700" text-anchor="middle" fill="#111" stroke="#111" stroke-width="0.08">100</text>
<text x="111.18" y="564.2" font-size="3.3" font-weight="700" text-anchor="middle" fill="#111" stroke="#111" stroke-width="0.08">1000</text>
<text x="122.81" y="564.2" font-size="3.3" font-weight="700" text-anchor="middle" fill="#111" stroke="#111" stroke-width="0.08">10000</text>
<path d="M51.9 553.46L53.3 552.44L54.7 551.18L56.1 549.65L57.5 547.81L58.9 545.64L60.31 543.16L61.71 540.39L63.11 537.37L64.51 534.21L65.91 530.99L67.31 527.84L68.71 524.84L70.11 522.09L71.51 519.64L72.91 517.51L74.31 515.7L75.71 514.19L77.11 512.96L78.51 511.96L79.91 511.16L81.31 510.53L82.71 510.03L84.11 509.64L85.51 509.34L86.91 509.1L88.31 508.92L89.71 508.78L91.11 508.67L92.51 508.58L93.91 508.52L95.32 508.47L96.72 508.43L98.12 508.4L99.52 508.38L100.92 508.36L102.32 508.34L103.72 508.33L105.12 508.33L106.52 508.32L107.92 508.32" stroke="#ee2a2a" stroke-width="0.9" fill="none"/>
<path d="M51.9 556.71V549.87M51 556.71h1.8M51 549.87h1.8M58.9 543.51V541.55M58 543.51h1.8M58 541.55h1.8M65.91 535.68V529.82M65.01 535.68h1.8M65.01 529.82h1.8M72.91 521.99V519.06M72.01 521.99h1.8M72.01 519.06h1.8M79.91 512.7V510.75M79.01 512.7h1.8M79.01 510.75h1.8M86.91 509.77V507.81M86.01 509.77h1.8M86.01 507.81h1.8" stroke="#ee2a2a" stroke-width="0.5" fill="none"/>
<circle cx="51.9" cy="553.29" r="1.2" fill="#ee2a2a"/>
<circle cx="58.9" cy="542.53" r="1.2" fill="#ee2a2a"/>
<circle cx="65.91" cy="532.75" r="1.2" fill="#ee2a2a"/>
<circle cx="72.91" cy="520.52" r="1.2" fill="#ee2a2a"/>
<circle cx="79.91" cy="511.72" r="1.2" fill="#ee2a2a"/>
<circle cx="86.91" cy="508.79" r="1.2" fill="#ee2a2a"/>
<circle cx="93.91" cy="508.3" r="1.2" fill="#ee2a2a"/>
<circle cx="100.92" cy="508.3" r="1.2" fill="#ee2a2a"/>
<circle cx="107.92" cy="508.3" r="1.2" fill="#ee2a2a"/>
<path d="M51.9 554.72L53.3 554.7L54.7 554.68L56.1 554.65L57.5 554.6L58.9 554.53L60.31 554.42L61.71 554.27L63.11 554.06L64.51 553.75L65.91 553.3L67.31 552.68L68.71 551.79L70.11 550.57L71.51 548.91L72.91 546.71L74.31 543.91L75.71 540.5L77.11 536.56L78.51 532.3L79.91 527.98L81.31 523.9L82.71 520.28L84.11 517.26L85.51 514.86L86.91 513.02L88.31 511.65L89.71 510.66L91.11 509.95L92.51 509.45L93.91 509.09L95.32 508.85L96.72 508.68L98.12 508.56L99.52 508.48L100.92 508.42L102.32 508.39L103.72 508.36L105.12 508.34L106.52 508.33L107.92 508.32" stroke="#2a2af0" stroke-width="0.9" fill="none"/>
<path d="M51.9 554.75V551.82M51 554.75h1.8M51 551.82h1.8M58.9 556.22V551.33M58 556.22h1.8M58 551.33h1.8M65.91 556.22V547.42M65.01 556.22h1.8M65.01 547.42h1.8M72.91 549.38V547.42M72.01 549.38h1.8M72.01 547.42h1.8M79.91 531.77V528.84M79.01 531.77h1.8M79.01 528.84h1.8M86.91 516.12V512.21M86.01 516.12h1.8M86.01 512.21h1.8M93.91 511.72V506.83M93.01 511.72h1.8M93.01 506.83h1.8" stroke="#2a2af0" stroke-width="0.5" fill="none"/>
<circle cx="51.9" cy="553.29" r="1.2" fill="#2a2af0"/>
<circle cx="58.9" cy="553.78" r="1.2" fill="#2a2af0"/>
<circle cx="65.91" cy="551.82" r="1.2" fill="#2a2af0"/>
<circle cx="72.91" cy="548.4" r="1.2" fill="#2a2af0"/>
<circle cx="79.91" cy="530.31" r="1.2" fill="#2a2af0"/>
<circle cx="86.91" cy="514.17" r="1.2" fill="#2a2af0"/>
<circle cx="93.91" cy="509.28" r="1.2" fill="#2a2af0"/>
<circle cx="100.92" cy="508.3" r="1.2" fill="#2a2af0"/>
<circle cx="107.92" cy="508.3" r="1.2" fill="#2a2af0"/>
<path d="M86.79 550.96L87.69 549.87L88.59 548.58L89.49 547.05L90.39 545.29L91.3 543.28L92.2 541.04L93.1 538.59L94 535.98L94.9 533.27L95.8 530.52L96.7 527.82L97.6 525.22L98.5 522.79L99.4 520.57L100.3 518.58L101.2 516.84L102.1 515.33L103 514.05L103.9 512.98L104.8 512.09L105.7 511.36L106.6 510.76L107.5 510.27L108.4 509.88L109.3 509.56L110.2 509.3L111.1 509.1L112 508.94L112.91 508.81L113.81 508.7L114.71 508.62L115.61 508.55L116.51 508.5L117.41 508.46L118.31 508.43L119.21 508.4L120.11 508.38L121.01 508.36L121.91 508.35L122.81 508.34" stroke="#111" stroke-width="0.9" fill="none"/>
<path d="M86.79 554.27V550.35M85.89 554.27h1.8M85.89 550.35h1.8M93.79 536.17V534.22M92.89 536.17h1.8M92.89 534.22h1.8M100.8 524.44V519.55M99.9 524.44h1.8M99.9 519.55h1.8M107.8 511.72V509.77M106.9 511.72h1.8M106.9 509.77h1.8" stroke="#111" stroke-width="0.5" fill="none"/>
<path d="M86.79 551.21l1.05 1.9h-2.1z" stroke="none" stroke-width="0" fill="#111"/>
<path d="M93.79 534.1l1.05 1.9h-2.1z" stroke="none" stroke-width="0" fill="#111"/>
<path d="M100.8 520.89l1.05 1.9h-2.1z" stroke="none" stroke-width="0" fill="#111"/>
<path d="M107.8 509.64l1.05 1.9h-2.1z" stroke="none" stroke-width="0" fill="#111"/>
<path d="M114.8 507.69l1.05 1.9h-2.1z" stroke="none" stroke-width="0" fill="#111"/>
<path d="M121.8 507.2l1.05 1.9h-2.1z" stroke="none" stroke-width="0" fill="#111"/>
<path d="M122.81 507.2l1.05 1.9h-2.1z" stroke="none" stroke-width="0" fill="#111"/>
<path d="M86.79 551.82L121.8 556.71" stroke="#7a7a7a" stroke-width="0.7" fill="none"/>
<path d="M86.79 553.78V549.87M85.89 553.78h1.8M85.89 549.87h1.8M93.79 556.22V551.33M92.89 556.22h1.8M92.89 551.33h1.8M100.8 556.22V553.29M99.9 556.22h1.8M99.9 553.29h1.8M107.8 556.71V554.75M106.9 556.71h1.8M106.9 554.75h1.8M114.8 557.69V554.75M113.9 557.69h1.8M113.9 554.75h1.8M121.8 557.2V554.27M120.9 557.2h1.8M120.9 554.27h1.8" stroke="#7a7a7a" stroke-width="0.5" fill="none"/>
<rect x="85.69" y="550.72" width="2.2" height="2.2" fill="#fff" stroke="#7a7a7a" stroke-width="0.55"/>
<rect x="92.69" y="552.68" width="2.2" height="2.2" fill="#fff" stroke="#7a7a7a" stroke-width="0.55"/>
<rect x="99.7" y="553.65" width="2.2" height="2.2" fill="#fff" stroke="#7a7a7a" stroke-width="0.55"/>
<rect x="106.7" y="554.63" width="2.2" height="2.2" fill="#fff" stroke="#7a7a7a" stroke-width="0.55"/>
<rect x="113.7" y="555.12" width="2.2" height="2.2" fill="#fff" stroke="#7a7a7a" stroke-width="0.55"/>
<rect x="120.7" y="554.63" width="2.2" height="2.2" fill="#fff" stroke="#7a7a7a" stroke-width="0.55"/>
<path d="M45.9 492H51.9" stroke="#ee2a2a" stroke-width="0.7" fill="none"/>
<circle cx="48.9" cy="492" r="1.05" fill="#ee2a2a"/>
<text x="54.6" y="493.47" font-size="4.1" font-weight="700" fill="#111" stroke="#111" stroke-width="0.08" textLength="38.6" lengthAdjust="spacingAndGlyphs">GREK1, IC<tspan font-size="3" dy="0.8">50</tspan><tspan dy="-0.8">=0.11 nM</tspan></text>
<path d="M45.9 497.6H51.9" stroke="#2a2af0" stroke-width="0.7" fill="none"/>
<circle cx="48.9" cy="497.6" r="1.05" fill="#2a2af0"/>
<text x="54.6" y="499.07" font-size="4.1" font-weight="700" fill="#111" stroke="#111" stroke-width="0.08" textLength="38.6" lengthAdjust="spacingAndGlyphs">GRFT,   IC<tspan font-size="3" dy="0.8">50</tspan><tspan dy="-0.8">=1.63 nM</tspan></text>
<path d="M45.9 502.8H51.9" stroke="#111" stroke-width="0.7" fill="none"/>
<path d="M48.9 501.65l1.1 1.99h-2.21z" stroke="none" stroke-width="0" fill="#111"/>
<text x="54.6" y="504.27" font-size="4.1" font-weight="700" fill="#111" stroke="#111" stroke-width="0.08" textLength="36" lengthAdjust="spacingAndGlyphs">EK1, IC<tspan font-size="3" dy="0.8">50</tspan><tspan dy="-0.8">=43.17 nM</tspan></text>
<path d="M98.5 492H104.5" stroke="#7a7a7a" stroke-width="0.6" fill="none"/>
<rect x="100.5" y="491" width="2" height="2" fill="#fff" stroke="#7a7a7a" stroke-width="0.55"/>
<text x="108.3" y="493.47" font-size="4.1" font-weight="700" fill="#111" stroke="#111" stroke-width="0.08" textLength="14.5" lengthAdjust="spacingAndGlyphs">EK1-Scr</text>
<text font-size="5.2" font-weight="700" fill="#111" stroke="#111" stroke-width="0.15" textLength="70.5" lengthAdjust="spacingAndGlyphs" transform="translate(24.66 566) rotate(-90)">Inhibition of MjHKU4r-CoV-1</text>
<text font-size="5.2" font-weight="700" fill="#111" stroke="#111" stroke-width="0.15" textLength="64" lengthAdjust="spacingAndGlyphs" transform="translate(30.46 563) rotate(-90)">pseudovirus infection (%)</text>
<text x="58.1" y="572.24" font-size="5.15" font-weight="700" fill="#111" stroke="#111" stroke-width="0.15" textLength="46.7" lengthAdjust="spacingAndGlyphs">Concentration (nM)</text></g>
<g><text x="137" y="485.2" font-size="12.5" font-weight="700">l</text>
<path d="M152.42 485.68L155.44 486.61M151.48 487.01L153.38 489.54M149.94 487.54L149.98 490.7M148.38 487.06L146.56 489.64M147.4 485.75L144.41 486.77M147.38 484.12L144.36 483.19M148.32 482.79L146.42 480.26M149.86 482.26L149.82 479.1M151.42 482.74L153.24 480.16M152.4 484.05L155.39 483.03" stroke="#111" stroke-width="1.61" fill="none"/><path d="M155.8 486.7h.01M153.6 489.9h.01M150.0 491.1h.01M146.3 490.0h.01M144.0 486.9h.01M144.0 483.1h.01M146.2 479.9h.01M149.8 478.7h.01M153.5 479.8h.01M155.8 482.9h.01" stroke="#f0a060" stroke-width="1.49" stroke-linecap="round" fill="none"/><path d="M153.7 487.6h.01M151.4 489.3h.01M148.5 489.3h.01M146.2 487.7h.01M145.3 485.0h.01M146.1 482.2h.01M148.4 480.5h.01M151.3 480.5h.01M153.6 482.1h.01M154.5 484.8h.01" stroke="#2a5fd0" stroke-width="1.24" stroke-linecap="round" fill="none"/><circle cx="149.9" cy="484.9" r="4.05" fill="#111"/><circle cx="149.7" cy="484.7" r="3.05" fill="#f0b07a"/>
<path d="M168.6 502.6V557.8H252.8" stroke="#111" stroke-width="0.9" fill="none"/>
<path d="M166.8 557.2H168.6M166.8 532.15H168.6M166.8 507.1H168.6M168.6 557.8V559.6M182.6 557.8V559.6M196.6 557.8V559.6M210.6 557.8V559.6M224.6 557.8V559.6M238.6 557.8V559.6M252.6 557.8V559.6" stroke="#111" stroke-width="0.6" fill="none"/>
<text x="166.2" y="558.49" font-size="3.6" font-weight="700" text-anchor="end" fill="#111" stroke="#111" stroke-width="0.08">0</text>
<text x="166.2" y="533.44" font-size="3.6" font-weight="700" text-anchor="end" fill="#111" stroke="#111" stroke-width="0.08">50</text>
<text x="166.2" y="508.39" font-size="3.6" font-weight="700" text-anchor="end" fill="#111" stroke="#111" stroke-width="0.08">100</text>
<text x="168.6" y="563.8" font-size="3.3" font-weight="700" text-anchor="middle" fill="#111" stroke="#111" stroke-width="0.08">0.01</text>
<text x="182.6" y="563.8" font-size="3.3" font-weight="700" text-anchor="middle" fill="#111" stroke="#111" stroke-width="0.08">0.1</text>
<text x="196.6" y="563.8" font-size="3.3" font-weight="700" text-anchor="middle" fill="#111" stroke="#111" stroke-width="0.08">1</text>
<text x="210.6" y="563.8" font-size="3.3" font-weight="700" text-anchor="middle" fill="#111" stroke="#111" stroke-width="0.08">10</text>
<text x="224.6" y="563.8" font-size="3.3" font-weight="700" text-anchor="middle" fill="#111" stroke="#111" stroke-width="0.08">100</text>
<text x="238.6" y="563.8" font-size="3.3" font-weight="700" text-anchor="middle" fill="#111" stroke="#111" stroke-width="0.08">1000</text>
<text x="252.6" y="563.8" font-size="3.3" font-weight="700" text-anchor="middle" fill="#111" stroke="#111" stroke-width="0.08">10000</text>
<path d="M172.81 533.82L174.5 528.98L176.19 524.36L177.87 520.27L179.56 516.86L181.24 514.16L182.93 512.12L184.61 510.62L186.3 509.54L187.99 508.78L189.67 508.25L191.36 507.89L193.04 507.64L194.73 507.47L196.42 507.35L198.1 507.27L199.79 507.21L201.47 507.18L203.16 507.15L204.84 507.14L206.53 507.12L208.22 507.12L209.9 507.11L211.59 507.11L213.27 507.11L214.96 507.1L216.64 507.1L218.33 507.1L220.02 507.1L221.7 507.1L223.39 507.1L225.07 507.1L226.76 507.1L228.44 507.1L230.13 507.1L231.82 507.1L233.5 507.1L235.19 507.1L236.87 507.1L238.56 507.1L240.25 507.1" stroke="#ee2a2a" stroke-width="0.9" fill="none"/>
<path d="M172.81 538.16V530.15M171.91 538.16h1.8M171.91 530.15h1.8M181.24 515.62V511.61M180.34 515.62h1.8M180.34 511.61h1.8M189.67 508.6V507.6M188.77 508.6h1.8M188.77 507.6h1.8" stroke="#ee2a2a" stroke-width="0.5" fill="none"/>
<circle cx="172.81" cy="534.15" r="1.2" fill="#ee2a2a"/>
<circle cx="181.24" cy="513.61" r="1.2" fill="#ee2a2a"/>
<circle cx="189.67" cy="508.1" r="1.2" fill="#ee2a2a"/>
<circle cx="198.1" cy="507.1" r="1.2" fill="#ee2a2a"/>
<circle cx="206.53" cy="507.1" r="1.2" fill="#ee2a2a"/>
<circle cx="214.96" cy="507.1" r="1.2" fill="#ee2a2a"/>
<circle cx="223.39" cy="507.1" r="1.2" fill="#ee2a2a"/>
<circle cx="231.82" cy="507.1" r="1.2" fill="#ee2a2a"/>
<circle cx="240.25" cy="507.1" r="1.2" fill="#ee2a2a"/>
<path d="M172.81 557.18L174.5 557.16L176.19 557.12L177.87 557.04L179.56 556.88L181.24 556.54L182.93 555.86L184.61 554.51L186.3 551.97L187.99 547.51L189.67 540.65L191.36 531.98L193.04 523.34L194.73 516.58L196.42 512.2L198.1 509.72L199.79 508.41L201.47 507.75L203.16 507.42L204.84 507.25L206.53 507.18L208.22 507.14L209.9 507.12L211.59 507.11L213.27 507.1L214.96 507.1L216.64 507.1L218.33 507.1L220.02 507.1L221.7 507.1L223.39 507.1L225.07 507.1L226.76 507.1L228.44 507.1L230.13 507.1L231.82 507.1L233.5 507.1L235.19 507.1L236.87 507.1L238.56 507.1L240.25 507.1" stroke="#2a2af0" stroke-width="0.9" fill="none"/>
<path d="M172.81 559.71V551.69M171.91 559.71h1.8M171.91 551.69h1.8M181.24 558.2V555.2M180.34 558.2h1.8M180.34 555.2h1.8M189.67 546.18V538.16M188.77 546.18h1.8M188.77 538.16h1.8M198.1 516.62V512.61M197.2 516.62h1.8M197.2 512.61h1.8" stroke="#2a2af0" stroke-width="0.5" fill="none"/>
<circle cx="172.81" cy="555.7" r="1.2" fill="#2a2af0"/>
<circle cx="181.24" cy="556.7" r="1.2" fill="#2a2af0"/>
<circle cx="189.67" cy="542.17" r="1.2" fill="#2a2af0"/>
<circle cx="198.1" cy="514.62" r="1.2" fill="#2a2af0"/>
<circle cx="206.53" cy="507.1" r="1.2" fill="#2a2af0"/>
<circle cx="214.96" cy="507.1" r="1.2" fill="#2a2af0"/>
<circle cx="223.39" cy="507.1" r="1.2" fill="#2a2af0"/>
<circle cx="231.82" cy="507.1" r="1.2" fill="#2a2af0"/>
<circle cx="240.25" cy="507.1" r="1.2" fill="#2a2af0"/>
<path d="M206.39 554.39L207.44 554.16L208.49 553.9L209.55 553.59L210.6 553.23L211.65 552.82L212.71 552.34L213.76 551.79L214.81 551.16L215.87 550.44L216.92 549.62L217.98 548.69L219.03 547.65L220.08 546.49L221.14 545.21L222.19 543.81L223.24 542.29L224.3 540.65L225.35 538.92L226.4 537.1L227.46 535.22L228.51 533.3L229.56 531.36L230.62 529.44L231.67 527.55L232.73 525.72L233.78 523.97L234.83 522.31L235.89 520.77L236.94 519.34L237.99 518.04L239.05 516.86L240.1 515.8L241.15 514.85L242.21 514.01L243.26 513.27L244.32 512.62L245.37 512.06L246.42 511.57L247.48 511.14L248.53 510.77" stroke="#111" stroke-width="0.9" fill="none"/>
<path d="M206.39 557.2V549.18M205.49 557.2h1.8M205.49 549.18h1.8M214.81 554.7V549.69M213.91 554.7h1.8M213.91 549.69h1.8M223.24 544.17V540.17M222.34 544.17h1.8M222.34 540.17h1.8M231.67 530.15V527.14M230.77 530.15h1.8M230.77 527.14h1.8M240.1 517.62V514.62M239.2 517.62h1.8M239.2 514.62h1.8M248.53 515.12V509.1M247.63 515.12h1.8M247.63 509.1h1.8" stroke="#111" stroke-width="0.5" fill="none"/>
<path d="M206.39 552.09l1.05 1.9h-2.1z" stroke="none" stroke-width="0" fill="#111"/>
<path d="M214.81 551.09l1.05 1.9h-2.1z" stroke="none" stroke-width="0" fill="#111"/>
<path d="M223.24 541.07l1.05 1.9h-2.1z" stroke="none" stroke-width="0" fill="#111"/>
<path d="M231.67 527.54l1.05 1.9h-2.1z" stroke="none" stroke-width="0" fill="#111"/>
<path d="M240.1 515.02l1.05 1.9h-2.1z" stroke="none" stroke-width="0" fill="#111"/>
<path d="M248.53 511.01l1.05 1.9h-2.1z" stroke="none" stroke-width="0" fill="#111"/>
<path d="M206.39 555.2L248.53 555.2" stroke="#7a7a7a" stroke-width="0.7" fill="none"/>
<path d="M206.39 556.2V554.19M205.49 556.2h1.8M205.49 554.19h1.8M214.81 556.7V554.7M213.91 556.7h1.8M213.91 554.7h1.8M223.24 556.2V554.19M222.34 556.2h1.8M222.34 554.19h1.8M231.67 555.7V553.69M230.77 555.7h1.8M230.77 553.69h1.8M240.1 556.2V554.19M239.2 556.2h1.8M239.2 554.19h1.8M248.53 556.2V554.19M247.63 556.2h1.8M247.63 554.19h1.8" stroke="#7a7a7a" stroke-width="0.5" fill="none"/>
<rect x="205.29" y="554.1" width="2.2" height="2.2" fill="#fff" stroke="#7a7a7a" stroke-width="0.55"/>
<rect x="213.71" y="554.6" width="2.2" height="2.2" fill="#fff" stroke="#7a7a7a" stroke-width="0.55"/>
<rect x="222.14" y="554.1" width="2.2" height="2.2" fill="#fff" stroke="#7a7a7a" stroke-width="0.55"/>
<rect x="230.57" y="553.6" width="2.2" height="2.2" fill="#fff" stroke="#7a7a7a" stroke-width="0.55"/>
<rect x="239" y="554.1" width="2.2" height="2.2" fill="#fff" stroke="#7a7a7a" stroke-width="0.55"/>
<rect x="247.43" y="554.1" width="2.2" height="2.2" fill="#fff" stroke="#7a7a7a" stroke-width="0.55"/>
<path d="M172.6 490.6H178.6" stroke="#ee2a2a" stroke-width="0.7" fill="none"/>
<circle cx="175.6" cy="490.6" r="1.05" fill="#ee2a2a"/>
<text x="181.1" y="492.07" font-size="4.1" font-weight="700" fill="#111" stroke="#111" stroke-width="0.08" textLength="41.4" lengthAdjust="spacingAndGlyphs">GREK1, IC<tspan font-size="3" dy="0.8">50</tspan><tspan dy="-0.8">=0.02 nM</tspan></text>
<path d="M172.6 496.3H178.6" stroke="#2a2af0" stroke-width="0.7" fill="none"/>
<circle cx="175.6" cy="496.3" r="1.05" fill="#2a2af0"/>
<text x="181.1" y="497.77" font-size="4.1" font-weight="700" fill="#111" stroke="#111" stroke-width="0.08" textLength="35.4" lengthAdjust="spacingAndGlyphs">GRFT,   IC<tspan font-size="3" dy="0.8">50</tspan><tspan dy="-0.8">=0.40 nM</tspan></text>
<path d="M172.6 502.1H178.6" stroke="#111" stroke-width="0.7" fill="none"/>
<path d="M175.6 500.95l1.1 1.99h-2.21z" stroke="none" stroke-width="0" fill="#111"/>
<text x="181.1" y="503.57" font-size="4.1" font-weight="700" fill="#111" stroke="#111" stroke-width="0.08" textLength="42.4" lengthAdjust="spacingAndGlyphs">EK1,   IC<tspan font-size="3" dy="0.8">50</tspan><tspan dy="-0.8">=210.90 nM</tspan></text>
<path d="M227 490.6H233" stroke="#7a7a7a" stroke-width="0.6" fill="none"/>
<rect x="229" y="489.6" width="2" height="2" fill="#fff" stroke="#7a7a7a" stroke-width="0.55"/>
<text x="236.3" y="492.07" font-size="4.1" font-weight="700" fill="#111" stroke="#111" stroke-width="0.08" textLength="15" lengthAdjust="spacingAndGlyphs">EK1-Scr</text>
<text font-size="5.25" font-weight="700" fill="#111" stroke="#111" stroke-width="0.15" textLength="52" lengthAdjust="spacingAndGlyphs" transform="translate(151.08 557) rotate(-90)">Inhibition of NeoCoV</text>
<text font-size="5.25" font-weight="700" fill="#111" stroke="#111" stroke-width="0.15" textLength="64" lengthAdjust="spacingAndGlyphs" transform="translate(157.38 563) rotate(-90)">pseudovirus infection (%)</text>
<text x="186.1" y="572.64" font-size="5.15" font-weight="700" fill="#111" stroke="#111" stroke-width="0.15" textLength="48.2" lengthAdjust="spacingAndGlyphs">Concentration (nM)</text></g>
<g><text x="263.6" y="482.6" font-size="12.5" font-weight="700">m</text>
<path d="M288.1 484.8L291.33 485.8M287.13 486.18L289.16 488.88M285.54 486.72L285.59 490.1M283.93 486.22L281.98 488.99M282.93 484.88L279.73 485.97M282.9 483.2L279.67 482.2M283.87 481.82L281.84 479.12M285.46 481.28L285.41 477.9M287.07 481.78L289.02 479.01M288.07 483.12L291.27 482.03" stroke="#111" stroke-width="1.69" fill="none"/><path d="M291.7 485.9h.01M289.4 489.2h.01M285.6 490.5h.01M281.8 489.3h.01M279.3 486.1h.01M279.3 482.1h.01M281.6 478.8h.01M285.4 477.5h.01M289.2 478.7h.01M291.7 481.9h.01" stroke="#e08a3a" stroke-width="1.56" stroke-linecap="round" fill="none"/><path d="M289.3 486.7h.01M287.0 488.4h.01M284.1 488.5h.01M281.7 486.8h.01M280.8 484.1h.01M281.7 481.3h.01M284.0 479.6h.01M286.9 479.5h.01M289.3 481.2h.01M290.2 483.9h.01" stroke="#2a5fd0" stroke-width="1.3" stroke-linecap="round" fill="none"/><circle cx="285.5" cy="484" r="4.15" fill="#111"/><circle cx="285.3" cy="483.8" r="3.15" fill="#8a4513"/>
<path d="M299.6 504.5V559.6H384.2" stroke="#111" stroke-width="0.9" fill="none"/>
<path d="M297.8 559H299.6M297.8 533.9H299.6M297.8 508.8H299.6M299.6 559.6V561.4M313.65 559.6V561.4M327.7 559.6V561.4M341.75 559.6V561.4M355.8 559.6V561.4M369.85 559.6V561.4M383.9 559.6V561.4" stroke="#111" stroke-width="0.6" fill="none"/>
<text x="297.2" y="560.29" font-size="3.6" font-weight="700" text-anchor="end" fill="#111" stroke="#111" stroke-width="0.08">0</text>
<text x="297.2" y="535.19" font-size="3.6" font-weight="700" text-anchor="end" fill="#111" stroke="#111" stroke-width="0.08">50</text>
<text x="297.2" y="510.09" font-size="3.6" font-weight="700" text-anchor="end" fill="#111" stroke="#111" stroke-width="0.08">100</text>
<text x="299.6" y="565.6" font-size="3.3" font-weight="700" text-anchor="middle" fill="#111" stroke="#111" stroke-width="0.08">0.01</text>
<text x="313.65" y="565.6" font-size="3.3" font-weight="700" text-anchor="middle" fill="#111" stroke="#111" stroke-width="0.08">0.1</text>
<text x="327.7" y="565.6" font-size="3.3" font-weight="700" text-anchor="middle" fill="#111" stroke="#111" stroke-width="0.08">1</text>
<text x="341.75" y="565.6" font-size="3.3" font-weight="700" text-anchor="middle" fill="#111" stroke="#111" stroke-width="0.08">10</text>
<text x="355.8" y="565.6" font-size="3.3" font-weight="700" text-anchor="middle" fill="#111" stroke="#111" stroke-width="0.08">100</text>
<text x="369.85" y="565.6" font-size="3.3" font-weight="700" text-anchor="middle" fill="#111" stroke="#111" stroke-width="0.08">1000</text>
<text x="383.9" y="565.6" font-size="3.3" font-weight="700" text-anchor="middle" fill="#111" stroke="#111" stroke-width="0.08">10000</text>
<path d="M303.83 541.02L305.52 530.12L307.21 520.5L308.9 514.38L310.6 511.26L312.29 509.84L313.98 509.23L315.67 508.98L317.36 508.87L319.06 508.83L320.75 508.81L322.44 508.81L324.13 508.8L325.82 508.8L327.51 508.8L329.21 508.8L330.9 508.8L332.59 508.8L334.28 508.8L335.97 508.8L337.67 508.8L339.36 508.8L341.05 508.8L342.74 508.8L344.43 508.8L346.12 508.8L347.82 508.8L349.51 508.8L351.2 508.8L352.89 508.8L354.58 508.8L356.27 508.8L357.97 508.8L359.66 508.8L361.35 508.8L363.04 508.8L364.73 508.8L366.43 508.8L368.12 508.8L369.81 508.8L371.5 508.8" stroke="#ee2a2a" stroke-width="0.9" fill="none"/>
<path d="M303.83 542.94V539.92M302.93 542.94h1.8M302.93 539.92h1.8M312.29 511.31V509.3M311.39 511.31h1.8M311.39 509.3h1.8" stroke="#ee2a2a" stroke-width="0.5" fill="none"/>
<circle cx="303.83" cy="541.43" r="1.2" fill="#ee2a2a"/>
<circle cx="312.29" cy="510.31" r="1.2" fill="#ee2a2a"/>
<circle cx="320.75" cy="508.8" r="1.2" fill="#ee2a2a"/>
<circle cx="329.21" cy="508.8" r="1.2" fill="#ee2a2a"/>
<circle cx="337.67" cy="508.8" r="1.2" fill="#ee2a2a"/>
<circle cx="346.12" cy="508.8" r="1.2" fill="#ee2a2a"/>
<circle cx="354.58" cy="508.8" r="1.2" fill="#ee2a2a"/>
<circle cx="363.04" cy="508.8" r="1.2" fill="#ee2a2a"/>
<circle cx="371.5" cy="508.8" r="1.2" fill="#ee2a2a"/>
<path d="M303.83 558.98L305.52 558.95L307.21 558.91L308.9 558.81L310.6 558.63L312.29 558.26L313.98 557.54L315.67 556.17L317.36 553.64L319.06 549.32L320.75 542.77L322.44 534.47L324.13 526.04L325.82 519.21L327.51 514.61L329.21 511.88L330.9 510.39L332.59 509.61L334.28 509.21L335.97 509L337.67 508.9L339.36 508.85L341.05 508.83L342.74 508.81L344.43 508.81L346.12 508.8L347.82 508.8L349.51 508.8L351.2 508.8L352.89 508.8L354.58 508.8L356.27 508.8L357.97 508.8L359.66 508.8L361.35 508.8L363.04 508.8L364.73 508.8L366.43 508.8L368.12 508.8L369.81 508.8L371.5 508.8" stroke="#2a2af0" stroke-width="0.9" fill="none"/>
<path d="M303.83 561.51V556.49M302.93 561.51h1.8M302.93 556.49h1.8M312.29 562.51V549.46M311.39 562.51h1.8M311.39 549.46h1.8M320.75 547.45V538.42M319.85 547.45h1.8M319.85 538.42h1.8M329.21 514.32V511.31M328.31 514.32h1.8M328.31 511.31h1.8" stroke="#2a2af0" stroke-width="0.5" fill="none"/>
<circle cx="303.83" cy="559" r="1.2" fill="#2a2af0"/>
<circle cx="312.29" cy="555.99" r="1.2" fill="#2a2af0"/>
<circle cx="320.75" cy="542.94" r="1.2" fill="#2a2af0"/>
<circle cx="329.21" cy="512.82" r="1.2" fill="#2a2af0"/>
<circle cx="337.67" cy="508.8" r="1.2" fill="#2a2af0"/>
<circle cx="346.12" cy="508.8" r="1.2" fill="#2a2af0"/>
<circle cx="354.58" cy="508.8" r="1.2" fill="#2a2af0"/>
<circle cx="363.04" cy="508.8" r="1.2" fill="#2a2af0"/>
<circle cx="371.5" cy="508.8" r="1.2" fill="#2a2af0"/>
<path d="M337.52 555.85L338.58 555.52L339.64 555.15L340.69 554.73L341.75 554.26L342.81 553.71L343.86 553.1L344.92 552.41L345.98 551.64L347.04 550.78L348.09 549.83L349.15 548.77L350.21 547.62L351.27 546.36L352.32 545L353.38 543.54L354.44 542L355.5 540.37L356.55 538.67L357.61 536.92L358.67 535.13L359.73 533.32L360.78 531.51L361.84 529.72L362.9 527.97L363.95 526.28L365.01 524.66L366.07 523.12L367.13 521.67L368.18 520.32L369.24 519.07L370.3 517.93L371.36 516.88L372.41 515.93L373.47 515.08L374.53 514.32L375.59 513.64L376.64 513.03L377.7 512.5L378.76 512.02L379.82 511.61" stroke="#111" stroke-width="0.9" fill="none"/>
<path d="M337.52 556.49V553.48M336.62 556.49h1.8M336.62 553.48h1.8M345.98 554.48V549.46M345.08 554.48h1.8M345.08 549.46h1.8M354.44 542.43V538.42M353.54 542.43h1.8M353.54 538.42h1.8M362.9 533.9V527.88M362 533.9h1.8M362 527.88h1.8M371.36 521.35V516.33M370.46 521.35h1.8M370.46 516.33h1.8M379.82 514.82V510.81M378.92 514.82h1.8M378.92 510.81h1.8" stroke="#111" stroke-width="0.5" fill="none"/>
<path d="M337.52 553.88l1.05 1.9h-2.1z" stroke="none" stroke-width="0" fill="#111"/>
<path d="M345.98 550.87l1.05 1.9h-2.1z" stroke="none" stroke-width="0" fill="#111"/>
<path d="M354.44 539.33l1.05 1.9h-2.1z" stroke="none" stroke-width="0" fill="#111"/>
<path d="M362.9 529.79l1.05 1.9h-2.1z" stroke="none" stroke-width="0" fill="#111"/>
<path d="M371.36 517.74l1.05 1.9h-2.1z" stroke="none" stroke-width="0" fill="#111"/>
<path d="M379.82 511.72l1.05 1.9h-2.1z" stroke="none" stroke-width="0" fill="#111"/>
<path d="M337.52 558L379.82 550.97" stroke="#7a7a7a" stroke-width="0.7" fill="none"/>
<path d="M337.52 556.99V553.98M336.62 556.99h1.8M336.62 553.98h1.8M345.98 556.49V551.47M345.08 556.49h1.8M345.08 551.47h1.8M354.44 560.51V555.49M353.54 560.51h1.8M353.54 555.49h1.8M362.9 556.99V552.98M362 556.99h1.8M362 552.98h1.8M371.36 555.49V550.47M370.46 555.49h1.8M370.46 550.47h1.8M379.82 555.49V545.45M378.92 555.49h1.8M378.92 545.45h1.8" stroke="#7a7a7a" stroke-width="0.5" fill="none"/>
<rect x="336.42" y="554.39" width="2.2" height="2.2" fill="#fff" stroke="#7a7a7a" stroke-width="0.55"/>
<rect x="344.88" y="552.88" width="2.2" height="2.2" fill="#fff" stroke="#7a7a7a" stroke-width="0.55"/>
<rect x="353.34" y="556.9" width="2.2" height="2.2" fill="#fff" stroke="#7a7a7a" stroke-width="0.55"/>
<rect x="361.8" y="553.88" width="2.2" height="2.2" fill="#fff" stroke="#7a7a7a" stroke-width="0.55"/>
<rect x="370.26" y="551.88" width="2.2" height="2.2" fill="#fff" stroke="#7a7a7a" stroke-width="0.55"/>
<rect x="378.72" y="549.37" width="2.2" height="2.2" fill="#fff" stroke="#7a7a7a" stroke-width="0.55"/>
<path d="M304.1 490H310.1" stroke="#ee2a2a" stroke-width="0.7" fill="none"/>
<circle cx="307.1" cy="490" r="1.05" fill="#ee2a2a"/>
<text x="313.4" y="491.47" font-size="4.1" font-weight="700" fill="#111" stroke="#111" stroke-width="0.08" textLength="40.1" lengthAdjust="spacingAndGlyphs">GREK1, IC<tspan font-size="3" dy="0.8">50</tspan><tspan dy="-0.8">=0.02 nM</tspan></text>
<path d="M304.1 496.3H310.1" stroke="#2a2af0" stroke-width="0.7" fill="none"/>
<circle cx="307.1" cy="496.3" r="1.05" fill="#2a2af0"/>
<text x="313.4" y="497.77" font-size="4.1" font-weight="700" fill="#111" stroke="#111" stroke-width="0.08" textLength="34.1" lengthAdjust="spacingAndGlyphs">GRFT,   IC<tspan font-size="3" dy="0.8">50</tspan><tspan dy="-0.8">=0.43 nM</tspan></text>
<path d="M304.1 502.6H310.1" stroke="#111" stroke-width="0.7" fill="none"/>
<path d="M307.1 501.45l1.1 1.99h-2.21z" stroke="none" stroke-width="0" fill="#111"/>
<text x="313.4" y="504.07" font-size="4.1" font-weight="700" fill="#111" stroke="#111" stroke-width="0.08" textLength="40.1" lengthAdjust="spacingAndGlyphs">EK1,   IC<tspan font-size="3" dy="0.8">50</tspan><tspan dy="-0.8">=188.80 nM</tspan></text>
<path d="M358.7 490H364.7" stroke="#7a7a7a" stroke-width="0.6" fill="none"/>
<rect x="360.7" y="489" width="2" height="2" fill="#fff" stroke="#7a7a7a" stroke-width="0.55"/>
<text x="368" y="491.47" font-size="4.1" font-weight="700" fill="#111" stroke="#111" stroke-width="0.08" textLength="15.6" lengthAdjust="spacingAndGlyphs">EK1-Scr</text>
<text font-size="5.25" font-weight="700" fill="#111" stroke="#111" stroke-width="0.15" textLength="55" lengthAdjust="spacingAndGlyphs" transform="translate(281.08 559) rotate(-90)">Inhibition of PDF-2180</text>
<text font-size="5.25" font-weight="700" fill="#111" stroke="#111" stroke-width="0.15" textLength="64" lengthAdjust="spacingAndGlyphs" transform="translate(287.38 565) rotate(-90)">pseudovirus infection (%)</text>
<text x="317.1" y="573.84" font-size="5.15" font-weight="700" fill="#111" stroke="#111" stroke-width="0.15" textLength="48.2" lengthAdjust="spacingAndGlyphs">Concentration (nM)</text></g>
<g><text x="394.6" y="483.6" font-size="12.5" font-weight="700">n</text>
<path d="M414.3 485.1L417.62 486.13M413.33 486.48L415.41 489.26M411.74 487.02L411.79 490.5M410.13 486.52L408.13 489.37M409.13 485.18L405.83 486.3M409.1 483.5L405.78 482.47M410.07 482.12L407.99 479.34M411.66 481.58L411.61 478.1M413.27 482.08L415.27 479.23M414.27 483.42L417.57 482.3" stroke="#111" stroke-width="1.72" fill="none"/><path d="M418.0 486.3h.01M415.7 489.6h.01M411.8 490.9h.01M407.9 489.7h.01M405.5 486.4h.01M405.4 482.3h.01M407.7 479.0h.01M411.6 477.7h.01M415.5 478.9h.01M417.9 482.2h.01" stroke="#e0a040" stroke-width="1.58" stroke-linecap="round" fill="none"/><path d="M415.5 487.0h.01M413.2 488.7h.01M410.3 488.8h.01M407.9 487.1h.01M407.0 484.4h.01M407.9 481.6h.01M410.2 479.9h.01M413.1 479.8h.01M415.5 481.5h.01M416.4 484.2h.01" stroke="#2a5fd0" stroke-width="1.32" stroke-linecap="round" fill="none"/><circle cx="411.7" cy="484.3" r="4.15" fill="#111"/><circle cx="411.5" cy="484.1" r="3.15" fill="#3a6a28"/>
<path d="M427.3 504.5V560H512" stroke="#111" stroke-width="0.9" fill="none"/>
<path d="M425.5 559.5H427.3M425.5 534.25H427.3M425.5 509H427.3M427.3 560V561.8M441.4 560V561.8M455.5 560V561.8M469.6 560V561.8M483.7 560V561.8M497.8 560V561.8M511.9 560V561.8" stroke="#111" stroke-width="0.6" fill="none"/>
<text x="424.9" y="560.79" font-size="3.6" font-weight="700" text-anchor="end" fill="#111" stroke="#111" stroke-width="0.08">0</text>
<text x="424.9" y="535.54" font-size="3.6" font-weight="700" text-anchor="end" fill="#111" stroke="#111" stroke-width="0.08">50</text>
<text x="424.9" y="510.29" font-size="3.6" font-weight="700" text-anchor="end" fill="#111" stroke="#111" stroke-width="0.08">100</text>
<text x="427.3" y="566" font-size="3.3" font-weight="700" text-anchor="middle" fill="#111" stroke="#111" stroke-width="0.08">0.01</text>
<text x="441.4" y="566" font-size="3.3" font-weight="700" text-anchor="middle" fill="#111" stroke="#111" stroke-width="0.08">0.1</text>
<text x="455.5" y="566" font-size="3.3" font-weight="700" text-anchor="middle" fill="#111" stroke="#111" stroke-width="0.08">1</text>
<text x="469.6" y="566" font-size="3.3" font-weight="700" text-anchor="middle" fill="#111" stroke="#111" stroke-width="0.08">10</text>
<text x="483.7" y="566" font-size="3.3" font-weight="700" text-anchor="middle" fill="#111" stroke="#111" stroke-width="0.08">100</text>
<text x="497.8" y="566" font-size="3.3" font-weight="700" text-anchor="middle" fill="#111" stroke="#111" stroke-width="0.08">1000</text>
<text x="511.9" y="566" font-size="3.3" font-weight="700" text-anchor="middle" fill="#111" stroke="#111" stroke-width="0.08">10000</text>
<path d="M432.91 555.69L433.97 555.07L435.03 554.36L436.09 553.55L437.16 552.63L438.22 551.59L439.28 550.43L440.34 549.14L441.4 547.72L442.46 546.17L443.52 544.49L444.58 542.7L445.64 540.81L446.71 538.83L447.77 536.8L448.83 534.73L449.89 532.65L450.95 530.6L452.01 528.59L453.07 526.66L454.13 524.82L455.19 523.08L456.26 521.47L457.32 519.99L458.38 518.64L459.44 517.42L460.5 516.33L461.56 515.36L462.62 514.5L463.68 513.74L464.74 513.08L465.81 512.5L466.87 512L467.93 511.57L468.99 511.2L470.05 510.88L471.11 510.6L472.17 510.36L473.23 510.16L474.3 509.99L475.36 509.84" stroke="#ee2a2a" stroke-width="0.9" fill="none"/>
<path d="M432.91 558.49V554.45M432.01 558.49h1.8M432.01 554.45h1.8M441.4 549.4V545.36M440.5 549.4h1.8M440.5 545.36h1.8M449.89 533.75V530.72M448.99 533.75h1.8M448.99 530.72h1.8M458.38 524.65V518.6M457.48 524.65h1.8M457.48 518.6h1.8M466.87 512.53V509.5M465.97 512.53h1.8M465.97 509.5h1.8" stroke="#ee2a2a" stroke-width="0.5" fill="none"/>
<circle cx="432.91" cy="556.47" r="1.2" fill="#ee2a2a"/>
<circle cx="441.4" cy="547.38" r="1.2" fill="#ee2a2a"/>
<circle cx="449.89" cy="532.23" r="1.2" fill="#ee2a2a"/>
<circle cx="458.38" cy="521.62" r="1.2" fill="#ee2a2a"/>
<circle cx="466.87" cy="511.02" r="1.2" fill="#ee2a2a"/>
<circle cx="475.36" cy="509.5" r="1.2" fill="#ee2a2a"/>
<path d="M441.4 559.48L442.46 559.47L443.52 559.46L444.58 559.44L445.64 559.42L446.71 559.39L447.77 559.35L448.83 559.29L449.89 559.21L450.95 559.09L452.01 558.94L453.07 558.72L454.13 558.43L455.19 558.02L456.26 557.46L457.32 556.71L458.38 555.71L459.44 554.38L460.5 552.66L461.56 550.46L462.62 547.76L463.68 544.54L464.74 540.86L465.81 536.85L466.87 532.7L467.93 528.64L468.99 524.86L470.05 521.51L471.11 518.68L472.17 516.36L473.23 514.52L474.3 513.1L475.36 512.02L476.42 511.21L477.48 510.61L478.54 510.17L479.6 509.84L480.66 509.61L481.72 509.44L482.78 509.32L483.85 509.23" stroke="#2a2af0" stroke-width="0.9" fill="none"/>
<path d="M449.89 561.52V556.47M448.99 561.52h1.8M448.99 556.47h1.8M466.87 545.36V536.27M465.97 545.36h1.8M465.97 536.27h1.8" stroke="#2a2af0" stroke-width="0.5" fill="none"/>
<circle cx="441.4" cy="559.5" r="1.2" fill="#2a2af0"/>
<circle cx="449.89" cy="559" r="1.2" fill="#2a2af0"/>
<circle cx="458.38" cy="546.88" r="1.2" fill="#2a2af0"/>
<circle cx="466.87" cy="540.82" r="1.2" fill="#2a2af0"/>
<circle cx="475.36" cy="510.01" r="1.2" fill="#2a2af0"/>
<circle cx="483.85" cy="509" r="1.2" fill="#2a2af0"/>
<path d="M466.47 556.82L467.53 556.55L468.59 556.23L469.66 555.87L470.72 555.46L471.78 554.98L472.84 554.44L473.9 553.82L474.96 553.12L476.02 552.32L477.08 551.43L478.14 550.43L479.21 549.32L480.27 548.1L481.33 546.76L482.39 545.31L483.45 543.75L484.51 542.08L485.57 540.33L486.63 538.5L487.69 536.62L488.76 534.71L489.82 532.78L490.88 530.86L491.94 528.98L493 527.15L494.06 525.4L495.12 523.73L496.18 522.17L497.24 520.72L498.31 519.38L499.37 518.16L500.43 517.05L501.49 516.06L502.55 515.17L503.61 514.37L504.67 513.67L505.73 513.05L506.79 512.51L507.86 512.03L508.92 511.62" stroke="#111" stroke-width="0.9" fill="none"/>
<path d="M466.47 557.99V555.97M465.57 557.99h1.8M465.57 555.97h1.8M474.96 559.5V551.42M474.06 559.5h1.8M474.06 551.42h1.8M483.45 547.38V531.22M482.55 547.38h1.8M482.55 531.22h1.8M491.94 532.23V529.2M491.04 532.23h1.8M491.04 529.2h1.8" stroke="#111" stroke-width="0.5" fill="none"/>
<path d="M466.47 555.88l1.05 1.9h-2.1z" stroke="none" stroke-width="0" fill="#111"/>
<path d="M474.96 554.36l1.05 1.9h-2.1z" stroke="none" stroke-width="0" fill="#111"/>
<path d="M483.45 538.2l1.05 1.9h-2.1z" stroke="none" stroke-width="0" fill="#111"/>
<path d="M491.94 529.62l1.05 1.9h-2.1z" stroke="none" stroke-width="0" fill="#111"/>
<path d="M500.43 517.5l1.05 1.9h-2.1z" stroke="none" stroke-width="0" fill="#111"/>
<path d="M508.92 512.44l1.05 1.9h-2.1z" stroke="none" stroke-width="0" fill="#111"/>
<path d="M466.47 556.98L508.92 554.96" stroke="#7a7a7a" stroke-width="0.7" fill="none"/>
<path d="M466.47 557.99V555.97M465.57 557.99h1.8M465.57 555.97h1.8M474.96 559.5V551.42M474.06 559.5h1.8M474.06 551.42h1.8M483.45 557.48V552.43M482.55 557.48h1.8M482.55 552.43h1.8M491.94 556.47V553.44M491.04 556.47h1.8M491.04 553.44h1.8M500.43 557.99V552.93M499.53 557.99h1.8M499.53 552.93h1.8M508.92 556.47V554.45M508.02 556.47h1.8M508.02 554.45h1.8" stroke="#7a7a7a" stroke-width="0.5" fill="none"/>
<rect x="465.37" y="555.88" width="2.2" height="2.2" fill="#fff" stroke="#7a7a7a" stroke-width="0.55"/>
<rect x="473.86" y="554.36" width="2.2" height="2.2" fill="#fff" stroke="#7a7a7a" stroke-width="0.55"/>
<rect x="482.35" y="553.86" width="2.2" height="2.2" fill="#fff" stroke="#7a7a7a" stroke-width="0.55"/>
<rect x="490.84" y="553.86" width="2.2" height="2.2" fill="#fff" stroke="#7a7a7a" stroke-width="0.55"/>
<rect x="499.33" y="554.36" width="2.2" height="2.2" fill="#fff" stroke="#7a7a7a" stroke-width="0.55"/>
<rect x="507.82" y="554.36" width="2.2" height="2.2" fill="#fff" stroke="#7a7a7a" stroke-width="0.55"/>
<path d="M431 491.9H437" stroke="#ee2a2a" stroke-width="0.7" fill="none"/>
<circle cx="434" cy="491.9" r="1.05" fill="#ee2a2a"/>
<text x="440.2" y="493.37" font-size="4.1" font-weight="700" fill="#111" stroke="#111" stroke-width="0.08" textLength="41" lengthAdjust="spacingAndGlyphs">GREK1, IC<tspan font-size="3" dy="0.8">50</tspan><tspan dy="-0.8">=0.35 nM</tspan></text>
<path d="M431 498.1H437" stroke="#2a2af0" stroke-width="0.7" fill="none"/>
<circle cx="434" cy="498.1" r="1.05" fill="#2a2af0"/>
<text x="440.2" y="499.57" font-size="4.1" font-weight="700" fill="#111" stroke="#111" stroke-width="0.08" textLength="34.8" lengthAdjust="spacingAndGlyphs">GRFT,   IC<tspan font-size="3" dy="0.8">50</tspan><tspan dy="-0.8">=6.67 nM</tspan></text>
<path d="M431 503.7H437" stroke="#111" stroke-width="0.7" fill="none"/>
<path d="M434 502.55l1.1 1.99h-2.21z" stroke="none" stroke-width="0" fill="#111"/>
<text x="440.2" y="505.17" font-size="4.1" font-weight="700" fill="#111" stroke="#111" stroke-width="0.08" textLength="41.3" lengthAdjust="spacingAndGlyphs">EK1,   IC<tspan font-size="3" dy="0.8">50</tspan><tspan dy="-0.8">=248.90 nM</tspan></text>
<path d="M485.7 491.9H491.7" stroke="#7a7a7a" stroke-width="0.6" fill="none"/>
<rect x="487.7" y="490.9" width="2" height="2" fill="#fff" stroke="#7a7a7a" stroke-width="0.55"/>
<text x="494.9" y="493.37" font-size="4.1" font-weight="700" fill="#111" stroke="#111" stroke-width="0.08" textLength="14.9" lengthAdjust="spacingAndGlyphs">EK1-Scr</text>
<text font-size="5.25" font-weight="700" fill="#111" stroke="#111" stroke-width="0.15" textLength="67" lengthAdjust="spacingAndGlyphs" transform="translate(406.28 566) rotate(-90)">Inhibition of HKU5-CoV-2</text>
<text font-size="5.25" font-weight="700" fill="#111" stroke="#111" stroke-width="0.15" textLength="65" lengthAdjust="spacingAndGlyphs" transform="translate(412.48 566) rotate(-90)">pseudovirus  infection (%)</text>
<text x="444.7" y="574.24" font-size="5.15" font-weight="700" fill="#111" stroke="#111" stroke-width="0.15" textLength="47.7" lengthAdjust="spacingAndGlyphs">Concentration (nM)</text></g>
<g><text x="2.6" y="585.4" font-size="12.5" font-weight="700">o</text>
<path d="M36.7 578.3H54.6A7.7 7.7 0 0 1 54.6 593.7H36.7Q34.5 593.7 34.5 591.5V580.5Q34.5 578.3 36.7 578.3Z" stroke="#7a2fd8" stroke-width="1.8" fill="none" stroke-dasharray="0.7 0.75"/>
<path d="M38.2 579.8H54.6A6.2 6.2 0 0 1 54.6 592.2H38.2Q36 592.2 36 590V582Q36 579.8 38.2 579.8Z" stroke="#d0a0a8" stroke-width="0.6" fill="#fff"/>
<path d="M39.26 581.4a1.73 4.6 0 1 0 0.01 0M43.39 581.4a1.73 4.6 0 1 0 0.01 0M47.51 581.4a1.73 4.6 0 1 0 0.01 0M51.64 581.4a1.73 4.6 0 1 0 0.01 0" stroke="#3f9a3f" stroke-width="0.85" fill="none"/>
<text x="68.9" y="585.55" font-size="4.9" font-weight="700" fill="#c0203a" stroke="#c0203a" stroke-width="0.08" textLength="55.1" lengthAdjust="spacingAndGlyphs">Propagation Competent</text>
<text x="68.9" y="591.35" font-size="4.9" font-weight="700" fill="#4a22e6" stroke="#4a22e6" stroke-width="0.08" textLength="44.4" lengthAdjust="spacingAndGlyphs">pcVSV-PnNL2018B</text>
<text x="42.6" y="603.59" font-size="6.4" font-weight="700" fill="#111" stroke="#111" stroke-width="0.15" textLength="16.8" lengthAdjust="spacingAndGlyphs">4,000</text>
<text x="78.9" y="603.59" font-size="6.4" font-weight="700" fill="#111" stroke="#111" stroke-width="0.15" textLength="17.1" lengthAdjust="spacingAndGlyphs">1,000</text>
<text x="118.5" y="603.59" font-size="6.4" font-weight="700" fill="#111" stroke="#111" stroke-width="0.15" textLength="11" lengthAdjust="spacingAndGlyphs">250</text>
<text x="156" y="603.59" font-size="6.4" font-weight="700" fill="#111" stroke="#111" stroke-width="0.15" textLength="13.8" lengthAdjust="spacingAndGlyphs">62.5</text>
<text x="189.1" y="603.59" font-size="6.4" font-weight="700" fill="#111" stroke="#111" stroke-width="0.15" textLength="13.3" lengthAdjust="spacingAndGlyphs">15.6</text>
<text x="224.2" y="603.59" font-size="6.4" font-weight="700" fill="#111" stroke="#111" stroke-width="0.15" textLength="3.8" lengthAdjust="spacingAndGlyphs">0</text>
<text x="231.8" y="604.19" font-size="6.4" font-weight="700" fill="#e02a2a" stroke="#e02a2a" stroke-width="0.15" textLength="10" lengthAdjust="spacingAndGlyphs">pM</text>
<text x="10" y="627.43" font-size="6.8" font-weight="700" fill="#111" stroke="#111" stroke-width="0.15" textLength="18" lengthAdjust="spacingAndGlyphs">GRFT</text>
<text x="6.3" y="665.13" font-size="6.8" font-weight="700" fill="#ee2a2a" stroke="#ee2a2a" stroke-width="0.15" textLength="23.3" lengthAdjust="spacingAndGlyphs">GREK1</text>
<rect x="33.3" y="605.6" width="216.7" height="70.3" fill="#000"/>
<defs><filter id="wbl" x="0" y="0" width="100%" height="100%"><feGaussianBlur stdDeviation="0.45"/></filter></defs>
<clipPath id="wcl"><rect x="33.3" y="605.6" width="216.7" height="70.3"/></clipPath><g clip-path="url(#wcl)"><g filter="url(#wbl)">
<radialGradient id="wg0" cx="51.6" cy="623.7" r="18.7" gradientUnits="userSpaceOnUse"><stop offset="0" stop-color="#277d1b"/><stop offset="0.72" stop-color="#277d1b"/><stop offset="1" stop-color="#1a5c14"/></radialGradient>
<ellipse cx="51.6" cy="623.7" rx="18.1" ry="17.6" fill="url(#wg0)"/>
<circle cx="51.6" cy="624.9" r="15.9" fill="none" stroke="#3fa52e" stroke-width="0.8" opacity="0.12"/>
<path d="M39.7 627.4h.01M67.5 628.0h.01M40.9 626.2h.01M68.2 623.5h.01M50.5 628.0h.01M59.8 628.7h.01M54.9 626.1h.01M53.6 632.1h.01M54.6 615.1h.01M54.1 633.8h.01M48.3 619.6h.01M53.5 631.9h.01M56.9 637.0h.01M56.9 639.0h.01M49.2 615.6h.01" stroke="#35a828" stroke-width="1" stroke-linecap="round" fill="none"/>
<path d="M40.0 626.2h.01M56.3 634.6h.01M64.2 631.8h.01M38.4 622.1h.01M39.2 632.6h.01M55.6 639.0h.01M57.0 634.9h.01M48.1 619.3h.01M43.5 617.7h.01M62.8 620.8h.01M37.3 618.1h.01M60.2 624.6h.01M58.1 626.3h.01" stroke="#46da34" stroke-width="0.8" stroke-linecap="round" fill="none"/>
<path d="M53.0 618.8h.01M44.2 613.0h.01M63.6 624.8h.01M54.6 631.3h.01M45.7 614.1h.01M49.2 614.7h.01M66.4 619.7h.01M62.0 622.4h.01M41.5 613.1h.01M51.9 618.0h.01M56.8 636.9h.01M47.3 631.6h.01M62.3 630.5h.01M56.3 618.4h.01M64.2 615.5h.01M43.0 617.2h.01M67.4 627.6h.01M44.2 618.6h.01M50.8 619.4h.01M48.6 639.3h.01" stroke="#46da34" stroke-width="1.25" stroke-linecap="round" fill="none"/>
<radialGradient id="wg1" cx="87.7" cy="623.7" r="18.7" gradientUnits="userSpaceOnUse"><stop offset="0" stop-color="#1f6c17"/><stop offset="0.72" stop-color="#1f6c17"/><stop offset="1" stop-color="#154a10"/></radialGradient>
<ellipse cx="87.7" cy="623.7" rx="18.1" ry="17.6" fill="url(#wg1)"/>
<circle cx="87.7" cy="624.9" r="15.9" fill="none" stroke="#3fa52e" stroke-width="0.8" opacity="0.12"/>
<path d="M82.3 621.1h.01M100.3 614.7h.01M73.6 629.2h.01M98.9 616.2h.01M79.5 615.4h.01M83.8 612.4h.01M96.3 618.2h.01M78.8 612.8h.01M79.1 620.3h.01M98.9 628.6h.01M92.3 621.4h.01M84.0 627.4h.01M89.4 619.4h.01M99.2 615.1h.01M87.9 616.5h.01M90.1 619.9h.01M74.0 625.0h.01M84.5 632.5h.01M74.1 617.9h.01M83.6 608.4h.01M80.1 614.4h.01M92.4 613.2h.01M96.0 618.7h.01M79.9 624.6h.01M92.9 631.6h.01M86.4 635.8h.01M85.9 616.9h.01M95.2 631.1h.01M75.4 617.3h.01M80.4 632.3h.01M76.2 619.1h.01M98.5 634.2h.01M100.9 626.9h.01M99.2 615.4h.01M81.3 628.6h.01M73.3 617.3h.01M101.6 616.4h.01M80.8 632.8h.01M81.0 619.4h.01M89.3 619.1h.01M86.5 638.5h.01M86.5 636.4h.01M80.0 621.1h.01M95.2 610.0h.01M85.7 614.4h.01M76.2 630.1h.01M71.2 625.4h.01M98.6 611.3h.01M91.0 626.8h.01M89.4 623.3h.01M91.4 610.0h.01M81.5 636.7h.01M93.6 621.0h.01M87.0 614.4h.01M75.1 632.6h.01M84.9 620.2h.01M96.6 612.2h.01M81.9 624.9h.01M80.1 617.4h.01M84.3 638.8h.01M77.5 613.7h.01M72.9 627.6h.01M86.1 623.8h.01M84.7 637.0h.01M92.4 615.4h.01M90.9 610.8h.01M99.6 617.8h.01M80.2 619.9h.01M87.8 618.4h.01M78.6 620.7h.01M89.1 608.9h.01M72.2 622.8h.01M89.0 615.3h.01M97.7 631.2h.01M90.3 624.9h.01M82.6 611.8h.01M90.2 623.0h.01M83.2 612.6h.01M87.9 623.3h.01M86.9 635.7h.01M103.2 619.8h.01M81.6 634.7h.01M94.1 614.4h.01M81.0 617.1h.01M79.8 637.5h.01M88.9 636.3h.01M85.6 634.5h.01M76.2 624.4h.01M91.3 615.3h.01M99.5 625.4h.01M91.1 608.6h.01M99.8 623.5h.01M85.0 609.8h.01M89.3 612.6h.01M87.2 614.7h.01M84.2 611.8h.01M98.3 615.3h.01M73.0 616.9h.01M84.2 618.4h.01M100.9 627.7h.01M80.5 619.0h.01" stroke="#35a828" stroke-width="1" stroke-linecap="round" fill="none"/>
<path d="M92.0 608.4h.01M95.9 614.2h.01M76.5 617.3h.01M81.4 635.7h.01M79.4 626.4h.01M80.1 615.7h.01M80.8 624.8h.01M86.1 616.9h.01M92.4 608.3h.01M93.7 616.0h.01M91.8 628.6h.01M78.5 625.1h.01M94.9 624.7h.01M98.9 632.4h.01M87.7 631.1h.01M76.0 613.8h.01M93.6 609.1h.01M92.3 619.8h.01M74.7 630.7h.01M86.8 621.7h.01M101.6 615.1h.01M92.6 626.0h.01M73.6 627.1h.01M81.6 627.8h.01M83.4 608.9h.01M87.2 609.1h.01M89.3 609.3h.01M90.2 623.4h.01M103.1 628.2h.01M80.7 613.4h.01M92.9 611.9h.01M80.5 625.8h.01M82.7 612.2h.01M82.2 612.7h.01M80.2 624.7h.01M77.3 613.5h.01M86.9 638.6h.01M97.1 623.1h.01M91.0 620.4h.01M84.7 615.4h.01M86.2 613.8h.01M94.2 618.6h.01M94.2 617.7h.01M79.0 611.6h.01M88.8 619.0h.01M88.9 611.8h.01M78.2 628.8h.01M96.3 627.1h.01M88.8 616.8h.01M90.8 630.8h.01M94.5 636.5h.01M91.0 613.9h.01M87.8 625.4h.01M89.8 619.4h.01M96.0 636.4h.01M95.9 627.9h.01M78.9 634.3h.01M86.7 622.2h.01M102.5 622.9h.01M84.8 632.9h.01M92.9 627.1h.01M89.3 608.7h.01M85.9 624.8h.01M85.9 622.3h.01M84.5 619.3h.01M89.3 608.0h.01M82.7 616.0h.01M78.2 631.9h.01M86.6 636.2h.01M78.5 617.0h.01M82.3 610.3h.01M97.7 616.9h.01M95.5 618.4h.01M83.6 612.4h.01M74.6 630.8h.01M95.9 623.7h.01M97.3 613.5h.01M98.7 622.5h.01M94.4 636.7h.01M91.1 609.3h.01M99.3 625.0h.01M91.7 631.1h.01M94.9 610.8h.01M94.0 623.2h.01M94.3 631.8h.01M85.2 621.6h.01M76.9 633.7h.01M90.2 634.8h.01M90.6 633.6h.01M85.1 608.1h.01M95.2 634.1h.01M76.8 629.3h.01M92.2 629.7h.01M102.6 619.4h.01M86.5 630.2h.01M81.8 632.7h.01M79.9 630.0h.01M86.7 637.2h.01M75.5 613.0h.01M93.6 625.2h.01M77.7 620.9h.01M80.5 613.8h.01M95.7 609.4h.01M90.7 617.8h.01M78.4 619.8h.01M79.8 622.0h.01M90.3 620.9h.01M96.0 611.1h.01M89.6 618.1h.01M88.5 630.8h.01M102.9 617.8h.01M90.2 626.0h.01M76.6 620.7h.01M92.4 609.3h.01M81.6 617.5h.01M84.5 626.1h.01M100.2 625.6h.01M95.5 618.4h.01M87.3 616.1h.01M81.3 632.5h.01M73.0 630.6h.01M85.8 617.0h.01M96.6 620.7h.01M78.1 632.9h.01M99.4 613.7h.01M83.6 613.3h.01M77.0 618.4h.01M90.6 618.8h.01M102.5 630.9h.01M97.8 613.8h.01M85.8 624.6h.01M81.7 617.3h.01M82.6 610.4h.01M79.8 635.2h.01M72.6 629.6h.01M94.3 618.6h.01M94.3 609.9h.01M100.4 632.9h.01M80.4 632.3h.01M98.0 628.3h.01M91.0 639.9h.01M85.9 609.2h.01M89.7 622.1h.01M83.9 634.9h.01M84.9 623.2h.01M99.8 634.0h.01M87.2 633.8h.01M89.8 620.2h.01M81.4 628.3h.01M83.2 634.3h.01M79.2 633.3h.01M77.8 615.6h.01M87.9 611.1h.01M74.3 629.0h.01M82.4 625.9h.01M94.4 620.1h.01M84.8 624.2h.01M80.4 609.5h.01M76.5 633.2h.01M94.1 634.7h.01M93.1 615.4h.01M89.2 631.0h.01M86.9 632.0h.01M95.6 613.4h.01M78.1 634.9h.01M82.1 638.1h.01M81.6 609.6h.01M98.4 629.3h.01M80.6 633.0h.01M77.7 629.4h.01M93.7 630.5h.01M102.7 621.4h.01M90.9 631.0h.01M85.7 610.2h.01M89.6 614.2h.01M72.9 626.0h.01M91.8 622.0h.01M94.5 627.5h.01M91.3 612.5h.01M86.8 636.7h.01M78.3 618.5h.01M97.1 611.3h.01M96.6 622.8h.01M80.1 615.4h.01M80.2 614.8h.01M71.7 626.4h.01M82.0 610.4h.01M102.3 617.7h.01M79.3 612.5h.01M83.9 613.4h.01M74.9 617.3h.01M82.3 611.9h.01M102.4 619.3h.01M81.1 638.8h.01M78.2 626.9h.01M82.5 635.7h.01M102.3 621.5h.01M80.1 612.4h.01M86.9 636.7h.01M93.1 614.8h.01M97.3 634.8h.01M96.0 621.0h.01M80.0 633.2h.01M79.6 637.0h.01M97.3 636.9h.01M84.7 617.5h.01M89.2 633.6h.01M85.4 617.1h.01M85.5 631.9h.01" stroke="#46da34" stroke-width="0.8" stroke-linecap="round" fill="none"/>
<path d="M82.3 620.6h.01M75.7 613.2h.01M83.4 636.7h.01M78.2 632.1h.01M83.8 608.0h.01M98.8 622.4h.01M93.8 624.4h.01M91.6 616.6h.01M93.4 608.5h.01M73.9 619.2h.01M71.5 624.5h.01M95.3 619.7h.01M88.3 611.9h.01M75.2 622.5h.01M96.5 627.9h.01M87.3 634.2h.01M75.0 621.6h.01M87.1 625.6h.01M90.5 610.9h.01M101.1 615.8h.01M97.5 631.0h.01M97.2 618.5h.01M80.9 631.6h.01M91.6 620.8h.01M87.3 610.3h.01M97.9 623.1h.01M74.0 615.7h.01M81.2 619.3h.01M91.8 610.3h.01M88.7 636.1h.01M83.5 621.0h.01M91.3 609.1h.01M82.5 618.4h.01M92.5 635.0h.01M95.1 624.5h.01M83.4 635.7h.01M76.6 627.6h.01M99.0 622.1h.01M93.3 638.2h.01M97.9 619.5h.01M82.8 636.8h.01M83.3 616.1h.01M100.0 627.3h.01M73.8 616.9h.01M88.2 630.0h.01M88.9 609.5h.01M92.7 635.0h.01M82.0 630.3h.01M85.8 615.3h.01M97.5 627.2h.01M89.0 632.6h.01M96.9 629.5h.01M94.5 635.4h.01M84.0 611.9h.01M78.4 625.5h.01M80.0 616.4h.01M77.2 636.3h.01M89.5 637.3h.01M92.9 634.4h.01M90.7 613.7h.01M93.4 623.5h.01M89.7 617.7h.01M95.3 620.3h.01M86.7 625.8h.01M82.1 630.0h.01M94.9 617.9h.01M86.6 616.8h.01M83.3 634.8h.01M79.0 633.7h.01M84.7 617.4h.01M72.7 620.2h.01M89.6 617.5h.01M83.7 625.0h.01M83.8 616.5h.01M91.1 627.3h.01M89.1 615.6h.01M98.1 621.3h.01M93.6 610.8h.01M98.0 626.8h.01M80.8 632.2h.01M73.4 622.2h.01M81.5 613.1h.01M97.1 617.7h.01M87.5 632.7h.01M79.1 624.5h.01M75.2 623.3h.01M89.2 639.2h.01M100.5 630.6h.01M78.0 626.6h.01M96.5 626.5h.01M88.8 607.8h.01M84.6 625.9h.01M87.0 616.1h.01M88.5 625.6h.01M98.2 618.1h.01M78.0 623.5h.01M84.1 609.2h.01M85.1 620.4h.01M103.1 622.0h.01M83.6 612.5h.01M88.2 633.2h.01M80.9 615.5h.01M93.7 626.0h.01M90.7 621.2h.01M90.4 626.5h.01M97.0 628.3h.01M88.8 609.4h.01M82.2 609.6h.01M95.3 620.3h.01M75.5 620.3h.01M90.4 620.5h.01M84.5 614.8h.01M78.5 620.0h.01" stroke="#46da34" stroke-width="1.25" stroke-linecap="round" fill="none"/>
<radialGradient id="wg2" cx="123.8" cy="623.7" r="18.7" gradientUnits="userSpaceOnUse"><stop offset="0" stop-color="#1f6c17"/><stop offset="0.72" stop-color="#1f6c17"/><stop offset="1" stop-color="#154a10"/></radialGradient>
<ellipse cx="123.8" cy="623.7" rx="18.1" ry="17.6" fill="url(#wg2)"/>
<circle cx="123.8" cy="624.9" r="15.9" fill="none" stroke="#3fa52e" stroke-width="0.8" opacity="0.12"/>
<path d="M112.1 626.0h.01M117.8 620.3h.01M134.5 631.6h.01M120.2 623.0h.01M125.5 626.4h.01M120.2 627.0h.01M127.2 632.7h.01M114.9 618.3h.01M132.4 625.9h.01M118.1 619.2h.01M121.2 617.8h.01M117.8 624.3h.01M111.6 628.0h.01M114.7 616.8h.01M127.2 636.6h.01M136.1 623.8h.01M129.0 614.9h.01M121.5 629.4h.01M124.6 615.8h.01M130.0 627.3h.01M109.2 626.3h.01M112.9 619.7h.01M120.2 610.0h.01M117.8 635.6h.01M133.3 624.4h.01M138.6 623.8h.01M122.8 620.6h.01M118.9 629.1h.01M126.1 625.4h.01M120.2 622.7h.01M132.0 627.4h.01M132.9 611.0h.01M125.9 633.2h.01M113.2 626.6h.01M121.4 636.4h.01M135.6 632.3h.01M122.4 609.7h.01M136.9 631.8h.01M111.1 629.0h.01M132.6 626.8h.01M116.4 624.5h.01M123.9 607.1h.01M116.7 621.8h.01M124.9 629.5h.01M111.1 628.1h.01M127.0 620.7h.01M111.8 616.5h.01M129.4 632.6h.01M117.6 635.3h.01M132.5 626.0h.01M122.3 617.1h.01M133.9 621.7h.01M122.1 619.3h.01M120.6 623.4h.01M126.3 625.8h.01M118.3 617.9h.01M131.4 612.1h.01M130.7 624.1h.01M124.5 615.1h.01M114.9 620.7h.01M130.1 617.2h.01M133.4 628.7h.01M120.0 626.1h.01M124.0 626.5h.01M135.6 628.2h.01M112.9 627.4h.01M118.4 624.8h.01M114.8 616.0h.01M130.7 627.0h.01M130.8 620.1h.01M133.7 622.5h.01M123.0 614.0h.01M128.2 625.5h.01M128.1 629.5h.01M125.5 630.8h.01M133.6 624.1h.01M126.1 632.8h.01M121.3 621.6h.01M133.9 626.8h.01M123.3 638.1h.01M127.1 621.5h.01M133.9 622.7h.01M124.7 628.2h.01M130.5 629.5h.01M120.0 613.9h.01" stroke="#35a828" stroke-width="1" stroke-linecap="round" fill="none"/>
<path d="M119.6 612.7h.01M118.7 610.3h.01M130.2 624.2h.01M120.3 616.8h.01M127.0 622.3h.01M119.8 623.9h.01M117.2 630.6h.01M129.9 620.1h.01M119.5 618.4h.01M119.2 628.2h.01M115.1 631.1h.01M122.9 608.3h.01M114.7 610.2h.01M136.0 628.7h.01M132.3 623.0h.01M129.5 637.9h.01M133.7 619.4h.01M128.7 625.6h.01M130.1 615.7h.01M134.9 628.4h.01M128.2 615.0h.01M116.2 615.3h.01M119.8 623.4h.01M113.4 624.8h.01M121.0 617.9h.01M126.3 625.7h.01M136.2 619.6h.01M136.0 615.3h.01M129.3 617.5h.01M136.6 621.6h.01M113.8 632.4h.01M127.2 611.3h.01M116.2 618.2h.01M134.3 634.3h.01M132.7 621.3h.01M112.4 616.4h.01M127.1 634.5h.01M128.6 627.5h.01M133.4 617.6h.01M125.6 612.9h.01M125.3 621.2h.01M123.0 614.6h.01M128.4 637.9h.01M125.7 619.7h.01M115.6 620.1h.01M131.0 616.8h.01M110.9 614.5h.01M112.3 635.1h.01M120.8 623.2h.01M131.7 631.5h.01M131.2 629.8h.01M124.9 631.8h.01M125.6 620.8h.01M116.5 625.5h.01M118.6 622.1h.01M124.1 631.6h.01M122.3 610.8h.01M136.0 629.6h.01M135.0 623.0h.01M116.1 622.2h.01M130.9 618.2h.01M122.6 635.8h.01M123.6 619.8h.01M123.5 638.8h.01M121.3 618.6h.01M130.0 626.3h.01M124.9 630.0h.01M137.0 628.0h.01M133.8 630.6h.01M119.1 622.1h.01M120.0 618.9h.01M129.8 630.6h.01M122.0 636.6h.01M135.1 620.2h.01M134.1 628.2h.01M114.2 619.2h.01M129.1 625.9h.01M121.4 621.0h.01M123.6 627.3h.01M116.5 619.5h.01M115.6 619.0h.01M122.3 616.0h.01M132.3 620.7h.01M110.9 625.3h.01M120.9 616.6h.01M124.8 614.8h.01M117.6 612.9h.01M117.1 624.5h.01M131.7 637.2h.01M117.3 625.4h.01M127.6 619.6h.01M122.2 630.1h.01M112.4 629.8h.01M123.3 626.5h.01M135.3 616.4h.01M135.9 617.2h.01M132.4 635.0h.01M133.6 621.5h.01M116.0 621.0h.01M115.3 616.9h.01M118.7 608.9h.01M122.7 625.0h.01M128.9 634.3h.01M108.8 624.1h.01M129.1 630.2h.01M131.3 613.9h.01M116.1 630.4h.01M112.9 630.3h.01M131.0 612.6h.01M134.5 620.7h.01M133.3 621.1h.01M116.0 609.6h.01M126.4 612.2h.01M126.3 618.9h.01M110.5 620.3h.01M116.4 634.9h.01M135.0 625.5h.01M115.1 616.0h.01M123.6 610.8h.01M120.8 620.3h.01M135.0 622.0h.01M122.2 626.0h.01M124.2 616.9h.01M125.6 632.2h.01M127.2 617.0h.01M126.5 624.6h.01M119.6 622.5h.01M121.2 631.1h.01M121.7 636.5h.01M128.4 622.8h.01M130.7 620.1h.01M115.9 629.5h.01M119.4 623.3h.01M116.4 621.9h.01M122.7 620.1h.01M126.5 630.2h.01M129.1 609.3h.01M122.9 622.8h.01M128.8 633.2h.01M121.6 630.6h.01M128.0 607.8h.01M117.9 609.9h.01M113.2 611.8h.01M130.9 632.0h.01M119.9 623.2h.01M133.5 632.5h.01M131.1 628.6h.01M114.7 610.5h.01M116.5 619.6h.01M128.6 629.0h.01M126.5 624.0h.01M118.6 617.7h.01M125.4 611.6h.01M128.0 618.1h.01M125.1 614.8h.01M118.6 620.9h.01M121.5 611.4h.01M126.5 609.9h.01M125.7 619.0h.01M122.3 609.5h.01M118.1 629.6h.01M117.8 626.5h.01M114.9 616.1h.01M124.1 618.6h.01M120.0 620.0h.01M115.2 616.4h.01M129.5 617.2h.01M124.4 629.0h.01M134.6 612.9h.01M117.1 616.6h.01M109.3 626.7h.01M112.9 615.8h.01M116.8 611.2h.01M125.3 622.3h.01M127.0 610.2h.01M135.1 618.3h.01M137.0 617.9h.01M109.9 630.0h.01M127.0 618.0h.01M124.1 617.0h.01M139.1 627.1h.01M132.7 620.8h.01M124.8 621.4h.01M125.2 610.3h.01M137.3 620.6h.01M117.6 610.5h.01" stroke="#46da34" stroke-width="0.8" stroke-linecap="round" fill="none"/>
<path d="M124.2 626.1h.01M127.6 611.2h.01M137.0 616.1h.01M121.5 609.4h.01M125.6 617.8h.01M127.5 616.2h.01M107.5 624.2h.01M135.6 616.9h.01M125.0 611.3h.01M123.1 619.1h.01M123.1 620.0h.01M111.0 614.2h.01M122.1 630.8h.01M123.5 624.2h.01M121.0 620.5h.01M127.6 636.2h.01M131.6 625.0h.01M127.4 623.7h.01M123.8 619.5h.01M135.8 615.1h.01M122.2 612.5h.01M117.6 615.8h.01M120.5 633.4h.01M113.7 611.7h.01M116.9 632.8h.01M120.5 630.1h.01M127.9 626.6h.01M129.1 627.2h.01M130.5 609.1h.01M121.5 614.5h.01M133.7 626.6h.01M118.7 628.4h.01M120.1 623.5h.01M119.5 630.4h.01M123.3 627.4h.01M125.9 625.6h.01M134.4 613.6h.01M122.9 625.8h.01M122.0 608.6h.01M120.3 614.3h.01M131.3 629.0h.01M120.5 626.6h.01M128.7 613.1h.01M113.5 629.9h.01M112.1 612.4h.01M130.9 611.4h.01M120.9 627.5h.01M125.0 631.0h.01M124.1 624.7h.01M128.1 611.5h.01M132.1 614.5h.01M130.6 620.5h.01M125.0 625.4h.01M126.3 625.9h.01M118.4 612.5h.01M130.6 627.7h.01M125.4 628.1h.01M116.4 616.6h.01M125.1 621.8h.01M121.9 636.3h.01M112.4 627.0h.01M120.5 619.5h.01M128.5 627.3h.01M118.7 622.0h.01M123.3 617.2h.01M122.0 620.7h.01M114.2 616.4h.01M138.3 621.2h.01M128.7 630.4h.01M120.9 617.3h.01M121.5 619.2h.01M121.4 630.4h.01M129.3 626.7h.01M122.4 610.9h.01M114.9 622.5h.01M113.0 629.0h.01M128.1 631.1h.01M131.9 627.1h.01M122.4 636.8h.01M118.7 631.6h.01M121.8 619.5h.01M117.5 620.9h.01M137.6 628.1h.01M118.5 618.6h.01M116.2 621.1h.01M122.2 627.7h.01M120.8 610.8h.01M122.8 628.9h.01M115.3 619.7h.01M111.4 618.4h.01M111.7 616.5h.01M119.6 633.5h.01M139.4 624.5h.01M133.5 629.4h.01M131.6 625.7h.01M132.2 630.9h.01M128.5 613.2h.01M129.3 618.8h.01M120.0 632.5h.01M112.9 612.2h.01M116.4 616.4h.01M125.8 637.4h.01M135.7 625.0h.01M139.6 622.2h.01M133.3 618.1h.01M124.8 620.7h.01M120.7 617.1h.01" stroke="#46da34" stroke-width="1.25" stroke-linecap="round" fill="none"/>
<radialGradient id="wg3" cx="159.9" cy="623.7" r="18.7" gradientUnits="userSpaceOnUse"><stop offset="0" stop-color="#1f6c17"/><stop offset="0.72" stop-color="#1f6c17"/><stop offset="1" stop-color="#154a10"/></radialGradient>
<ellipse cx="159.9" cy="623.7" rx="18.1" ry="17.6" fill="url(#wg3)"/>
<circle cx="159.9" cy="624.9" r="15.9" fill="none" stroke="#3fa52e" stroke-width="0.8" opacity="0.12"/>
<path d="M160.6 628.2h.01M168.7 610.7h.01M150.8 632.0h.01M154.9 633.3h.01M158.8 609.5h.01M148.4 629.4h.01M144.9 625.3h.01M148.2 620.2h.01M156.2 637.3h.01M169.3 618.9h.01M160.1 618.3h.01M152.3 625.0h.01M175.8 628.1h.01M167.0 619.4h.01M147.8 635.0h.01M165.6 620.3h.01M171.8 625.2h.01M158.2 630.7h.01M168.4 613.0h.01M153.3 630.4h.01M159.7 630.9h.01M156.8 627.1h.01M165.8 615.7h.01M162.2 616.7h.01M157.7 639.5h.01M158.3 621.8h.01M163.3 637.0h.01M149.6 619.5h.01M146.8 619.2h.01M165.7 628.5h.01M155.1 630.1h.01M172.0 621.3h.01M160.1 621.5h.01M161.6 630.6h.01M156.7 620.4h.01M167.7 621.6h.01M146.2 615.0h.01M149.4 635.2h.01M160.2 616.6h.01M173.8 627.7h.01M149.6 627.9h.01M168.5 631.3h.01M155.9 612.1h.01M151.7 632.7h.01M159.2 625.6h.01M149.0 631.7h.01M155.4 629.1h.01M160.6 632.8h.01M143.9 623.8h.01M153.8 612.8h.01M162.9 634.1h.01M156.9 620.5h.01M155.3 623.5h.01M167.6 622.7h.01M161.5 613.3h.01M151.2 616.9h.01M164.4 631.9h.01M165.7 623.2h.01M166.0 619.7h.01M155.6 612.1h.01M170.0 620.2h.01M161.9 632.3h.01M167.6 625.0h.01M157.6 622.0h.01M162.3 617.2h.01M173.1 621.4h.01M160.6 629.3h.01M160.1 618.7h.01M160.5 625.3h.01M152.2 632.5h.01M158.4 625.8h.01M168.6 629.8h.01M159.4 633.7h.01M161.6 628.0h.01M159.8 625.8h.01M159.7 630.9h.01M145.7 620.8h.01M159.7 624.9h.01M155.1 635.7h.01M158.6 619.9h.01M172.4 631.0h.01M157.4 633.3h.01M151.5 631.3h.01M162.0 621.1h.01M156.2 633.0h.01M165.6 615.2h.01M153.5 621.5h.01M165.8 631.6h.01M163.5 617.9h.01M149.1 630.3h.01M161.6 621.0h.01M165.6 624.1h.01M149.1 625.6h.01M145.5 623.2h.01M169.3 630.1h.01M152.8 626.5h.01M166.2 627.5h.01M158.5 634.4h.01M171.4 618.3h.01M174.2 616.7h.01M169.0 625.3h.01M152.5 611.4h.01M149.0 616.9h.01M163.6 633.1h.01M159.0 612.6h.01M160.3 627.5h.01M164.5 632.4h.01M169.3 631.0h.01M148.5 626.4h.01M169.4 620.4h.01M159.6 612.5h.01M159.2 623.2h.01M167.6 628.3h.01" stroke="#35a828" stroke-width="1" stroke-linecap="round" fill="none"/>
<path d="M167.3 614.6h.01M169.0 629.0h.01M154.8 612.9h.01M171.0 627.2h.01M159.0 616.4h.01M162.3 623.3h.01M170.1 619.6h.01M151.0 623.1h.01M150.8 634.7h.01M168.8 616.4h.01M160.9 629.6h.01M163.5 626.8h.01M161.5 639.9h.01M152.1 632.9h.01M148.7 625.5h.01M166.7 629.9h.01M163.7 638.6h.01M165.1 621.6h.01M162.8 620.6h.01M171.3 626.5h.01M168.3 622.8h.01M173.1 624.3h.01M164.0 630.5h.01M161.7 610.5h.01M163.0 620.8h.01M168.9 615.3h.01M161.3 611.9h.01M173.1 622.0h.01M148.7 619.0h.01M167.6 618.5h.01M156.7 615.8h.01M151.2 623.2h.01M164.7 616.8h.01M159.1 633.9h.01M167.6 614.3h.01M154.6 621.7h.01M154.4 627.2h.01M163.1 617.5h.01M171.3 634.8h.01M157.5 618.2h.01M149.9 630.8h.01M146.6 629.9h.01M154.7 630.1h.01M165.9 624.3h.01M153.3 633.7h.01M157.4 609.9h.01M175.3 625.0h.01M154.3 618.1h.01M167.1 616.0h.01M172.1 624.1h.01M168.8 620.9h.01M161.1 634.8h.01M164.9 634.3h.01M171.1 618.3h.01M158.4 638.4h.01M154.2 610.8h.01M166.0 632.5h.01M157.5 632.7h.01M154.4 621.1h.01M162.9 638.5h.01M146.0 626.9h.01M159.9 627.3h.01M154.0 627.0h.01M157.8 618.8h.01M153.0 622.8h.01M157.6 612.1h.01M155.8 622.0h.01M170.9 623.5h.01M157.8 630.1h.01M151.6 609.7h.01M147.2 620.2h.01M164.1 623.7h.01M164.5 636.8h.01M166.7 635.1h.01M168.4 610.5h.01M161.4 623.9h.01M162.7 626.7h.01M172.4 620.8h.01M151.4 624.2h.01M155.6 634.8h.01M155.6 638.4h.01M166.3 615.4h.01M146.4 621.9h.01M167.4 620.6h.01M174.3 615.9h.01M162.6 612.3h.01M143.8 626.7h.01M148.2 617.1h.01M145.0 618.1h.01M167.6 624.8h.01M158.0 625.5h.01M151.1 622.5h.01M145.7 619.4h.01M150.5 617.1h.01M145.5 629.4h.01M155.1 617.3h.01M157.0 622.7h.01M157.6 633.6h.01M156.7 623.1h.01M173.0 617.3h.01M155.5 615.6h.01M165.0 614.5h.01M163.1 625.7h.01M146.8 624.4h.01M166.4 624.0h.01M147.1 624.1h.01M173.2 617.1h.01M153.1 634.6h.01M174.2 626.3h.01M156.7 620.3h.01M160.3 613.2h.01M174.6 630.0h.01M166.3 624.6h.01M166.4 638.9h.01M157.4 637.5h.01M160.3 638.9h.01M157.1 635.9h.01M163.2 614.2h.01M155.0 634.5h.01M162.1 621.8h.01M157.5 611.0h.01M150.1 618.0h.01M163.2 609.7h.01M162.6 634.4h.01M157.1 629.0h.01M160.7 624.1h.01M159.5 615.9h.01M176.2 622.3h.01M163.4 611.6h.01M159.0 634.4h.01M169.4 616.5h.01M170.7 619.2h.01M162.0 632.0h.01M166.4 618.4h.01M150.1 624.4h.01M150.9 623.1h.01M160.8 617.9h.01M164.1 625.4h.01M145.7 628.6h.01M163.8 622.6h.01M163.0 630.6h.01M163.4 633.2h.01M148.3 616.2h.01M155.4 620.1h.01M160.1 616.6h.01M157.5 619.2h.01M164.5 639.4h.01M158.3 609.2h.01M150.3 618.2h.01M158.9 628.3h.01M150.5 636.8h.01M156.1 634.8h.01M167.3 618.2h.01M169.9 624.7h.01M144.6 621.3h.01M157.1 609.5h.01M163.8 609.9h.01M160.3 636.6h.01M157.9 617.7h.01M165.3 614.3h.01M170.0 626.8h.01M170.7 616.6h.01M155.6 625.5h.01M151.7 622.2h.01M162.1 617.6h.01M166.6 617.7h.01M158.3 634.5h.01M152.4 622.9h.01M172.0 633.3h.01M163.8 622.2h.01M150.6 619.2h.01M169.5 620.6h.01M160.3 615.5h.01M153.9 613.7h.01M172.1 633.0h.01M170.6 631.3h.01M151.4 621.9h.01M165.7 634.2h.01M162.2 629.7h.01M154.2 624.1h.01M167.5 610.6h.01M163.4 622.3h.01M172.4 615.7h.01M150.9 612.2h.01M168.3 630.6h.01M149.9 630.2h.01M172.3 630.0h.01M150.4 626.3h.01M172.7 617.2h.01M151.5 627.6h.01" stroke="#46da34" stroke-width="0.8" stroke-linecap="round" fill="none"/>
<path d="M171.9 622.0h.01M159.2 610.7h.01M157.4 619.3h.01M155.8 618.3h.01M143.9 626.9h.01M153.3 616.2h.01M169.5 618.2h.01M164.9 621.6h.01M145.8 629.4h.01M170.0 622.8h.01M155.3 619.9h.01M155.1 616.4h.01M159.1 625.7h.01M169.4 624.6h.01M158.5 634.7h.01M158.1 625.8h.01M158.3 621.3h.01M162.8 625.3h.01M155.9 611.8h.01M167.0 636.1h.01M165.6 636.0h.01M162.1 607.8h.01M168.1 628.4h.01M152.8 630.8h.01M158.4 620.7h.01M153.0 622.9h.01M155.8 623.6h.01M164.7 628.7h.01M157.7 624.6h.01M148.8 627.7h.01M170.2 631.8h.01M157.4 637.0h.01M169.3 624.5h.01M149.9 612.1h.01M170.1 630.0h.01M165.4 632.9h.01M159.3 621.4h.01M166.6 611.4h.01M171.0 623.2h.01M165.2 632.2h.01M164.1 619.2h.01M166.5 625.9h.01M157.9 613.5h.01M164.3 614.8h.01M153.6 624.9h.01M157.5 635.7h.01M174.6 624.9h.01M147.3 617.8h.01M158.1 635.1h.01M159.2 632.9h.01M149.0 613.4h.01M148.0 621.1h.01M164.6 625.6h.01M165.6 624.6h.01M156.0 621.2h.01M161.2 620.5h.01M159.9 624.0h.01M159.3 629.7h.01M156.5 629.7h.01M171.7 621.9h.01M167.2 624.9h.01M157.9 625.5h.01M158.6 628.8h.01M170.7 628.1h.01M165.7 633.9h.01M173.5 615.8h.01M173.1 623.3h.01M149.1 618.4h.01M161.4 621.2h.01M152.9 633.6h.01M159.7 620.7h.01M169.3 624.0h.01M166.8 637.9h.01M172.9 631.4h.01M154.9 623.9h.01M152.4 625.1h.01M161.7 634.5h.01M152.7 630.7h.01M172.5 621.1h.01M164.6 614.2h.01M145.2 627.4h.01M151.0 620.7h.01M176.4 622.7h.01M162.1 627.0h.01M160.2 617.4h.01M150.3 624.0h.01M152.7 616.8h.01M152.9 635.9h.01M153.3 613.5h.01M163.4 617.4h.01M161.9 630.3h.01M159.4 630.2h.01M151.7 628.7h.01M156.3 626.2h.01M159.5 617.9h.01M170.7 631.9h.01M148.3 627.8h.01M171.3 634.0h.01M162.1 615.9h.01M161.1 636.8h.01M151.5 615.8h.01M166.0 626.2h.01M151.3 631.0h.01M147.9 616.1h.01M159.0 632.3h.01M165.3 626.8h.01M174.6 618.6h.01M162.9 610.9h.01M161.1 621.5h.01M161.6 612.1h.01M159.3 631.0h.01M168.8 612.9h.01M147.8 630.0h.01M160.8 616.5h.01M164.7 608.5h.01M163.3 608.8h.01M151.5 618.6h.01M162.1 633.6h.01M153.7 619.4h.01M168.7 628.3h.01M154.5 626.0h.01M147.9 629.3h.01M168.3 617.8h.01M173.9 619.4h.01M150.3 623.9h.01" stroke="#46da34" stroke-width="1.25" stroke-linecap="round" fill="none"/>
<radialGradient id="wg4" cx="196" cy="623.7" r="18.7" gradientUnits="userSpaceOnUse"><stop offset="0" stop-color="#1f6c17"/><stop offset="0.72" stop-color="#1f6c17"/><stop offset="1" stop-color="#154a10"/></radialGradient>
<ellipse cx="196" cy="623.7" rx="18.1" ry="17.6" fill="url(#wg4)"/>
<circle cx="196" cy="624.9" r="15.9" fill="none" stroke="#3fa52e" stroke-width="0.8" opacity="0.12"/>
<path d="M200.3 613.3h.01M188.3 634.1h.01M200.6 636.8h.01M198.8 635.2h.01M198.1 639.0h.01M196.1 627.7h.01M184.8 630.3h.01M199.6 639.2h.01M203.1 629.0h.01M182.4 632.7h.01M208.7 625.3h.01M194.3 636.1h.01M204.3 635.2h.01M189.9 636.3h.01M195.3 618.0h.01M194.8 625.0h.01M204.8 626.5h.01M191.4 610.2h.01M186.8 611.8h.01M201.7 620.2h.01M198.4 619.0h.01M195.0 623.7h.01M187.8 637.4h.01M195.3 619.6h.01M200.8 621.6h.01M205.4 621.7h.01M188.0 622.7h.01M200.5 615.6h.01M194.6 628.2h.01M207.8 630.6h.01M199.8 621.6h.01M199.7 611.4h.01M188.5 633.2h.01M203.0 623.1h.01M184.9 614.4h.01M195.2 638.1h.01M184.3 628.9h.01M188.4 631.5h.01M207.5 624.0h.01M194.6 613.3h.01M199.0 628.3h.01M199.7 615.1h.01M182.3 627.2h.01M201.7 614.5h.01M199.7 630.6h.01M184.0 627.8h.01M193.4 623.4h.01M192.9 611.1h.01M188.5 627.3h.01M200.7 623.7h.01M188.5 612.5h.01M195.8 611.4h.01M190.5 628.6h.01M188.4 620.3h.01M201.4 633.5h.01M207.4 626.7h.01M198.8 629.3h.01M196.3 633.1h.01M207.1 614.0h.01M199.7 617.9h.01M193.7 630.5h.01M210.0 632.0h.01M204.0 635.9h.01M206.7 623.5h.01M180.6 622.7h.01M187.4 624.9h.01M200.9 609.5h.01M197.4 635.2h.01M208.3 615.5h.01M183.3 613.8h.01M191.6 622.7h.01M198.4 623.6h.01M186.7 618.6h.01M194.0 632.9h.01M196.6 637.1h.01M203.5 615.3h.01M197.4 627.4h.01M206.9 626.2h.01M194.7 626.6h.01M206.3 618.6h.01M195.8 620.8h.01M188.5 610.6h.01M194.1 623.1h.01M202.2 629.5h.01M200.1 632.5h.01M180.2 621.1h.01M193.7 622.3h.01M202.0 618.5h.01M200.1 621.0h.01M183.5 624.9h.01M194.3 638.3h.01M184.5 622.6h.01M206.1 632.8h.01M194.7 616.9h.01M187.0 617.9h.01M183.0 627.7h.01M197.8 632.5h.01M202.3 611.8h.01M183.0 622.3h.01M206.3 626.2h.01M199.2 626.7h.01M201.6 619.4h.01" stroke="#35a828" stroke-width="1" stroke-linecap="round" fill="none"/>
<path d="M206.0 627.3h.01M197.2 612.6h.01M183.7 634.5h.01M197.5 632.3h.01M198.4 620.3h.01M183.6 624.6h.01M203.6 615.7h.01M207.9 632.9h.01M211.8 626.0h.01M198.6 633.7h.01M194.6 625.0h.01M191.5 638.9h.01M200.7 618.9h.01M204.4 635.9h.01M189.9 614.4h.01M196.2 618.4h.01M198.7 615.8h.01M195.5 635.0h.01M198.3 616.3h.01M185.0 615.1h.01M207.2 635.8h.01M199.8 617.2h.01M207.2 628.4h.01M211.3 629.8h.01M197.6 616.2h.01M201.2 616.3h.01M198.5 619.2h.01M208.9 615.1h.01M180.4 620.0h.01M200.5 613.5h.01M185.5 612.5h.01M185.0 633.2h.01M205.4 632.9h.01M183.5 624.4h.01M185.2 625.0h.01M193.9 620.5h.01M208.9 616.4h.01M206.1 628.3h.01M206.9 627.7h.01M197.1 622.8h.01M192.9 611.0h.01M195.6 636.5h.01M190.7 627.1h.01M208.0 616.4h.01M196.0 623.7h.01M196.0 625.6h.01M193.7 619.8h.01M208.4 626.9h.01M196.6 608.0h.01M187.2 615.3h.01M206.7 629.5h.01M199.9 634.1h.01M185.7 628.9h.01M201.5 639.2h.01M188.8 634.8h.01M196.1 627.4h.01M194.1 615.7h.01M181.8 617.8h.01M207.6 619.4h.01M207.5 625.6h.01M201.5 612.2h.01M182.5 629.2h.01M205.0 624.5h.01M184.6 623.6h.01M191.7 629.5h.01M196.9 622.3h.01M207.9 630.2h.01M202.1 611.2h.01M192.5 618.3h.01M203.5 618.0h.01M196.7 628.6h.01M194.0 626.9h.01M205.9 619.1h.01M198.5 618.1h.01M200.6 627.5h.01M188.3 622.2h.01M194.6 610.8h.01M204.5 618.5h.01M196.9 640.2h.01M195.9 626.3h.01M181.6 629.1h.01M195.6 638.0h.01M209.1 628.2h.01M201.4 620.6h.01M187.3 622.8h.01M204.5 619.2h.01M196.5 629.1h.01M195.5 612.6h.01M191.6 613.7h.01M190.6 620.7h.01M198.7 610.2h.01M184.3 632.9h.01M202.2 628.3h.01M201.2 627.8h.01M202.3 628.4h.01M204.2 616.5h.01M204.9 631.9h.01M197.2 623.4h.01M207.5 621.9h.01M193.1 631.4h.01M190.7 628.3h.01M204.9 634.9h.01M204.8 615.9h.01M190.4 631.1h.01M194.6 622.6h.01M189.8 638.3h.01M206.4 624.3h.01M194.4 617.1h.01M194.5 625.0h.01M181.6 616.8h.01M191.1 622.8h.01M196.6 639.2h.01M204.4 615.3h.01M201.3 635.5h.01M204.1 619.9h.01M200.2 620.1h.01M194.6 632.1h.01M185.2 623.0h.01M185.2 629.8h.01M199.4 621.7h.01M188.0 621.3h.01M195.9 616.0h.01M197.7 626.9h.01M198.1 623.7h.01M179.9 627.2h.01M181.0 626.5h.01M198.4 622.2h.01M200.1 627.2h.01M189.6 625.9h.01M198.5 609.2h.01M195.2 637.5h.01M189.0 630.5h.01M185.1 617.6h.01M190.4 638.3h.01M207.4 614.3h.01M197.4 623.9h.01M188.5 627.8h.01M196.3 631.3h.01M204.7 621.3h.01M196.8 633.9h.01M210.1 630.7h.01M206.1 613.9h.01M194.2 625.7h.01M199.5 618.3h.01M199.6 611.3h.01M202.9 638.4h.01M189.2 618.0h.01M208.3 625.0h.01M202.2 630.9h.01M187.3 626.7h.01M193.3 615.3h.01M201.3 632.6h.01M197.9 625.7h.01M205.2 617.3h.01M199.3 621.4h.01M204.4 623.7h.01M189.3 634.6h.01M194.7 632.7h.01M194.0 637.3h.01M182.1 631.9h.01M199.7 620.4h.01M187.2 627.3h.01M209.9 627.8h.01M187.8 620.3h.01M203.8 611.5h.01M198.8 615.5h.01M209.3 628.7h.01M209.9 628.4h.01M203.6 617.2h.01M182.0 627.2h.01M183.7 633.2h.01M196.8 624.2h.01M193.5 613.5h.01M190.3 612.1h.01M197.7 609.4h.01M196.4 622.4h.01M190.4 637.0h.01M204.3 622.7h.01M206.1 619.6h.01M201.0 610.0h.01M184.2 625.0h.01M186.5 629.0h.01M206.5 616.8h.01M184.6 621.0h.01M196.7 629.8h.01M198.0 618.1h.01M184.7 618.9h.01M185.1 626.2h.01M185.4 617.5h.01" stroke="#46da34" stroke-width="0.8" stroke-linecap="round" fill="none"/>
<path d="M185.5 613.6h.01M190.9 621.1h.01M197.0 612.2h.01M182.8 614.6h.01M199.9 638.2h.01M197.4 629.6h.01M205.0 620.5h.01M186.7 629.9h.01M204.5 622.7h.01M187.9 610.8h.01M205.8 636.5h.01M203.5 628.1h.01M206.3 613.0h.01M203.5 637.0h.01M203.7 614.5h.01M187.1 631.0h.01M191.6 612.0h.01M190.7 609.1h.01M194.3 621.5h.01M205.2 628.2h.01M195.0 625.7h.01M196.0 622.4h.01M202.4 617.9h.01M190.9 629.7h.01M193.9 608.9h.01M211.5 622.2h.01M207.5 621.9h.01M200.3 632.4h.01M191.4 626.9h.01M181.1 626.9h.01M188.5 621.9h.01M204.6 626.5h.01M210.0 630.4h.01M184.5 615.5h.01M199.1 619.2h.01M191.7 638.6h.01M202.6 627.2h.01M203.8 621.2h.01M197.5 610.5h.01M200.4 622.1h.01M191.4 617.6h.01M198.4 632.4h.01M206.0 622.6h.01M193.3 616.2h.01M183.2 625.0h.01M193.3 616.1h.01M195.1 622.1h.01M183.6 634.3h.01M201.6 612.2h.01M180.4 619.7h.01M205.9 628.6h.01M192.7 612.6h.01M204.3 627.0h.01M194.0 624.4h.01M203.7 624.7h.01M191.8 634.5h.01M205.1 627.1h.01M202.6 626.4h.01M184.7 629.2h.01M203.3 626.0h.01M201.8 611.7h.01M193.8 610.8h.01M191.0 631.5h.01M212.4 625.9h.01M182.5 633.1h.01M192.6 627.9h.01M194.4 629.6h.01M192.8 616.4h.01M196.0 624.6h.01M198.4 621.6h.01M197.9 608.4h.01M192.3 628.7h.01M186.2 622.7h.01M194.2 639.4h.01M204.9 636.5h.01M203.8 624.8h.01M194.5 622.8h.01M192.2 619.1h.01M205.7 626.5h.01M190.2 609.8h.01M193.5 611.0h.01M201.2 635.8h.01M183.8 614.4h.01M200.2 634.0h.01M203.6 631.8h.01M197.5 628.0h.01M203.9 622.1h.01M186.4 613.4h.01M197.0 621.1h.01M198.3 620.4h.01M201.9 628.9h.01M208.1 614.5h.01M198.6 626.9h.01M199.6 633.8h.01M190.4 621.1h.01M196.2 636.6h.01M187.5 637.1h.01M195.4 616.3h.01M206.6 622.0h.01M195.6 614.5h.01M205.3 619.7h.01M191.0 614.0h.01M203.2 632.0h.01M201.1 626.1h.01M193.3 631.3h.01M201.0 625.4h.01M199.5 623.7h.01M196.7 611.3h.01M194.4 629.5h.01M201.6 624.4h.01M208.2 634.6h.01M197.8 639.9h.01M206.0 636.4h.01M199.5 627.1h.01M192.1 625.0h.01M204.7 628.0h.01M200.2 635.9h.01M212.4 624.0h.01M198.7 623.3h.01M185.9 617.3h.01M205.2 616.1h.01M201.0 629.6h.01M183.2 615.9h.01M205.2 614.1h.01M197.2 621.7h.01M191.6 628.2h.01M193.7 625.7h.01M199.4 617.5h.01M190.6 630.7h.01M205.1 624.9h.01M196.0 618.1h.01M185.9 612.0h.01M189.8 620.6h.01M190.1 626.5h.01M189.4 638.8h.01M185.4 612.4h.01M203.0 624.8h.01M209.3 615.7h.01M200.9 616.3h.01M185.8 629.3h.01M210.9 623.9h.01M198.2 625.3h.01M188.0 616.3h.01M201.5 632.5h.01M208.6 629.3h.01M202.9 629.0h.01M195.2 626.6h.01M201.8 619.3h.01M201.9 620.8h.01M186.8 627.1h.01M199.6 612.1h.01M200.8 609.9h.01M187.7 622.2h.01M197.1 637.1h.01" stroke="#46da34" stroke-width="1.25" stroke-linecap="round" fill="none"/>
<radialGradient id="wg5" cx="232" cy="623.7" r="18.7" gradientUnits="userSpaceOnUse"><stop offset="0" stop-color="#1d6615"/><stop offset="0.72" stop-color="#1d6615"/><stop offset="1" stop-color="#154a10"/></radialGradient>
<ellipse cx="232" cy="623.7" rx="18.1" ry="17.6" fill="url(#wg5)"/>
<circle cx="232" cy="624.9" r="15.9" fill="none" stroke="#3fa52e" stroke-width="0.8" opacity="0.12"/>
<path d="M225.0 630.0h.01M241.6 631.3h.01M224.1 628.6h.01M228.0 633.5h.01M231.2 634.0h.01M239.7 618.6h.01M242.2 627.7h.01M232.1 618.1h.01M216.2 628.2h.01M223.1 633.5h.01M245.2 632.5h.01M220.4 627.1h.01M242.5 630.1h.01M228.7 611.1h.01M226.7 621.9h.01M242.1 614.6h.01M229.0 623.6h.01M230.1 618.7h.01M238.4 637.9h.01M245.7 614.6h.01M221.7 617.6h.01M224.2 613.2h.01M237.3 627.4h.01M224.1 629.5h.01M219.3 628.6h.01M238.6 636.2h.01M232.7 607.8h.01M233.1 616.6h.01M218.2 624.2h.01M228.3 622.6h.01M227.2 611.7h.01M231.8 619.3h.01M245.8 625.5h.01M224.9 630.9h.01M246.6 619.2h.01M238.8 623.4h.01M246.8 625.8h.01M221.5 614.5h.01M220.1 615.5h.01M229.5 631.6h.01M235.4 623.1h.01M223.5 626.7h.01M215.6 622.1h.01M234.5 625.9h.01M233.2 619.3h.01M229.5 620.9h.01M238.4 636.3h.01M230.2 611.9h.01M244.7 627.4h.01M245.6 617.7h.01M226.6 617.4h.01M221.1 629.4h.01M226.8 619.0h.01M227.1 631.2h.01M246.0 623.0h.01M223.1 632.5h.01M237.2 623.1h.01M247.1 619.4h.01M219.2 616.7h.01M238.4 620.4h.01M221.9 624.1h.01M241.6 622.1h.01M233.4 609.9h.01M237.5 618.9h.01M233.0 639.1h.01M225.2 627.1h.01M224.0 636.3h.01M229.7 611.6h.01M221.8 619.0h.01M245.0 619.0h.01M232.0 620.9h.01M232.1 628.8h.01M229.7 625.4h.01M224.1 610.4h.01M220.4 615.5h.01M221.7 623.9h.01M227.7 626.4h.01M236.1 613.0h.01M224.8 631.1h.01M247.6 622.9h.01M234.9 612.4h.01M232.7 619.7h.01M221.1 624.7h.01M232.6 634.3h.01M237.0 611.7h.01M234.5 626.3h.01M220.6 632.8h.01M238.5 633.3h.01M239.3 622.6h.01M227.5 629.5h.01" stroke="#35a828" stroke-width="1" stroke-linecap="round" fill="none"/>
<path d="M232.6 619.9h.01M217.5 625.7h.01M224.1 611.8h.01M227.8 639.0h.01M227.0 615.5h.01M233.7 628.7h.01M226.7 635.7h.01M230.2 621.1h.01M216.1 620.5h.01M227.5 625.7h.01M222.9 632.7h.01M224.8 633.5h.01M220.8 613.8h.01M231.0 626.6h.01M238.1 628.0h.01M244.6 621.3h.01M228.6 632.0h.01M235.1 610.9h.01M227.7 616.6h.01M216.5 619.8h.01M239.2 616.7h.01M234.6 626.2h.01M224.6 638.0h.01M216.3 621.4h.01M240.3 622.5h.01M237.1 611.1h.01M226.6 638.9h.01M232.5 609.9h.01M222.1 633.6h.01M230.2 630.0h.01M230.6 610.2h.01M228.6 621.7h.01M240.7 610.2h.01M227.7 638.9h.01M228.6 627.6h.01M218.4 620.3h.01M237.3 625.9h.01M223.9 614.3h.01M227.6 627.2h.01M232.8 635.1h.01M238.5 629.0h.01M240.4 609.4h.01M227.8 617.4h.01M237.1 638.0h.01M245.1 613.5h.01M236.7 632.1h.01M242.3 619.2h.01M233.8 609.2h.01M222.0 615.6h.01M244.3 613.9h.01M235.2 618.8h.01M228.2 618.7h.01M226.4 632.5h.01M226.8 614.5h.01M232.4 622.0h.01M227.5 620.8h.01M234.3 626.3h.01M237.3 610.6h.01M242.3 632.6h.01M235.0 622.2h.01M236.0 623.9h.01M224.1 618.3h.01M238.0 622.3h.01M221.2 618.3h.01M232.1 616.0h.01M233.6 615.4h.01M240.5 628.7h.01M219.2 614.5h.01M227.7 637.7h.01M225.5 625.9h.01M237.7 613.9h.01M236.7 624.5h.01M230.8 628.2h.01M240.8 631.2h.01M244.1 615.9h.01M248.3 623.5h.01M246.3 624.2h.01M234.1 620.0h.01M247.2 617.9h.01M220.1 623.6h.01M238.2 618.2h.01M230.1 624.9h.01M218.9 623.3h.01M218.8 625.5h.01M226.2 619.0h.01M238.9 631.8h.01M219.8 628.6h.01M246.4 620.2h.01M229.8 626.2h.01M231.0 622.2h.01M221.7 626.4h.01M234.0 631.5h.01M228.7 621.5h.01M225.8 636.4h.01M228.5 617.7h.01M233.5 607.3h.01M241.3 630.1h.01M223.0 622.7h.01M229.7 625.6h.01M224.3 635.2h.01M238.9 624.5h.01M226.5 622.7h.01M233.1 624.5h.01M239.5 630.3h.01M239.6 621.0h.01M225.7 628.3h.01M223.8 627.2h.01M232.1 630.9h.01M227.8 632.3h.01M243.5 618.3h.01M235.3 622.6h.01M238.6 616.5h.01M225.9 625.2h.01M234.9 635.4h.01M238.4 624.2h.01M228.2 626.2h.01M235.2 635.7h.01M219.3 628.9h.01M243.5 626.0h.01M232.4 614.2h.01M228.7 610.5h.01M242.0 632.4h.01M226.0 626.5h.01M224.9 630.4h.01M232.9 624.8h.01M240.5 623.9h.01M235.6 618.5h.01M243.3 621.9h.01M241.2 621.5h.01M220.4 628.3h.01M224.8 628.7h.01M223.0 609.7h.01M223.9 624.2h.01M238.4 613.3h.01M228.6 627.2h.01M229.4 635.1h.01M241.6 620.0h.01M229.5 620.2h.01M236.5 619.9h.01M222.4 620.9h.01M229.1 609.9h.01M232.5 622.5h.01M223.4 634.3h.01M231.3 624.5h.01M236.8 610.3h.01M245.1 617.4h.01M240.6 621.5h.01M238.1 628.3h.01M232.0 611.7h.01M246.6 627.9h.01M244.2 618.6h.01M229.6 627.4h.01M245.2 614.2h.01M234.0 623.3h.01M235.3 632.5h.01M215.5 623.4h.01M219.0 629.6h.01M231.6 625.5h.01M228.7 626.0h.01M241.6 623.9h.01M230.2 624.7h.01M245.0 626.5h.01M230.3 624.8h.01M222.6 635.4h.01M233.3 626.8h.01M227.6 617.3h.01M241.5 612.3h.01M227.5 611.3h.01M230.9 609.6h.01M231.6 613.1h.01M234.8 607.9h.01M230.8 635.4h.01" stroke="#46da34" stroke-width="0.8" stroke-linecap="round" fill="none"/>
<path d="M230.0 614.7h.01M230.1 625.0h.01M241.4 626.0h.01M238.8 620.6h.01M235.3 608.5h.01M233.0 621.9h.01M225.8 610.1h.01M232.1 617.4h.01M241.9 613.3h.01M235.5 634.5h.01M237.1 636.3h.01M245.8 616.9h.01M235.7 618.8h.01M232.2 631.4h.01M237.5 616.5h.01M229.1 621.8h.01M238.1 628.7h.01M229.8 608.3h.01M220.5 616.3h.01M239.3 617.6h.01M225.5 631.3h.01M224.3 628.9h.01M225.5 619.5h.01M225.6 626.1h.01M244.9 631.0h.01M242.1 620.9h.01M234.3 639.2h.01M223.7 632.0h.01M234.7 615.9h.01M231.3 629.1h.01M229.1 621.7h.01M220.4 623.1h.01M239.5 616.0h.01M223.5 632.0h.01M242.0 616.6h.01M229.5 625.3h.01M240.1 625.7h.01M243.3 625.1h.01M231.8 615.8h.01M242.9 614.8h.01M234.0 609.5h.01M239.2 615.9h.01M244.5 630.3h.01M241.4 635.4h.01M222.5 632.6h.01M223.4 637.5h.01M240.1 635.5h.01M243.1 630.3h.01M228.0 628.3h.01M245.7 617.0h.01M234.8 617.2h.01M236.4 619.9h.01M240.3 622.6h.01M244.1 627.1h.01M232.9 620.8h.01M231.9 610.6h.01M244.0 615.6h.01M223.5 633.7h.01M223.1 619.5h.01M237.6 617.7h.01M228.1 630.7h.01M230.5 621.9h.01M234.9 620.8h.01M238.8 634.3h.01M237.2 638.4h.01M244.4 618.1h.01M230.8 615.6h.01M238.0 612.1h.01M226.9 612.8h.01M237.1 610.5h.01M218.6 623.8h.01M222.0 636.1h.01M229.6 619.8h.01M225.7 623.0h.01M228.0 609.7h.01M234.3 623.9h.01M227.0 636.4h.01M226.8 613.8h.01M230.1 613.5h.01M232.4 625.7h.01M234.3 636.3h.01M231.2 634.0h.01M219.1 634.0h.01M227.2 617.7h.01M232.2 613.1h.01M225.3 630.5h.01M229.3 631.1h.01M217.7 622.2h.01M227.4 626.4h.01M228.3 622.0h.01M233.1 619.7h.01M238.9 612.2h.01M223.6 610.4h.01M232.9 636.2h.01M239.5 613.5h.01M233.5 626.1h.01M233.0 626.2h.01M230.8 618.8h.01M233.3 611.8h.01M240.5 630.2h.01M232.6 638.1h.01M239.6 623.6h.01M236.8 630.3h.01M234.1 636.0h.01M221.4 622.4h.01M217.4 624.8h.01M223.1 622.1h.01M215.6 623.2h.01M240.7 613.9h.01M236.0 616.8h.01M245.5 624.0h.01M220.9 625.2h.01M231.1 633.0h.01M235.5 615.9h.01M242.3 613.7h.01M219.0 632.1h.01M228.0 616.0h.01M230.0 607.3h.01M215.6 622.5h.01M229.4 617.3h.01M242.7 623.9h.01" stroke="#46da34" stroke-width="1.25" stroke-linecap="round" fill="none"/>
<radialGradient id="wg6" cx="51.6" cy="658.8" r="18.7" gradientUnits="userSpaceOnUse"><stop offset="0" stop-color="#287f1c"/><stop offset="0.72" stop-color="#287f1c"/><stop offset="1" stop-color="#1b6015"/></radialGradient>
<ellipse cx="51.6" cy="658.8" rx="18.1" ry="17.6" fill="url(#wg6)"/>
<circle cx="51.6" cy="660" r="15.9" fill="none" stroke="#3fa52e" stroke-width="0.8" opacity="0.12"/>
<path d="M51.3 654.0h.01M46.7 649.7h.01M49.4 647.6h.01" stroke="#3aa82b" stroke-width="0.8" stroke-linecap="round" fill="none"/>
<path d="M46.8 659.0h.01M49.3 660.8h.01" stroke="#3aa82b" stroke-width="1.25" stroke-linecap="round" fill="none"/>
<radialGradient id="wg7" cx="87.7" cy="658.8" r="18.7" gradientUnits="userSpaceOnUse"><stop offset="0" stop-color="#287f1c"/><stop offset="0.72" stop-color="#287f1c"/><stop offset="1" stop-color="#1b6015"/></radialGradient>
<ellipse cx="87.7" cy="658.8" rx="18.1" ry="17.6" fill="url(#wg7)"/>
<circle cx="87.7" cy="660" r="15.9" fill="none" stroke="#3fa52e" stroke-width="0.8" opacity="0.12"/>
<path d="M80.1 649.6h.01M88.8 662.1h.01M97.2 659.6h.01M84.2 658.3h.01" stroke="#3aa82b" stroke-width="0.8" stroke-linecap="round" fill="none"/>
<path d="M90.1 655.7h.01M96.0 667.1h.01" stroke="#3aa82b" stroke-width="1.25" stroke-linecap="round" fill="none"/>
<radialGradient id="wg8" cx="123.8" cy="658.8" r="18.7" gradientUnits="userSpaceOnUse"><stop offset="0" stop-color="#287f1c"/><stop offset="0.72" stop-color="#287f1c"/><stop offset="1" stop-color="#1b6015"/></radialGradient>
<ellipse cx="123.8" cy="658.8" rx="18.1" ry="17.6" fill="url(#wg8)"/>
<circle cx="123.8" cy="660" r="15.9" fill="none" stroke="#3fa52e" stroke-width="0.8" opacity="0.12"/>
<path d="M117.9 651.9h.01M126.6 663.0h.01" stroke="#35a828" stroke-width="1" stroke-linecap="round" fill="none"/>
<path d="M132.6 649.2h.01M126.0 656.9h.01M112.1 660.3h.01" stroke="#3fb82f" stroke-width="0.8" stroke-linecap="round" fill="none"/>
<path d="M109.6 666.0h.01M137.1 663.7h.01M125.2 649.9h.01" stroke="#3fb82f" stroke-width="1.25" stroke-linecap="round" fill="none"/>
<radialGradient id="wg9" cx="159.9" cy="658.8" r="18.7" gradientUnits="userSpaceOnUse"><stop offset="0" stop-color="#29821d"/><stop offset="0.72" stop-color="#29821d"/><stop offset="1" stop-color="#1b6015"/></radialGradient>
<ellipse cx="159.9" cy="658.8" rx="18.1" ry="17.6" fill="url(#wg9)"/>
<circle cx="159.9" cy="660" r="15.9" fill="none" stroke="#3fa52e" stroke-width="0.8" opacity="0.12"/>
<path d="M154.3 650.0h.01M172.7 651.9h.01" stroke="#35a828" stroke-width="1" stroke-linecap="round" fill="none"/>
<path d="M162.6 659.7h.01M173.5 664.7h.01M164.8 673.0h.01M165.3 669.9h.01" stroke="#46da34" stroke-width="0.8" stroke-linecap="round" fill="none"/>
<path d="M169.2 655.1h.01M145.4 657.9h.01M157.9 672.3h.01M168.0 660.3h.01M159.3 670.8h.01M163.6 674.7h.01M158.7 644.9h.01M149.6 646.7h.01M174.1 665.9h.01M166.7 673.4h.01" stroke="#46da34" stroke-width="1.25" stroke-linecap="round" fill="none"/>
<radialGradient id="wg10" cx="196" cy="658.8" r="18.7" gradientUnits="userSpaceOnUse"><stop offset="0" stop-color="#29821d"/><stop offset="0.72" stop-color="#29821d"/><stop offset="1" stop-color="#1b6015"/></radialGradient>
<ellipse cx="196" cy="658.8" rx="18.1" ry="17.6" fill="url(#wg10)"/>
<circle cx="196" cy="660" r="15.9" fill="none" stroke="#3fa52e" stroke-width="0.8" opacity="0.12"/>
<path d="M201.8 664.6h.01M192.3 671.4h.01M188.8 647.7h.01M198.1 665.6h.01M201.4 651.2h.01" stroke="#35a828" stroke-width="1" stroke-linecap="round" fill="none"/>
<path d="M187.7 660.2h.01M193.8 646.9h.01M199.9 669.3h.01M199.4 651.2h.01M202.2 649.0h.01M198.5 663.7h.01M209.9 664.9h.01" stroke="#46da34" stroke-width="0.8" stroke-linecap="round" fill="none"/>
<path d="M207.5 666.6h.01M205.8 665.6h.01M210.6 655.6h.01M201.9 671.7h.01M203.5 648.6h.01M189.6 645.8h.01M202.7 653.3h.01M198.4 656.8h.01M184.0 657.1h.01M183.2 651.3h.01M184.0 660.8h.01M189.0 673.9h.01" stroke="#46da34" stroke-width="1.25" stroke-linecap="round" fill="none"/>
<radialGradient id="wg11" cx="232" cy="658.8" r="18.7" gradientUnits="userSpaceOnUse"><stop offset="0" stop-color="#1f6a17"/><stop offset="0.72" stop-color="#1f6a17"/><stop offset="1" stop-color="#154a10"/></radialGradient>
<ellipse cx="232" cy="658.8" rx="18.1" ry="17.6" fill="url(#wg11)"/>
<circle cx="232" cy="660" r="15.9" fill="none" stroke="#3fa52e" stroke-width="0.8" opacity="0.12"/>
<path d="M218.8 649.5h.01M231.8 662.4h.01M232.3 666.3h.01M226.8 671.5h.01M241.6 666.3h.01M231.9 666.4h.01M224.6 668.6h.01M222.7 655.6h.01M238.7 646.0h.01M226.7 661.2h.01M231.3 644.2h.01M230.1 654.5h.01M219.0 657.2h.01M231.2 650.1h.01M225.0 664.1h.01M240.7 667.3h.01M222.5 663.7h.01M220.5 662.1h.01M226.7 672.9h.01M230.2 671.0h.01M236.8 645.5h.01M232.9 662.0h.01M246.1 665.0h.01M235.2 657.5h.01M241.6 658.5h.01M224.8 664.1h.01M247.6 654.8h.01M231.9 666.1h.01M244.0 658.6h.01M220.7 664.3h.01M220.9 669.6h.01M241.9 650.7h.01M235.8 656.2h.01M224.4 669.5h.01M227.6 652.8h.01M239.1 647.2h.01M226.6 652.0h.01M242.3 652.5h.01M239.1 644.1h.01M236.4 647.7h.01M239.6 653.0h.01M238.4 661.2h.01M226.6 659.4h.01M235.1 660.1h.01M217.8 663.9h.01M224.6 658.4h.01M233.6 652.5h.01M242.7 647.8h.01M243.0 658.2h.01M231.8 669.2h.01M232.0 675.2h.01M243.2 656.0h.01M229.8 673.3h.01M236.1 645.0h.01M240.1 662.6h.01M224.6 671.2h.01M240.4 646.8h.01M233.3 663.3h.01M245.3 664.0h.01M243.9 654.3h.01M239.9 651.1h.01M237.9 659.8h.01M235.5 664.8h.01M239.6 644.6h.01M238.7 649.3h.01M227.8 644.2h.01M215.7 660.5h.01M229.7 671.3h.01M230.6 657.5h.01M231.7 653.6h.01M230.9 667.7h.01M245.8 650.0h.01M216.4 662.8h.01M231.8 666.8h.01M239.9 655.3h.01M230.5 651.2h.01M230.0 661.7h.01M236.8 666.5h.01M232.2 671.2h.01M222.8 660.9h.01M243.4 648.8h.01M240.7 652.7h.01M236.3 659.2h.01M236.7 652.5h.01M233.0 671.6h.01M245.6 665.4h.01M232.8 652.6h.01M223.6 652.7h.01M231.4 650.3h.01M234.4 650.2h.01M226.3 669.9h.01M234.6 661.6h.01M220.5 653.7h.01M228.9 663.2h.01M225.0 670.4h.01M216.7 653.6h.01M241.3 668.0h.01M229.8 662.0h.01M238.6 669.6h.01" stroke="#35a828" stroke-width="1" stroke-linecap="round" fill="none"/>
<path d="M232.8 669.6h.01M225.3 653.7h.01M237.8 649.7h.01M219.3 650.0h.01M244.8 667.7h.01M224.9 650.1h.01M232.5 656.1h.01M223.3 649.4h.01M232.5 666.4h.01M230.3 655.3h.01M247.3 662.2h.01M229.8 647.9h.01M230.0 665.5h.01M230.5 648.3h.01M237.0 662.1h.01M242.3 659.1h.01M229.8 651.4h.01M247.6 663.1h.01M234.8 659.5h.01M221.5 667.0h.01M231.0 656.9h.01M233.7 673.2h.01M231.6 668.6h.01M231.1 658.9h.01M228.1 659.6h.01M243.5 661.4h.01M240.8 654.8h.01M226.8 668.4h.01M222.1 656.1h.01M228.3 659.0h.01M226.3 666.5h.01M233.4 655.2h.01M221.8 671.7h.01M234.7 662.4h.01M237.4 667.8h.01M232.2 645.5h.01M236.3 674.5h.01M239.9 668.5h.01M236.4 666.9h.01M232.9 653.6h.01M229.1 653.2h.01M225.9 659.9h.01M226.6 643.3h.01M244.4 665.2h.01M237.5 652.6h.01M234.8 668.9h.01M247.8 656.8h.01M227.7 660.5h.01M240.3 658.1h.01M228.2 654.8h.01M234.6 659.1h.01M236.3 668.6h.01M232.3 655.6h.01M235.4 658.1h.01M241.0 659.2h.01M244.6 658.7h.01M226.0 664.1h.01M228.7 673.3h.01M234.0 661.1h.01M234.1 669.9h.01M225.4 657.2h.01M237.6 660.1h.01M246.3 657.3h.01M227.7 649.3h.01M225.5 657.7h.01M233.3 667.7h.01M224.2 663.2h.01M240.0 666.0h.01M216.9 657.4h.01M242.4 666.2h.01M246.3 655.7h.01M233.9 663.2h.01M234.2 658.1h.01M233.4 657.0h.01M233.4 642.6h.01M227.0 664.8h.01M238.6 644.7h.01M235.8 665.4h.01M236.7 654.2h.01M231.3 652.6h.01M228.0 647.5h.01M223.9 663.0h.01M225.4 662.0h.01M223.7 654.4h.01M235.0 656.4h.01M226.7 653.1h.01M235.8 666.5h.01M220.9 659.7h.01M242.9 656.4h.01M218.9 662.0h.01M231.9 663.7h.01M218.4 663.3h.01M237.5 672.5h.01M220.7 656.5h.01M230.5 658.9h.01M233.6 662.9h.01M229.7 664.2h.01M230.8 669.2h.01M228.5 651.3h.01M220.3 649.6h.01M229.5 655.1h.01M217.1 655.4h.01M225.1 666.5h.01M232.2 653.8h.01M234.3 652.5h.01M223.0 663.5h.01M225.2 667.2h.01M231.8 652.4h.01M245.2 650.5h.01M228.5 670.9h.01M235.8 662.6h.01M239.0 670.2h.01M222.0 654.4h.01M235.9 655.9h.01M218.6 663.9h.01M245.1 660.5h.01M227.8 660.6h.01M245.7 668.1h.01M236.2 663.6h.01M221.1 649.7h.01M237.9 648.7h.01M245.4 652.2h.01M222.7 645.3h.01M233.1 657.6h.01M230.0 657.3h.01M228.9 670.1h.01M242.1 671.7h.01M232.2 674.2h.01M232.6 652.2h.01M238.6 665.6h.01M236.7 655.9h.01M224.9 648.7h.01M222.2 661.0h.01M229.6 663.4h.01M228.3 669.7h.01M229.4 666.1h.01M231.1 645.5h.01M238.3 656.9h.01M247.0 654.6h.01M231.5 656.3h.01M232.2 647.8h.01M242.5 656.2h.01M233.8 651.7h.01M244.5 663.5h.01M236.6 647.4h.01M222.9 669.6h.01M235.0 650.6h.01M241.0 656.4h.01M219.5 664.7h.01M236.6 666.3h.01M230.9 653.1h.01M241.0 655.7h.01M234.4 670.5h.01M244.6 649.8h.01M234.8 656.2h.01M223.9 662.0h.01M234.1 668.1h.01M221.0 670.0h.01M230.4 673.7h.01M218.4 653.5h.01M248.1 662.4h.01M245.0 659.1h.01M221.6 662.4h.01M244.5 653.5h.01M237.7 663.3h.01M223.1 671.8h.01M227.9 661.0h.01M230.0 662.4h.01M242.5 658.0h.01M245.3 652.2h.01M221.5 660.5h.01M239.2 658.0h.01M245.4 665.0h.01" stroke="#46da34" stroke-width="0.8" stroke-linecap="round" fill="none"/>
<path d="M223.4 668.5h.01M234.8 667.2h.01M228.3 655.8h.01M231.6 647.1h.01M219.7 669.8h.01M228.8 662.4h.01M228.7 658.3h.01M237.3 674.1h.01M231.3 657.3h.01M242.3 665.1h.01M224.0 666.2h.01M225.8 652.5h.01M234.7 658.5h.01M233.0 654.9h.01M235.3 656.3h.01M218.2 658.8h.01M238.4 663.5h.01M239.9 652.6h.01M223.9 664.6h.01M232.9 652.3h.01M235.5 665.6h.01M239.5 654.9h.01M229.2 655.2h.01M244.3 669.9h.01M229.8 653.9h.01M222.8 650.8h.01M247.1 665.6h.01M237.2 653.7h.01M222.1 665.6h.01M240.8 659.2h.01M226.2 659.5h.01M242.1 663.4h.01M231.7 674.6h.01M246.3 655.9h.01M226.0 661.2h.01M224.2 648.8h.01M227.2 651.4h.01M232.4 662.6h.01M236.2 670.5h.01M232.8 645.3h.01M225.5 647.4h.01M224.6 668.6h.01M238.6 651.6h.01M219.3 660.4h.01M229.8 671.7h.01M240.3 662.2h.01M223.3 670.6h.01M236.2 665.9h.01M218.4 660.2h.01M230.6 666.7h.01M231.7 664.9h.01M231.2 650.3h.01M235.8 671.3h.01M227.4 665.7h.01M237.9 673.7h.01M219.9 656.3h.01M225.2 662.5h.01M224.9 666.6h.01M224.1 661.5h.01M243.1 671.1h.01M237.4 660.6h.01M247.0 653.1h.01M218.9 660.6h.01M218.5 656.0h.01M238.8 645.7h.01M247.3 655.7h.01M233.4 653.3h.01M218.6 649.4h.01M244.7 663.5h.01M235.0 648.1h.01M244.8 650.2h.01M227.4 661.4h.01M222.0 648.9h.01M241.8 647.8h.01M225.1 643.9h.01M240.4 658.9h.01M239.1 649.6h.01M236.0 663.7h.01M233.2 673.2h.01M232.2 658.3h.01M233.8 664.5h.01M227.9 662.2h.01M246.3 653.8h.01M238.9 664.5h.01M237.8 656.8h.01M225.6 668.0h.01M239.9 667.1h.01M241.4 658.1h.01M229.7 665.7h.01M230.7 653.7h.01M229.4 658.4h.01M233.8 663.8h.01M237.6 662.6h.01M243.9 658.9h.01M242.9 667.7h.01M240.2 668.6h.01M235.6 666.4h.01M225.5 655.2h.01M227.0 648.1h.01M230.7 665.4h.01M226.0 664.8h.01M240.7 655.5h.01M232.8 656.0h.01" stroke="#46da34" stroke-width="1.25" stroke-linecap="round" fill="none"/>
</g></g></g>
<g><text x="267.2" y="585.8" font-size="12.5" font-weight="700">p</text>
<path d="M289.5 581.5H303A6.3 6.3 0 0 1 303 594.1H289.5Q287.3 594.1 287.3 591.9V583.7Q287.3 581.5 289.5 581.5Z" stroke="#7a2fd8" stroke-width="1.8" fill="none" stroke-dasharray="0.7 0.75"/>
<path d="M291 583H303A4.8 4.8 0 0 1 303 592.6H291Q288.8 592.6 288.8 590.4V585.2Q288.8 583 291 583Z" stroke="#d0a0a8" stroke-width="0.6" fill="#fff"/>
<path d="M291.51 584.6a1.27 3.2 0 1 0 0.01 0M294.54 584.6a1.27 3.2 0 1 0 0.01 0M297.56 584.6a1.27 3.2 0 1 0 0.01 0M300.59 584.6a1.27 3.2 0 1 0 0.01 0" stroke="#3f9a3f" stroke-width="0.85" fill="none"/>
<text x="317.6" y="588.07" font-size="4.95" font-weight="700" fill="#c8202e" stroke="#c8202e" stroke-width="0.08" textLength="54.7" lengthAdjust="spacingAndGlyphs">Propagation Competent</text>
<text x="317.6" y="593.87" font-size="4.95" font-weight="700" fill="#8a2ee6" stroke="#8a2ee6" stroke-width="0.08" textLength="44.7" lengthAdjust="spacingAndGlyphs">pcVSV-PnNL2018B</text>
<path d="M288.3 611.3V668.3H377.5" stroke="#111" stroke-width="0.9" fill="none"/>
<path d="M286.5 667.7H288.3M286.5 645.4H288.3M286.5 623.1H288.3M287.2 663.24H288.3M287.2 658.78H288.3M287.2 654.32H288.3M287.2 649.86H288.3M287.2 645.4H288.3M287.2 640.94H288.3M287.2 636.48H288.3M287.2 632.02H288.3M287.2 627.56H288.3M287.2 623.1H288.3M287.2 618.64H288.3M287.2 614.18H288.3M288.3 668.3V670.1M299.42 668.3V670.1M310.54 668.3V670.1M321.66 668.3V670.1M332.78 668.3V670.1M343.9 668.3V670.1M355.02 668.3V670.1M366.14 668.3V670.1M377.26 668.3V670.1" stroke="#111" stroke-width="0.6" fill="none"/>
<text x="285.9" y="668.99" font-size="3.6" font-weight="700" text-anchor="end" fill="#111" stroke="#111" stroke-width="0.08">0</text>
<text x="285.9" y="646.69" font-size="3.6" font-weight="700" text-anchor="end" fill="#111" stroke="#111" stroke-width="0.08">50</text>
<text x="285.9" y="624.39" font-size="3.6" font-weight="700" text-anchor="end" fill="#111" stroke="#111" stroke-width="0.08">100</text>
<text x="287.9" y="674.6" font-size="3.9" font-weight="700" text-anchor="middle" fill="#111" stroke="#111" stroke-width="0.08">10<tspan font-size="2.6" dy="-1.5">-3</tspan></text>
<text x="299.02" y="674.6" font-size="3.9" font-weight="700" text-anchor="middle" fill="#111" stroke="#111" stroke-width="0.08">10<tspan font-size="2.6" dy="-1.5">-2</tspan></text>
<text x="310.14" y="674.6" font-size="3.9" font-weight="700" text-anchor="middle" fill="#111" stroke="#111" stroke-width="0.08">10<tspan font-size="2.6" dy="-1.5">-1</tspan></text>
<text x="321.26" y="674.6" font-size="3.9" font-weight="700" text-anchor="middle" fill="#111" stroke="#111" stroke-width="0.08">10<tspan font-size="2.6" dy="-1.5">0</tspan></text>
<text x="332.38" y="674.6" font-size="3.9" font-weight="700" text-anchor="middle" fill="#111" stroke="#111" stroke-width="0.08">10<tspan font-size="2.6" dy="-1.5">1</tspan></text>
<text x="343.5" y="674.6" font-size="3.9" font-weight="700" text-anchor="middle" fill="#111" stroke="#111" stroke-width="0.08">10<tspan font-size="2.6" dy="-1.5">2</tspan></text>
<text x="354.62" y="674.6" font-size="3.9" font-weight="700" text-anchor="middle" fill="#111" stroke="#111" stroke-width="0.08">10<tspan font-size="2.6" dy="-1.5">3</tspan></text>
<text x="365.74" y="674.6" font-size="3.9" font-weight="700" text-anchor="middle" fill="#111" stroke="#111" stroke-width="0.08">10<tspan font-size="2.6" dy="-1.5">4</tspan></text>
<text x="376.86" y="674.6" font-size="3.9" font-weight="700" text-anchor="middle" fill="#111" stroke="#111" stroke-width="0.08">10<tspan font-size="2.6" dy="-1.5">5</tspan></text>
<path d="M294.99 647.57L296.5 642.43L298.01 637.62L299.51 633.56L301.02 630.4L302.53 628.1L304.03 626.51L305.54 625.45L307.05 624.76L308.55 624.31L310.06 624.03L311.56 623.85L313.07 623.74L314.58 623.67L316.08 623.62L317.59 623.59L319.1 623.58L320.6 623.56L322.11 623.56L323.62 623.55L325.12 623.55L326.63 623.55L328.13 623.55L329.64 623.55L331.15 623.55L332.65 623.55L334.16 623.55L335.67 623.55L337.17 623.55L338.68 623.55L340.19 623.55L341.69 623.55L343.2 623.55L344.7 623.55L346.21 623.55L347.72 623.55L349.22 623.55L350.73 623.55L352.24 623.55L353.74 623.55L355.25 623.55" stroke="#ee2a2a" stroke-width="0.9" fill="none"/>
<path d="M294.99 648.52V645.85M294.09 648.52h1.8M294.09 645.85h1.8M301.69 630.24V628.45M300.79 630.24h1.8M300.79 628.45h1.8M308.38 626.22V624.44M307.48 626.22h1.8M307.48 624.44h1.8M315.08 625.78V624.88M314.18 625.78h1.8M314.18 624.88h1.8M321.77 625.33V624.44M320.87 625.33h1.8M320.87 624.44h1.8" stroke="#ee2a2a" stroke-width="0.5" fill="none"/>
<rect x="293.9" y="646.09" width="2.18" height="2.18" fill="#ee2a2a"/>
<rect x="300.6" y="628.25" width="2.18" height="2.18" fill="#ee2a2a"/>
<rect x="307.29" y="624.24" width="2.18" height="2.18" fill="#ee2a2a"/>
<rect x="313.99" y="624.24" width="2.18" height="2.18" fill="#ee2a2a"/>
<rect x="320.68" y="623.79" width="2.18" height="2.18" fill="#ee2a2a"/>
<rect x="327.38" y="622.45" width="2.18" height="2.18" fill="#ee2a2a"/>
<rect x="334.07" y="622.01" width="2.18" height="2.18" fill="#ee2a2a"/>
<rect x="340.77" y="622.01" width="2.18" height="2.18" fill="#ee2a2a"/>
<rect x="347.46" y="622.01" width="2.18" height="2.18" fill="#ee2a2a"/>
<rect x="354.16" y="622.01" width="2.18" height="2.18" fill="#ee2a2a"/>
<path d="M294.99 667.61L296.5 667.58L298.01 667.53L299.51 667.46L301.02 667.36L302.53 667.23L304.03 667.04L305.54 666.77L307.05 666.41L308.55 665.9L310.06 665.2L311.56 664.26L313.07 663L314.58 661.35L316.08 659.24L317.59 656.64L319.1 653.55L320.6 650.05L322.11 646.29L323.62 642.48L325.12 638.84L326.63 635.54L328.13 632.71L329.64 630.37L331.15 628.52L332.65 627.08L334.16 626L335.67 625.2L337.17 624.61L338.68 624.18L340.19 623.87L341.69 623.65L343.2 623.49L344.7 623.38L346.21 623.3L347.72 623.24L349.22 623.2L350.73 623.17L352.24 623.15L353.74 623.14L355.25 623.13" stroke="#2a2af0" stroke-width="0.9" fill="none"/>
<path d="M294.99 665.92V663.24M294.09 665.92h1.8M294.09 663.24h1.8M301.69 667.25V663.69M300.79 667.25h1.8M300.79 663.69h1.8M308.38 667.25V665.47M307.48 667.25h1.8M307.48 665.47h1.8M315.08 662.35V659.67M314.18 662.35h1.8M314.18 659.67h1.8M321.77 648.97V646.29M320.87 648.97h1.8M320.87 646.29h1.8M328.47 632.91V631.13M327.57 632.91h1.8M327.57 631.13h1.8" stroke="#2a2af0" stroke-width="0.5" fill="none"/>
<circle cx="294.99" cy="664.58" r="1.2" fill="#2a2af0"/>
<circle cx="301.69" cy="665.47" r="1.2" fill="#2a2af0"/>
<circle cx="308.38" cy="666.36" r="1.2" fill="#2a2af0"/>
<circle cx="315.08" cy="661.01" r="1.2" fill="#2a2af0"/>
<circle cx="321.77" cy="647.63" r="1.2" fill="#2a2af0"/>
<circle cx="328.47" cy="632.02" r="1.2" fill="#2a2af0"/>
<circle cx="335.16" cy="625.78" r="1.2" fill="#2a2af0"/>
<circle cx="341.86" cy="623.55" r="1.2" fill="#2a2af0"/>
<circle cx="348.55" cy="623.1" r="1.2" fill="#2a2af0"/>
<circle cx="355.25" cy="623.1" r="1.2" fill="#2a2af0"/>
<path d="M335.05 661L335.89 659.39L336.72 657.5L337.56 655.33L338.4 652.9L339.23 650.26L340.07 647.48L340.91 644.64L341.74 641.85L342.58 639.18L343.42 636.71L344.26 634.5L345.09 632.57L345.93 630.92L346.77 629.53L347.6 628.39L348.44 627.46L349.28 626.72L350.11 626.13L350.95 625.66L351.79 625.29L352.62 625L353.46 624.77L354.3 624.6L355.13 624.46L355.97 624.35L356.81 624.27L357.65 624.21L358.48 624.16L359.32 624.12L360.16 624.09L360.99 624.07L361.83 624.05L362.67 624.04L363.5 624.03L364.34 624.02L365.18 624.01L366.01 624.01L366.85 624L367.69 624L368.52 624" stroke="#111" stroke-width="0.9" fill="none"/>
<path d="M335.05 662.35V659.67M334.15 662.35h1.8M334.15 659.67h1.8M355.13 628.45V626.67M354.23 628.45h1.8M354.23 626.67h1.8" stroke="#111" stroke-width="0.5" fill="none"/>
<path d="M335.05 659.91l1.05 1.9h-2.1z" stroke="none" stroke-width="0" fill="#111"/>
<path d="M341.74 640.73l1.05 1.9h-2.1z" stroke="none" stroke-width="0" fill="#111"/>
<path d="M348.44 630.03l1.05 1.9h-2.1z" stroke="none" stroke-width="0" fill="#111"/>
<path d="M355.13 626.46l1.05 1.9h-2.1z" stroke="none" stroke-width="0" fill="#111"/>
<path d="M361.83 623.34l1.05 1.9h-2.1z" stroke="none" stroke-width="0" fill="#111"/>
<path d="M368.52 622.89l1.05 1.9h-2.1z" stroke="none" stroke-width="0" fill="#111"/>
<path d="M335.05 665.02L368.52 661.9" stroke="#7a7a7a" stroke-width="0.7" fill="none"/>
<path d="M335.05 666.36V661.9M334.15 666.36h1.8M334.15 661.9h1.8M341.74 664.58V662.79M340.84 664.58h1.8M340.84 662.79h1.8M348.44 665.47V663.69M347.54 665.47h1.8M347.54 663.69h1.8M355.13 664.58V661.9M354.23 664.58h1.8M354.23 661.9h1.8M361.83 663.69V661.9M360.93 663.69h1.8M360.93 661.9h1.8M368.52 662.79V660.12M367.62 662.79h1.8M367.62 660.12h1.8" stroke="#7a7a7a" stroke-width="0.5" fill="none"/>
<circle cx="335.05" cy="664.13" r="1.1" fill="#fff" stroke="#7a7a7a" stroke-width="0.55"/>
<circle cx="341.74" cy="663.69" r="1.1" fill="#fff" stroke="#7a7a7a" stroke-width="0.55"/>
<circle cx="348.44" cy="664.58" r="1.1" fill="#fff" stroke="#7a7a7a" stroke-width="0.55"/>
<circle cx="355.13" cy="663.24" r="1.1" fill="#fff" stroke="#7a7a7a" stroke-width="0.55"/>
<circle cx="361.83" cy="662.79" r="1.1" fill="#fff" stroke="#7a7a7a" stroke-width="0.55"/>
<circle cx="368.52" cy="661.46" r="1.1" fill="#fff" stroke="#7a7a7a" stroke-width="0.55"/>
<path d="M291.6 602.6H297.6" stroke="#ee2a2a" stroke-width="0.7" fill="none"/>
<rect x="293.6" y="601.6" width="1.99" height="1.99" fill="#ee2a2a"/>
<text x="300.8" y="604.14" font-size="4.3" font-weight="700" fill="#111" stroke="#111" stroke-width="0.08" textLength="42.7" lengthAdjust="spacingAndGlyphs">GREK1, IC<tspan font-size="3" dy="0.8">50</tspan><tspan dy="-0.8">=0.01 nM</tspan></text>
<path d="M291.6 608.8H297.6" stroke="#2a2af0" stroke-width="0.7" fill="none"/>
<circle cx="294.6" cy="608.8" r="1.05" fill="#2a2af0"/>
<text x="300.8" y="610.34" font-size="4.3" font-weight="700" fill="#111" stroke="#111" stroke-width="0.08" textLength="36.7" lengthAdjust="spacingAndGlyphs">GRFT,    IC<tspan font-size="3" dy="0.8">50</tspan><tspan dy="-0.8">=1.18 nM</tspan></text>
<path d="M291.6 615.1H297.6" stroke="#111" stroke-width="0.7" fill="none"/>
<path d="M294.6 613.95l1.1 1.99h-2.21z" stroke="none" stroke-width="0" fill="#111"/>
<text x="300.8" y="616.64" font-size="4.3" font-weight="700" fill="#111" stroke="#111" stroke-width="0.08" textLength="37.2" lengthAdjust="spacingAndGlyphs">EK1,    IC<tspan font-size="3" dy="0.8">50</tspan><tspan dy="-0.8">=55.00 nM</tspan></text>
<path d="M348 602.6H354" stroke="#7a7a7a" stroke-width="0.6" fill="none"/>
<circle cx="351" cy="602.6" r="1.1" fill="#fff" stroke="#7a7a7a" stroke-width="0.55"/>
<text x="357.2" y="604.14" font-size="4.3" font-weight="700" fill="#111" stroke="#111" stroke-width="0.08" textLength="15.1" lengthAdjust="spacingAndGlyphs">EK1-Scr</text>
<text font-size="5.4" font-weight="700" fill="#111" stroke="#111" stroke-width="0.15" textLength="79" lengthAdjust="spacingAndGlyphs" transform="translate(269.73 679) rotate(-90)">Inhibition of PcVsV-PnNL2018B</text>
<text font-size="5.4" font-weight="700" fill="#111" stroke="#111" stroke-width="0.15" textLength="34" lengthAdjust="spacingAndGlyphs" transform="translate(276.13 658) rotate(-90)">infection (%)</text>
<text x="307.1" y="681.8" font-size="5.6" font-weight="700" fill="#111" stroke="#111" stroke-width="0.15" textLength="51.4" lengthAdjust="spacingAndGlyphs">Concentration (nM)</text></g>
<g><text x="394.6" y="584.6" font-size="12.5" font-weight="700">q</text>
<path d="M407.1 581.5H419.1A7 7 0 0 1 419.1 595.5H407.1Q404.9 595.5 404.9 593.3V583.7Q404.9 581.5 407.1 581.5Z" stroke="#3fc53f" stroke-width="1.8" fill="#d8f2d0" stroke-dasharray="0.7 0.75"/>
<path d="M408.6 583H419.1A5.5 5.5 0 0 1 419.1 594H408.6Q406.4 594 406.4 591.8V585.2Q406.4 583 408.6 583Z" stroke="#d0a0a8" stroke-width="0.6" fill="#fff"/>
<path d="M408.93 584.6a1.11 3.9 0 1 0 0.01 0M411.58 584.6a1.11 3.9 0 1 0 0.01 0M414.23 584.6a1.11 3.9 0 1 0 0.01 0M416.88 584.6a1.11 3.9 0 1 0 0.01 0" stroke="#3f9a3f" stroke-width="0.85" fill="none"/>
<text x="432.8" y="587.17" font-size="4.95" font-weight="700" fill="#c8202e" stroke="#c8202e" stroke-width="0.08" textLength="55.2" lengthAdjust="spacingAndGlyphs">Propagation Competent</text>
<text x="432.8" y="592.97" font-size="4.95" font-weight="700" fill="#4a9a4a" stroke="#4a9a4a" stroke-width="0.08" textLength="42.2" lengthAdjust="spacingAndGlyphs">pcVSV-MOW15-22</text>
<path d="M419.8 609.8V667.2H508.4" stroke="#111" stroke-width="0.9" fill="none"/>
<path d="M418 666.5H419.8M418 644.35H419.8M418 622.2H419.8M418.7 662.07H419.8M418.7 657.64H419.8M418.7 653.21H419.8M418.7 648.78H419.8M418.7 644.35H419.8M418.7 639.92H419.8M418.7 635.49H419.8M418.7 631.06H419.8M418.7 626.63H419.8M418.7 622.2H419.8M418.7 617.77H419.8M418.7 613.34H419.8M419.8 667.2V669M430.9 667.2V669M442 667.2V669M453.1 667.2V669M464.2 667.2V669M475.3 667.2V669M486.4 667.2V669M497.5 667.2V669M508.6 667.2V669" stroke="#111" stroke-width="0.6" fill="none"/>
<text x="417.4" y="667.79" font-size="3.6" font-weight="700" text-anchor="end" fill="#111" stroke="#111" stroke-width="0.08">0</text>
<text x="417.4" y="645.64" font-size="3.6" font-weight="700" text-anchor="end" fill="#111" stroke="#111" stroke-width="0.08">50</text>
<text x="417.4" y="623.49" font-size="3.6" font-weight="700" text-anchor="end" fill="#111" stroke="#111" stroke-width="0.08">100</text>
<text x="419.4" y="673.5" font-size="3.9" font-weight="700" text-anchor="middle" fill="#111" stroke="#111" stroke-width="0.08">10<tspan font-size="2.6" dy="-1.5">-3</tspan></text>
<text x="430.5" y="673.5" font-size="3.9" font-weight="700" text-anchor="middle" fill="#111" stroke="#111" stroke-width="0.08">10<tspan font-size="2.6" dy="-1.5">-2</tspan></text>
<text x="441.6" y="673.5" font-size="3.9" font-weight="700" text-anchor="middle" fill="#111" stroke="#111" stroke-width="0.08">10<tspan font-size="2.6" dy="-1.5">-1</tspan></text>
<text x="452.7" y="673.5" font-size="3.9" font-weight="700" text-anchor="middle" fill="#111" stroke="#111" stroke-width="0.08">10<tspan font-size="2.6" dy="-1.5">0</tspan></text>
<text x="463.8" y="673.5" font-size="3.9" font-weight="700" text-anchor="middle" fill="#111" stroke="#111" stroke-width="0.08">10<tspan font-size="2.6" dy="-1.5">1</tspan></text>
<text x="474.9" y="673.5" font-size="3.9" font-weight="700" text-anchor="middle" fill="#111" stroke="#111" stroke-width="0.08">10<tspan font-size="2.6" dy="-1.5">2</tspan></text>
<text x="486" y="673.5" font-size="3.9" font-weight="700" text-anchor="middle" fill="#111" stroke="#111" stroke-width="0.08">10<tspan font-size="2.6" dy="-1.5">3</tspan></text>
<text x="497.1" y="673.5" font-size="3.9" font-weight="700" text-anchor="middle" fill="#111" stroke="#111" stroke-width="0.08">10<tspan font-size="2.6" dy="-1.5">4</tspan></text>
<text x="508.2" y="673.5" font-size="3.9" font-weight="700" text-anchor="middle" fill="#111" stroke="#111" stroke-width="0.08">10<tspan font-size="2.6" dy="-1.5">5</tspan></text>
<path d="M426.48 654.7L427.99 651.66L429.49 648.28L430.99 644.69L432.5 641.09L434 637.65L435.5 634.54L437.01 631.84L438.51 629.6L440.02 627.79L441.52 626.38L443.02 625.29L444.53 624.47L446.03 623.86L447.53 623.41L449.04 623.08L450.54 622.84L452.04 622.66L453.55 622.53L455.05 622.44L456.56 622.37L458.06 622.33L459.56 622.29L461.07 622.27L462.57 622.25L464.07 622.23L465.58 622.22L467.08 622.22L468.58 622.21L470.09 622.21L471.59 622.21L473.1 622.2L474.6 622.2L476.1 622.2L477.61 622.2L479.11 622.2L480.61 622.2L482.12 622.2L483.62 622.2L485.13 622.2L486.63 622.2" stroke="#ee2a2a" stroke-width="0.9" fill="none"/>
<path d="M426.48 655.42V653.65M425.58 655.42h1.8M425.58 653.65h1.8M433.17 641.25V638.59M432.27 641.25h1.8M432.27 638.59h1.8M439.85 631.95V629.29M438.95 631.95h1.8M438.95 629.29h1.8" stroke="#ee2a2a" stroke-width="0.5" fill="none"/>
<circle cx="426.48" cy="654.54" r="1.2" fill="#ee2a2a"/>
<circle cx="433.17" cy="639.92" r="1.2" fill="#ee2a2a"/>
<circle cx="439.85" cy="630.62" r="1.2" fill="#ee2a2a"/>
<circle cx="446.53" cy="624.86" r="1.2" fill="#ee2a2a"/>
<circle cx="453.21" cy="622.64" r="1.2" fill="#ee2a2a"/>
<circle cx="459.9" cy="622.2" r="1.2" fill="#ee2a2a"/>
<circle cx="466.58" cy="622.2" r="1.2" fill="#ee2a2a"/>
<circle cx="473.26" cy="622.2" r="1.2" fill="#ee2a2a"/>
<circle cx="479.95" cy="622.2" r="1.2" fill="#ee2a2a"/>
<circle cx="486.63" cy="622.2" r="1.2" fill="#ee2a2a"/>
<path d="M426.48 666.44L427.99 666.42L429.49 666.38L430.99 666.33L432.5 666.26L434 666.15L435.5 666L437.01 665.79L438.51 665.5L440.02 665.08L441.52 664.49L443.02 663.68L444.53 662.57L446.03 661.08L447.53 659.13L449.04 656.66L450.54 653.64L452.04 650.14L453.55 646.3L455.05 642.34L456.56 638.51L458.06 635.01L459.56 632.01L461.07 629.54L462.57 627.6L464.07 626.11L465.58 625.01L467.08 624.2L468.58 623.62L470.09 623.2L471.59 622.9L473.1 622.69L474.6 622.55L476.1 622.44L477.61 622.37L479.11 622.32L480.61 622.28L482.12 622.26L483.62 622.24L485.13 622.23L486.63 622.22" stroke="#2a2af0" stroke-width="0.9" fill="none"/>
<path d="M426.48 665.61V662.96M425.58 665.61h1.8M425.58 662.96h1.8M439.85 664.28V662.51M438.95 664.28h1.8M438.95 662.51h1.8M453.21 648.78V646.12M452.31 648.78h1.8M452.31 646.12h1.8M459.9 632.39V630.62M459 632.39h1.8M459 630.62h1.8" stroke="#2a2af0" stroke-width="0.5" fill="none"/>
<circle cx="426.48" cy="664.28" r="1.2" fill="#2a2af0"/>
<circle cx="433.17" cy="666.5" r="1.2" fill="#2a2af0"/>
<circle cx="439.85" cy="663.4" r="1.2" fill="#2a2af0"/>
<circle cx="446.53" cy="660.74" r="1.2" fill="#2a2af0"/>
<circle cx="453.21" cy="647.45" r="1.2" fill="#2a2af0"/>
<circle cx="459.9" cy="631.5" r="1.2" fill="#2a2af0"/>
<circle cx="466.58" cy="623.97" r="1.2" fill="#2a2af0"/>
<circle cx="473.26" cy="622.2" r="1.2" fill="#2a2af0"/>
<circle cx="479.95" cy="622.2" r="1.2" fill="#2a2af0"/>
<circle cx="486.63" cy="622.2" r="1.2" fill="#2a2af0"/>
<path d="M466.47 664.13L467.3 663.86L468.14 663.54L468.97 663.17L469.81 662.74L470.64 662.24L471.48 661.65L472.31 660.99L473.15 660.22L473.98 659.35L474.82 658.36L475.65 657.25L476.49 656.02L477.33 654.66L478.16 653.18L479 651.59L479.83 649.89L480.67 648.12L481.5 646.28L482.34 644.41L483.17 642.53L484.01 640.67L484.84 638.86L485.68 637.12L486.51 635.47L487.35 633.93L488.19 632.51L489.02 631.21L489.86 630.04L490.69 628.98L491.53 628.05L492.36 627.23L493.2 626.51L494.03 625.88L494.87 625.34L495.7 624.87L496.54 624.47L497.37 624.12L498.21 623.83L499.04 623.58L499.88 623.36" stroke="#111" stroke-width="0.9" fill="none"/>
<path d="M466.47 664.73V662.07M465.57 664.73h1.8M465.57 662.07h1.8" stroke="#111" stroke-width="0.5" fill="none"/>
<circle cx="466.47" cy="663.4" r="1" fill="#111"/>
<circle cx="473.15" cy="661.18" r="1" fill="#111"/>
<circle cx="479.83" cy="650.11" r="1" fill="#111"/>
<circle cx="486.51" cy="636.38" r="1" fill="#111"/>
<circle cx="493.2" cy="626.63" r="1" fill="#111"/>
<circle cx="499.88" cy="623.53" r="1" fill="#111"/>
<path d="M466.47 663.84L499.88 664.73" stroke="#7a7a7a" stroke-width="0.7" fill="none"/>
<path d="M473.15 664.73V661.18M472.25 664.73h1.8M472.25 661.18h1.8M479.83 663.84V660.3M478.93 663.84h1.8M478.93 660.3h1.8" stroke="#7a7a7a" stroke-width="0.5" fill="none"/>
<rect x="465.47" y="663.28" width="2" height="2" fill="#fff" stroke="#7a7a7a" stroke-width="0.55"/>
<rect x="472.15" y="661.96" width="2" height="2" fill="#fff" stroke="#7a7a7a" stroke-width="0.55"/>
<rect x="478.83" y="661.07" width="2" height="2" fill="#fff" stroke="#7a7a7a" stroke-width="0.55"/>
<rect x="485.51" y="663.73" width="2" height="2" fill="#fff" stroke="#7a7a7a" stroke-width="0.55"/>
<rect x="492.2" y="663.73" width="2" height="2" fill="#fff" stroke="#7a7a7a" stroke-width="0.55"/>
<rect x="498.88" y="663.28" width="2" height="2" fill="#fff" stroke="#7a7a7a" stroke-width="0.55"/>
<path d="M425.3 602.3H431.3" stroke="#ee2a2a" stroke-width="0.7" fill="none"/>
<circle cx="428.3" cy="602.3" r="1.05" fill="#ee2a2a"/>
<text x="434.8" y="603.84" font-size="4.3" font-weight="700" fill="#111" stroke="#111" stroke-width="0.08" textLength="42.7" lengthAdjust="spacingAndGlyphs">GREK1, IC<tspan font-size="3" dy="0.8">50</tspan><tspan dy="-0.8">=0.01 nM</tspan></text>
<path d="M425.3 608.6H431.3" stroke="#2a2af0" stroke-width="0.7" fill="none"/>
<circle cx="428.3" cy="608.6" r="1.05" fill="#2a2af0"/>
<text x="434.8" y="610.14" font-size="4.3" font-weight="700" fill="#111" stroke="#111" stroke-width="0.08" textLength="37.2" lengthAdjust="spacingAndGlyphs">GRFT,    IC<tspan font-size="3" dy="0.8">50</tspan><tspan dy="-0.8">=1.28 nM</tspan></text>
<path d="M425.3 614.3H431.3" stroke="#111" stroke-width="0.7" fill="none"/>
<circle cx="428.3" cy="614.3" r="1.05" fill="#111"/>
<text x="434.8" y="615.84" font-size="4.3" font-weight="700" fill="#111" stroke="#111" stroke-width="0.08" textLength="43.2" lengthAdjust="spacingAndGlyphs">EK1,    IC<tspan font-size="3" dy="0.8">50</tspan><tspan dy="-0.8">=451.00 nM</tspan></text>
<path d="M482.5 602.3H488.5" stroke="#7a7a7a" stroke-width="0.6" fill="none"/>
<rect x="484.5" y="601.3" width="2" height="2" fill="#fff" stroke="#7a7a7a" stroke-width="0.55"/>
<text x="491.9" y="603.84" font-size="4.3" font-weight="700" fill="#111" stroke="#111" stroke-width="0.08" textLength="16.7" lengthAdjust="spacingAndGlyphs">EK1-Scr</text>
<text font-size="5.4" font-weight="700" fill="#111" stroke="#111" stroke-width="0.15" textLength="81" lengthAdjust="spacingAndGlyphs" transform="translate(400.63 679) rotate(-90)">Inhibition of PcVSV-MOW15-22</text>
<text font-size="5.4" font-weight="700" fill="#111" stroke="#111" stroke-width="0.15" textLength="34" lengthAdjust="spacingAndGlyphs" transform="translate(407.13 658) rotate(-90)">infection (%)</text>
<text x="439" y="681.4" font-size="5.6" font-weight="700" fill="#111" stroke="#111" stroke-width="0.15" textLength="50.4" lengthAdjust="spacingAndGlyphs">Concentration (nM)</text></g>
</g>
</svg>
</body></html>
